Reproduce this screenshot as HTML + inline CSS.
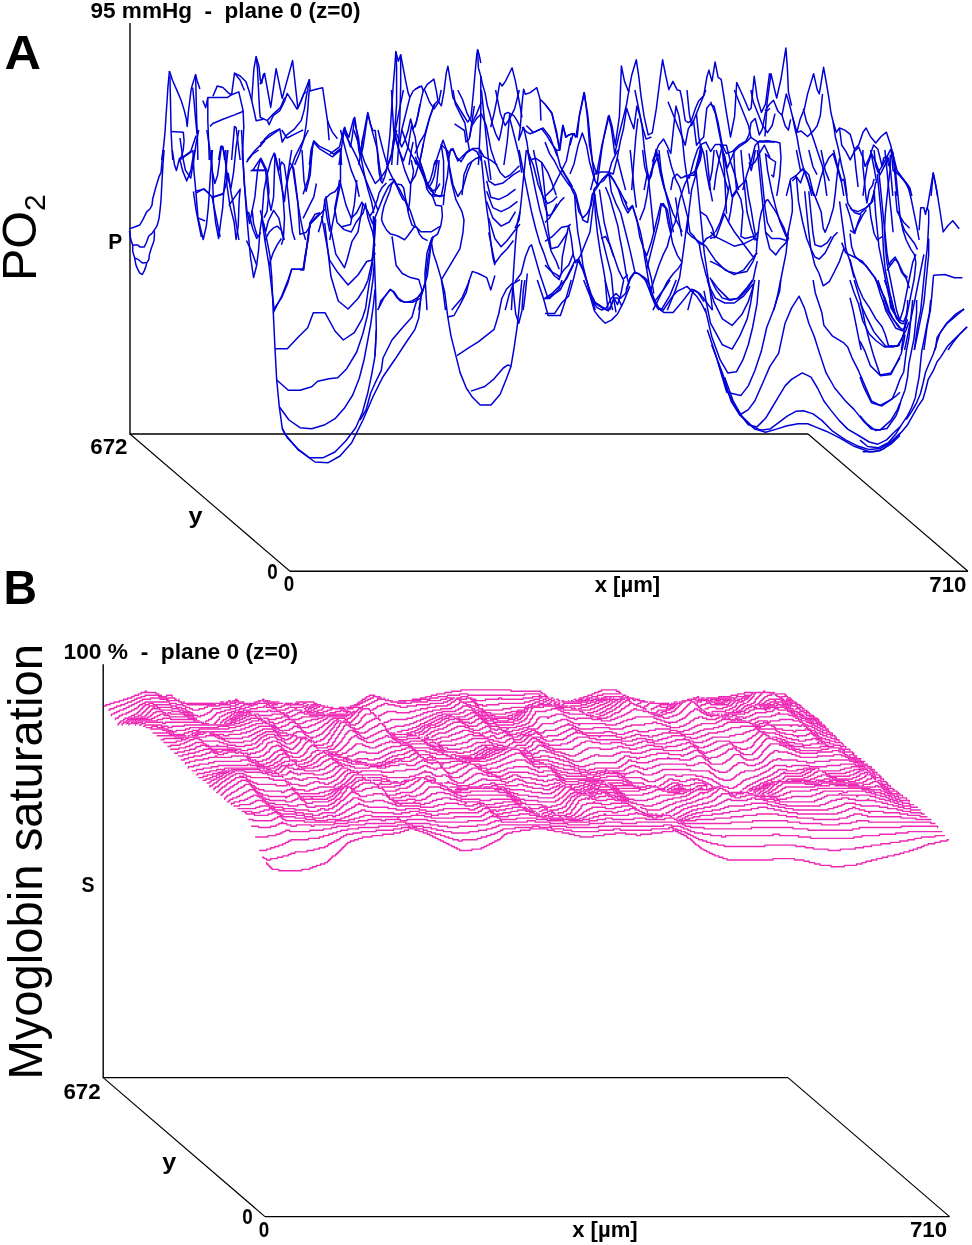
<!DOCTYPE html>
<html><head><meta charset="utf-8"><title>PO2 and myoglobin saturation</title>
<style>
html,body{margin:0;padding:0;background:#fff;}
svg{display:block;}
text{font-family:"Liberation Sans",Arial,sans-serif;fill:#000;white-space:pre;}
</style></head><body>
<svg width="972" height="1245" viewBox="0 0 972 1245">
<rect width="972" height="1245" fill="#fff"/>
<g stroke="#000" stroke-width="1.4" fill="none">
<polyline points="130,23 130,434 808,434"/>
<polyline points="290,571.3 968,571.3"/>
<polyline points="103.2,664.3 103.2,1077.6 788,1077.6"/>
<polyline points="265,1216.6 949.5,1216.6"/>
<g stroke-width="1.15"><polyline points="130,434 290,571.3"/><polyline points="808,434 968,571.3"/><polyline points="103.2,1077.6 265,1216.6"/><polyline points="788,1077.6 949.5,1216.6"/></g>
</g>
<g stroke="#0000d6" stroke-width="1.5" fill="none" stroke-linejoin="round">
<polyline points="129.2,228.9 134.6,227 139.8,225 143,219.3 146.8,211.6 150,209 152,205.1 152.6,200"/>
<polyline points="129.5,230.8 130.8,239.8 132.7,245 137.8,245 139.8,246.9 144.3,246.9 146.2,243 148.8,236 152,233.4 153.9,230.8 157.1,225.7 159,218.6 160.3,207.7 161,200"/>
<polyline points="132.7,245 132.7,251.4 134.6,257.8 138.5,259.7 142.3,262.9 146.8,262.6 148.8,259.7 149.4,254.6 151.3,248.2 153.9,241.1 154.5,234.7 154.2,230.8"/>
<polyline points="134.6,257.8 135.9,264.9 137.8,269.4 139.8,273.2 142.3,274.5 144.3,270.6 145.6,267.4 146.8,262.6"/>
<polyline points="275,348.7 287.3,348.7 298.3,337 307.7,327.7 313.3,312.7 325,312.7 335,331 343.3,340 354.3,332.7 362.3,318.7 365.7,307.7 367.3,296 369.3,282.7 371.7,269.3 373.3,256 374.3,242.7 375,232.7 375.7,219.3"/>
<polyline points="276.7,380 288.3,390.3 300,390.3 311.7,386.7 317.7,381.3 329,378.7 337.7,377.7 346.7,368.7 356.7,352 362.7,334.3 367.3,316 370.7,296 373,279.3 374.3,262.7"/>
<polyline points="279.3,406.7 289,420 300,427.7 311.7,428.7 325,424.7 335,418.7 344.3,408.3 352.7,395 359.3,378.3 364,360 367.3,342.7 370.7,324.3 373.3,306 375,289.3"/>
<polyline points="282.3,428.7 287.3,437.7 298.3,449.3 309.3,457.7 323.3,457.7 335,452 345.7,441 355.7,427.7 362.3,412.7 367.7,393.3 371.7,374.3 375,356 376.3,330"/>
<polyline points="285,434.3 298.3,450 315,462 328.3,462.7 340,456 351.7,442.7 363,420 373.3,396 383,376.7 395,359.3 405.7,343 415,329.3 418.7,318.3 421,297 427.3,275.7 431,245 433.3,236"/>
<polyline points="360,420 366,410 370.7,393 375.3,382.7 381.3,370.3 383,358 392,340 401.3,329 412,317 415,306 417.3,298.7 422.7,291"/>
<polyline points="379,307.7 380.7,301 385.3,295.7 390.3,289.3 392.7,291 396.7,297.3 400.3,301 405.7,302.3 412,301 418,297.3 422.7,291 425,282.7 426.7,269.3 428.3,256 431,245"/>
<polyline points="263.3,222.7 266.7,239.3 270,256 271.7,276 273.3,312.7 275,348.7 276.7,380 279.3,406.7 282.3,428.7 285,434.3"/>
<polyline points="373.3,216 374.3,256 375.7,296 376.3,330 375,356"/>
<polyline points="273.3,312.7 281.7,296 288.3,279.3 291.7,269.3 303.3,269.3 305,256 308.3,239.3 310,222.7 315,214.3 320,212.7"/>
<polyline points="711.6,280 718.1,288.6 728.9,299.4 737.5,298.4 746.2,288.6 752.6,280"/>
<polyline points="707.3,280 713.8,301.6 722.4,318.9 732.1,325.4 741.8,314.6 748.3,301.6 752.6,288.6 754.8,280"/>
<polyline points="704,290.8 710.5,323.2 722.4,344.8 732.1,349.1 739.7,336.2 747.2,318.9 750.5,303.8 753.7,284.3"/>
<polyline points="705.1,308.1 711.6,336.2 720.2,359.9 727.8,372.9 736.4,371.8 742.9,359.9 748.3,344.8 752.6,327.5 757,303.8 759.1,280"/>
<polyline points="707.3,329.7 715.9,355.6 726.7,392.3 740.8,395.6 748.3,385.9 754.8,370.7 761.3,351.3 766.7,327.5 774.3,308.1 779.7,290.8 780.7,280"/>
<polyline points="711.6,344.8 722.4,372.9 731,401 739.7,415 748.3,409.6 754.8,401 763.4,381.5 769.9,366.4 778.6,353.4 785.1,323.2 791.5,308.1 799.1,296.2 804.5,308.1 808.8,323.2 814.2,336.2 819.6,353.4 826.1,372.9 834.7,388 845.5,401 854.2,409.6 862.8,420.4 871.5,429.1 880.1,430.1 890.9,420.4 897.4,409.6 900,403.1"/>
<polyline points="718.1,362.1 727.8,392.3 739.7,413.9 748.3,424.7 757,426.9 765.6,418.3 772.1,407.5 778.6,396.7 785.1,385.9 791.5,379.4 802.3,372.9 811,377.2 817.5,388 823.9,401 830.4,409.6 839.1,420.4 847.7,429.1 858.5,435.5 869.3,442 877.9,444.2 886.6,439.9 895.2,431.2 900,426.9"/>
<polyline points="724.6,377.2 733.2,401 741.8,416.1 752.6,426.9 761.3,430.1 769.9,429.1 778.6,422.6 787.2,416.1 795.9,411.3 803.4,410.7 813.1,413.9 821.8,420.4 832.6,431.2 845.5,439.9 858.5,446.3 869.3,449.6 880.1,448.5 890.9,442 900,433.4"/>
<polyline points="739.7,415 754.8,429.1 765.6,432.3 776.4,429.1 787.2,425.8 798,423.7 807.7,423.7 815.3,426.9 826.1,431.2 839.1,437.7 854.2,446.3 869.3,451.7 880.1,450.7 890.9,444.2 900,435.5"/>
<polyline points="813.1,280 815.3,293 821.8,312.4 823.9,325.4 832.6,336.2 843.4,342.6 847.7,347 852,357.8 858.5,370.7 865,385.9 871.5,401 880.1,405.3 888.7,401 895.2,396.7 900,392.3"/>
<polyline points="849.9,280 854.2,293 858.5,303.8 862.8,321 869.3,334 875.8,340.5 884.4,347 893.1,347 900,344.8"/>
<polyline points="854.2,280 860.7,301.6 865,323.2 869.3,340.5 873.6,355.6 880.1,375.1 890.9,372.9 900,357.8"/>
<polyline points="877.9,280 882.3,293 886.6,305.9 893.1,318.9 900,327.5"/>
<polyline points="884.4,280 890.9,297.3 895.2,314.6 900,323.2"/>
<polyline points="161.7,160 163.6,146.6 165,132.2 166,116.3 167.1,100.5 167.9,87.5 169.4,71"/>
<polyline points="169.4,71 172.5,80.3 176.9,90.4 181.2,100.5 184.3,110.6 186.2,118.5 187.2,126.4 188.4,112 189.8,100.5 191,90.4 192,86.1 195.6,74.6 197,80.3 199.9,89"/>
<polyline points="169.9,76 170.5,101.9 171.1,132.2 172,149.5 172.8,160"/>
<polyline points="171.1,131.5 183.3,132.2 184.1,140.8 183.3,149.5 181.9,155.2 179.7,160"/>
<polyline points="195.6,74.6 196.2,100.5 196.7,120.7 197.3,133.6 197.9,160"/>
<polyline points="192.7,87.5 194.1,101.9 195.6,119.2 197,133.6"/>
<polyline points="202.8,100.5 205.7,107.7 207.8,97.6 227.3,97.6 231.6,94.7 238.8,91.9 243.1,110.6 243.8,126.4 243.1,140.8 242.4,160"/>
<polyline points="207.8,97.6 207.8,120.7 208.5,137.9 209.3,160"/>
<polyline points="210,126.4 212.9,123.5 222.9,119.2 234.5,114.9 241.7,112 243.1,110.6"/>
<polyline points="212.9,96.2 217.2,86.1 222.9,87.5 228.7,93.3 231.6,94.7"/>
<polyline points="231.6,94.7 234.5,73.1 240.2,76 246,81.8 248.9,90.4 251.7,100.5 254.6,113.5 256.1,120.7 263.3,119.2"/>
<polyline points="234.5,73.1 240.2,80.3 243.1,87.5 244.5,90.4"/>
<polyline points="251.7,100.5 253.9,68.8 256.1,56.6 258.9,65.9 260.4,80.3 261.8,83.2 263.3,74.6 265,73.1"/>
<polyline points="256.1,56.6 257.5,68.8 258.2,83.2 258.9,97.6 259.7,112 260.4,117.8"/>
<polyline points="218.6,160 220.8,146.6 222.9,146.6 224.7,160"/>
<polyline points="231.6,160 234.5,126.4 236.2,127.9 238.8,149.5 240.2,160"/>
<polyline points="247.4,160 254.6,150.9 265,140.8"/>
<polyline points="179.7,160 192.7,150.9"/>
<polyline points="260,84.4 264.6,73.7 270.7,107.4 276.1,68.7 282.2,98.4 292.6,60.5 297.9,108.3 303.6,94.3 309.4,79.4"/>
<polyline points="260,117.3 267.4,120.6 269.1,124.7 273.2,115.7 279.8,110.7 284.7,100.8 287.2,93.4 292.1,100.8 297,109.1 301.2,100.8 303.6,94.3 306.1,91.8"/>
<polyline points="267.4,120.6 273.2,114 280.6,107.4 284.7,97.6"/>
<polyline points="260,146.9 264.9,138.7 269.9,133.8 276.5,130.5 279.8,128.8 282.2,142 286.3,135.4 294.6,128.8 301.2,120.6 304.4,109.1 306.1,97.6 307.7,89.3 309.4,79.4"/>
<polyline points="309.4,79.4 310.2,91 316,89.3 322.6,87.7 325,104.1 327.5,120.6 330,127.2 332.4,132.1 337.4,138.7"/>
<polyline points="327.5,120.6 329.1,140.3"/>
<polyline points="294.6,165 299.5,153.5 303.6,140.3 306.1,125.5 307.7,110.7 308.6,97.6 309.4,89.3"/>
<polyline points="309.4,165 311,150.2 313.5,142 319.3,148.6 325.8,152.7 332.4,156.8 337.4,152.7 340.7,150.2 341.5,165"/>
<polyline points="339,165 342.3,142 344.8,127.2 347.2,137.1 350.5,146.9 352.2,137.1 354.7,117.3 357.1,133.8 358.8,150.2 360.4,156.8 362.1,142 363.7,133.8 365.3,125.5 367.8,112.4 370.3,123.9 372.8,130.5 375.2,130.5 376.9,146.9 378.5,165"/>
<polyline points="358.8,165 360.4,155.2 362.9,137.1"/>
<polyline points="386.7,165 390,133.8 391.7,107.4 393.3,84.4 395,64.6 395.8,51.5 398.3,61.3 400.7,54.8 403.2,67.9 405.7,81.1 408.1,92.6 409.8,97.6 413.1,91 420,86"/>
<polyline points="395.8,51.5 396.6,67.9 396.6,104.1 395,127.2 393.3,142 391.7,165"/>
<polyline points="400.7,54.8 400.7,84.4 399.9,117.3 399.1,133.8 398.3,150.2 397.4,165"/>
<polyline points="409.8,97.6 404.9,117.3 401.6,130.5 399.9,142"/>
<polyline points="396.6,133.8 401.6,146.9 404.9,140.3 408.1,130.5 410.6,119 413.1,128.8 416.4,122.2 420,104.1"/>
<polyline points="409,165 411.4,150.2 413.1,142"/>
<polyline points="415,89.3 421.6,86 423.2,91 427.3,84.4 433.9,79.1 436.1,89.3 438,100.8 441.3,105.8 443.8,92.6 446.3,72.9 447.9,66.3 450.4,81.1 452.9,97.6 457.8,105.8 462.7,114 467.7,122.2 471,117.3 473.4,92.6 475.1,72.9 476.7,54.8 477.6,49.8 479.2,54.8 480.8,63"/>
<polyline points="415,127.2 418.3,114 421.6,97.6 423.2,91"/>
<polyline points="415,153.5 419.9,142 424.9,133.8 429.8,117.3 434.8,104.1 438,100.8"/>
<polyline points="477.6,49.8 478.4,67.9 480.8,76.2 482.5,84.4 485,92.6 487.4,105.8 489.9,114 492.4,123.9 495.7,133.8 499,140.3 500.6,133.8 502.2,125.5 504.7,114 508,112.4 513.8,115.7 517.1,120.6 520.3,127.2 518.7,140.3 523.6,127.2 526.9,142 530.2,165"/>
<polyline points="480.8,76.2 480.8,100.8 480.8,117.3 480,133.8 479.2,150.2 478.4,165"/>
<polyline points="490.7,127.2 494,114 497.3,97.6 499.8,82.7 502.2,86 505.5,81.1 508.8,74.5 512.1,67.9 515.4,81.1 517.9,94.3 520.3,107.4 522,117.3"/>
<polyline points="520.3,127.2 522,104.1 523.6,89.3 525.3,94.3 530.2,92.6 536.8,87.7 540.1,99.2 545,104.1 551.6,112.4 554.9,127.2 558.2,142 559.9,150.2 563.1,125.5 565.6,137.1 568.1,135.4 571.4,133.8 575,133.8"/>
<polyline points="522,127.2 526.9,132.1 530.2,133.8 541.7,128.8 546.7,135.4 551.6,143.6 556.6,150.2 559.9,150.2"/>
<polyline points="540.1,99.2 540.9,120.6"/>
<polyline points="434.8,165 443,140.3 447.9,153.5 452.9,148.6 456.2,156.8 461.1,161.7 466,153.5 472.6,148.6 479.2,148.6 484.1,156.8 490.7,160.1 497.3,165"/>
<polyline points="454.5,123.9 459.4,127.2 464.4,130.5 466,142 469.3,138.7 472.6,117.3 474.3,105.8"/>
<polyline points="503.9,165 507.2,142 509.7,114"/>
<polyline points="570,145.2 573.1,133.9 577.2,137 579.3,116.4 584.4,92.8 587.5,118.5 589.5,145.2 592.6,161.7 596.7,174 601.9,145.2 605,132.9 609.1,115.4 612.2,126.7 615.3,145.2 619.4,116.4 621.4,66 624.5,81.4 628.6,91.7 631.7,75.3 636.3,59.8 638.9,77.3 641,95.8 644.1,116.4 648.2,134.9 652.3,132.9 656.4,108.2 660.5,75.3 662.6,59.8 665.7,75.3 668.8,89.7 672.9,81.4 677,89.7 680.1,90.7 682.1,100 685.2,120.5 688.3,122.6 691.4,120.5 695.5,108.2 698.6,101 703.7,95.8 706.8,77.3 708.9,70.1 712,81.4 715.1,61.9 718.1,77.3 721.2,79.4 726.4,112.3 730.5,137 734.6,116.4 736.7,82.5 742.8,95.8 749,110.2 751.1,108.2 754.2,76.3 757.2,97.9 761.4,112.3 765.5,104.1 769.6,73.2"/>
<polyline points="570,174 574.1,163.7 578.2,145.2 582.3,132.9 586.5,145.2 589.5,161.7 594.7,180.2"/>
<polyline points="617.3,157.6 620.4,141.1 623.5,128.8 626.6,108.2 630.7,120.5 633.8,128.8 636.9,106.1 640,116.4 643,128.8 646.1,139.1 651.3,137"/>
<polyline points="652.3,161.7 658.5,145.2 663.6,139.1 666.7,145.2 670.8,153.5 673.9,124.7 676,106.1 679.1,116.4 682.1,137 685.2,145.2 688.3,128.8 693.5,120.5 696.5,145.2 699.6,141.1 703.7,137 706.8,108.2 709.9,104.1 714,106.1 718.1,122.6 722.3,145.2 726.4,153.5 732.6,151.4 738.7,145.2 745.9,141.1 749,134.9 751.1,122.6 755.2,118.5 759.3,134.9 762.4,128.8 765.5,112.3 770,108.2"/>
<polyline points="590.6,190.1 594.7,174 600.9,172 608.1,172 613.2,174 617.3,157.6 621.4,174 625.6,190.1"/>
<polyline points="631.7,190.1 633.8,161.7 635.8,137 637.9,118.5"/>
<polyline points="644.1,190.1 647.2,174 650.2,178.1 654.4,157.6 656.4,153.5 660.5,174 664.7,190.1"/>
<polyline points="670.8,190.1 672.9,178.1 677,174 681.1,178.1 685.2,176.1 689.3,178.1 693.5,161.7 697.6,149.3 700.7,145.2 703.7,153.5 706.8,174 709.9,190.1"/>
<polyline points="714,190.1 716.1,174 722.3,145.2 726.4,145.2 730.5,161.7 734.6,174 738.7,190.1"/>
<polyline points="742.8,190.1 747,174 751.1,161.7 755.2,145.2 759.3,141.1 770,141.1"/>
<polyline points="749,153.5 751.1,165.8 755.2,161.7 759.3,153.5 764.4,145.2 770,157.6"/>
<polyline points="765,136.5 767.1,102.4 771,73.7 774.6,89.6 776.7,98.1 781,79 785.9,48.1 787.4,68.3 788.4,91.8 791.6,105.6"/>
<polyline points="765,110.9 769.3,104.5 773.5,100.3 777.8,110.9 782,115.2 786.3,93.9 789.5,104.5 792.7,117.3 796.9,132.2 800.1,119.4 804.4,108.8 807.6,93.9 813.6,73.7 817.2,89.6 819.3,93.9 823.6,67.3 826.8,85.4 828.9,98.1 831,113 833.1,121.6 836.3,132.2 839.5,128 844.9,130.1 850.2,134.3 854.4,149.3 858.7,145 863,132.2 866.1,128 870.4,136.5 875.7,142.9 881.1,136.5 886.4,132.2 890.6,145 892.8,153.5"/>
<polyline points="765,140.7 775.6,141.8 779.9,142.9 781,157.8 779.9,174.8 777.8,189.7 776.7,195.9"/>
<polyline points="765,153.5 769.3,157.8 775.6,162 773.5,176.9 771.4,174.8"/>
<polyline points="782,115.2 785.2,125.8 788.4,130.1 790.6,119.4"/>
<polyline points="792.7,117.3 794.8,128 796.9,136.5 799.1,149.3 802.3,164.2 805.5,174.8 809.7,185.5 814,195.9"/>
<polyline points="796.9,132.2 801.2,131.1 807.6,136.5 814,130.1 817.2,125.8 820.4,115.2 822.5,93.9"/>
<polyline points="803.3,108.8 806.5,121.6 809.7,128 814,140.7 818.2,153.5 822.5,166.3 824.6,179.1 826.8,195.9"/>
<polyline points="833.1,121.6 835.3,136.5 838.5,149.3 841.7,166.3 844.9,179.1 847,195.9"/>
<polyline points="839.5,128 841.7,145 845.9,151.4 850.2,159.9 854.4,151.4 858.7,147.1 863,157.8 865.1,166.3 869.3,157.8 873.6,145 877.9,149.3 882.1,166.3 886.4,157.8 890.6,149.3 892.8,153.5 897,170.5 903.4,179.1 909.8,187.6 911.9,195.9"/>
<polyline points="892.8,153.5 894.9,174.8 897,195.9"/>
<polyline points="931.1,195.9 933.2,172.7 935.4,183.3 937.5,195.9"/>
<polyline points="863,195.9 865.1,179.1 867.2,166.3 871.5,153.5 875.7,162 880,174.8 884.3,166.3 888.5,157.8 890.6,170.5 892.8,195.9"/>
<polyline points="786.3,195.9 790.6,179.1 796.9,174.8 803.3,168.4 807.6,179.1 811.8,195.9"/>
<polyline points="816.1,195.9 820.4,179.1 824.6,166.3 828.9,157.8 833.1,153.5 837.4,168.4 841.7,183.3 843.8,195.9"/>
<polyline points="152.4,200 155.9,187 159,176.7 161,172.6 162,162.3 163.1,150"/>
<polyline points="161,200 162,180.9 163.1,162.3 164.1,150"/>
<polyline points="172.3,150 174.4,164.4 176.4,170.6 179.5,158.2 182.6,170.6 186.7,180.9 190.8,170.6 192.9,158.2 195,150"/>
<polyline points="192.9,150 193.9,170.6 196,193.2 198,217.9 203.2,239.5 206.3,226.1 208.3,207.6 209.4,191.2 210.4,174.7 211.4,162.3 212.4,150"/>
<polyline points="196,193.2 203.2,189.1 209.4,193.2"/>
<polyline points="198,217.9 205.2,221"/>
<polyline points="211.4,150 212.4,174.7 213.5,203.5 215.5,222 218.6,238.5 220.7,222 222.7,207.6 223.8,191.2 225.8,170.6 227.9,150"/>
<polyline points="213.5,197.3 223.8,193.2"/>
<polyline points="225.8,150 226.9,185 229.9,205.6 234.1,222 236.1,239.5 238.2,226.1 239.2,199.4 240.2,189.1 228.9,205.6"/>
<polyline points="242.3,150 244.3,180.9 246.4,211.7 248.5,236.4 250.5,257 253.6,277.6 256.7,265.2 258.7,248.8 259.8,232.3 261.8,217.9 263.9,191.2 267,174.7 271.1,160.3 274.2,153.1 277.3,166.5 281.4,185 284.5,201.4 285.5,191.2 289.6,162.3 293.7,168.5 297.8,201.4 299.9,234.4 306.1,232.3 310.2,226.1"/>
<polyline points="248.5,211.7 252.6,228.2 256.7,238.5 260.8,232.3"/>
<polyline points="246.4,240.5 251.5,250.8 256.7,265.2"/>
<polyline points="261.8,217.9 264.9,240.5 269,265.2 271.1,283.7 274.2,310.1"/>
<polyline points="264.9,240.5 269,232.3 273.1,228.2 277.3,226.1 281.4,230.2 283.4,238.5 281.4,244.7"/>
<polyline points="269,265.2 273.1,252.9 277.3,244.7 281.4,238.5"/>
<polyline points="273.1,310.1 281.4,298.1 287.6,283.7 291.7,269.3 303,269.3 306.1,252.9 308.1,236.4 310.2,224.1 318.4,215.8 322.5,211.7 325,209.7"/>
<polyline points="289.6,162.3 291.7,150"/>
<polyline points="246.4,162.3 252.6,154.1 258.7,150"/>
<polyline points="252.6,170.6 260.8,158.2 267,170.6 269,191.2 267,211.7 263.9,217.9"/>
<polyline points="250.5,170.6 264.9,170.6"/>
<polyline points="302,150 304,180.9 306.1,191.2 310.2,174.7 312.2,150"/>
<polyline points="318.4,232.3 322.5,217.9 325,199.4"/>
<polyline points="279.3,158.2 281.4,180.9 283.4,201.4 284.5,217.9 283.4,238.5"/>
<polyline points="325.9,196 329.6,223.2 335.8,254.1 344.4,267.7 346.9,260.2 351.9,241.7 358,231.9 363,203.5"/>
<polyline points="321.6,215.8 329.6,260.2 337,271.4 348.1,284.9 358,275 366.7,261.5 371.6,260.2 375.3,252.8"/>
<polyline points="324.7,223.2 330.9,276.3 338.3,301 348.1,309 358,298.5 364.2,288.6 367.9,280.2 372,262 374,240 375,217"/>
<polyline points="300,270.1 303.7,270.1 307.4,241.7 309.9,223.2 316,217 319.8,213.3"/>
<polyline points="340.7,226.9 350.6,224.4 351.9,217 354.3,204.7 355.6,192.3 356.8,180"/>
<polyline points="392,236.4 396.1,265.2 402.3,273.5 410.5,277.6 418.8,279.6 421.9,289.9 420.8,298.1 418.8,310.1"/>
<polyline points="377.6,310.1 383.8,298.1 390,289.9 394.1,292 398.2,298.1 404.4,302.3 412.6,302.3 420.8,298.1"/>
<polyline points="431.1,240.5 433.2,252.9 437.3,265.2 441.4,279.6 443.5,294 445.5,310.1"/>
<polyline points="427,310.1 426,294 424.9,273.5 427,252.9 431.1,240.5"/>
<polyline points="441.4,279.6 447.6,269.3 453.7,259.1 459.9,248.8 463,232.3 464,220 462,211.7 455.8,199.4 451.7,182.9 449.6,170.6 447.6,150"/>
<polyline points="451.7,310.1 462,298.1 468.1,283.7 472.3,271.4 478.4,273.5 486.7,277.6 490.8,289.9 494.9,275.5"/>
<polyline points="462,195.3 464,174.7 468.1,164.4 476.4,158.2 482.6,156.2"/>
<polyline points="484.6,160.3 488.7,180.9 494.9,185 503.1,182.9 513.4,174.7 520,170.6"/>
<polyline points="486.7,180.9 490.8,197.3 499,199.4 507.2,195.3 515.5,189.1"/>
<polyline points="486.7,191.2 492.8,207.6 501.1,211.7 509.3,207.6 517.5,201.4"/>
<polyline points="486.7,201.4 492.8,217.9 501.1,226.1 509.3,222 515.5,211.7"/>
<polyline points="480.5,150 482.6,170.6 484.6,191.2 486.7,207.6 488.7,222 490.8,242.6 492.8,257 494.9,265.2"/>
<polyline points="488.7,217.9 494.9,238.5 501.1,246.7 507.2,240.5 513.4,232.3 520,224.1"/>
<polyline points="488.7,232.3 494.9,263.2 501.1,254.9 507.2,248.8 513.4,240.5"/>
<polyline points="505.2,310.1 509.3,294 513.4,283.7 520,279.6"/>
<polyline points="511.4,310.1 513.4,273.5 515.5,242.6 517.5,222 520,211.7"/>
<polyline points="519.1,150 523.2,170.6 527.3,191.2 531.5,211.7 535.6,228.2 539.7,242.6 543.8,252.9 547.9,265.2 554.1,275.5 559.2,279.6 561.3,273.5 562.3,257 566.4,236.4 568.5,226.1 570.6,224.1"/>
<polyline points="527.3,150 531.5,170.6 535.6,191.2 539.7,209.7 543.8,224.1 547.9,238.5 551,250.8 556.2,261.1 559.2,269.3"/>
<polyline points="533.5,150 537.6,170.6 541.7,191.2 544.8,205.6 547.9,215.8 552,213.8 556.2,207.6 560.3,201.4 564.4,197.3"/>
<polyline points="529.4,160.3 535.6,158.2 541.7,162.3 547.9,172.6 552,182.9 556.2,195.3"/>
<polyline points="541.7,162.3 543.8,182.9 545.9,203.5 547.9,228.2 551,248.8 558.2,246.7 562.3,240.5 567.5,232.3"/>
<polyline points="556.2,150 560.3,166.5 566.4,176.7 572.6,187"/>
<polyline points="515,228.2 519.1,220 521.2,201.4 523.2,180.9 525.3,160.3 526.3,150"/>
<polyline points="515,281.7 521.2,273.5 525.3,257 529.4,246.7 531.5,244.7 535.6,259.1 539.7,273.5 543.8,285.8 547.9,298.1 554.1,294 560.3,289.9 564.4,281.7 568.5,273.5 574.7,261.1 578.8,259.1 582.9,269.3 587,281.7 591.1,294 595.2,302.3 601.4,306.4 607.6,310.1"/>
<polyline points="523.2,310.1 525.3,294 527.3,273.5"/>
<polyline points="562.3,170.6 568.5,180.9 572.6,191.2 574.7,195.3 576.7,201.4 578.8,211.7 582.9,217.9 587,213.8 591.1,205.6 594.2,189.1 599.4,182.9 603.5,180.9 608.6,173.7 613.8,180.9 619.9,191.2 624.1,199.4 627.1,203.5"/>
<polyline points="574.7,195.3 575.7,211.7 577.8,232.3 580.8,248.8 582.9,265.2 586,277.6 589.1,289.9 593.2,302.3 595.2,310.1"/>
<polyline points="594.2,189.1 595.2,211.7 597.3,232.3 600.4,252.9 603.5,269.3 605.5,281.7 609.7,298.1 612.7,310.1"/>
<polyline points="605.5,187 609.7,197.3 613.8,211.7 617.9,226.1 619.9,238.5 622,248.8 624.1,261.1 626.1,273.5 628.2,281.7"/>
<polyline points="601.4,238.5 605.5,236.4 609.7,244.7 613.8,257"/>
<polyline points="608.6,173.7 611.7,162.3 615.8,154.1 617.9,150"/>
<polyline points="624.1,199.4 628.2,209.7 632.3,205.6 636.4,217.9 640.5,232.3 642.6,242.6 644.6,257 646.7,269.3 648.7,281.7 650.8,294 654.9,304.3 659,310.1"/>
<polyline points="630.2,150 632.3,170.6 634.3,191.2 636.4,207.6"/>
<polyline points="609.7,310.1 613.8,298.1 617.9,298.1 622,306.4"/>
<polyline points="626.1,289.9 630.2,277.6 634.3,272.4 638.5,273.5 644.6,277.6 648.7,281.7"/>
<polyline points="642.6,150 644.6,166.5 648.7,180.9 650.8,172.6 654.9,162.3 659,154.1"/>
<polyline points="648.7,180.9 650.8,201.4 652.9,222 653.9,232.3"/>
<polyline points="659,150 661.1,170.6 665.2,191.2 669.3,207.6 671.4,222 673.4,232.3"/>
<polyline points="646.7,269.3 650.8,252.9 654.9,236.4 659,220 661.1,205.6 663.1,203.5 667.3,209.7 671.4,232.3 669.3,238.5 667.3,246.7 663.1,254.9 659,265.2 654.9,277.6 650.8,289.9"/>
<polyline points="667.3,150 671.4,166.5 675.5,178.8 679.6,187 683.7,201.4 687.8,217.9 689.9,232.3"/>
<polyline points="675.5,197.3 677.6,211.7 679.6,224.1 681.7,236.4"/>
<polyline points="689.9,232.3 694,236.4 698.1,242.6 702.2,244.7 706.4,238.5 710.5,236.4 715,232.3"/>
<polyline points="683.7,176.7 689.9,174.7 696.1,170.6 700.2,160.3 702.2,150"/>
<polyline points="687.8,217.9 685.8,232.3 683.7,248.8 681.7,263.2 677.6,269.3 673.4,273.5 667.3,281.7 661.1,294 657,302.3 652.9,310.1"/>
<polyline points="681.7,263.2 679.6,277.6 675.5,289.9 671.4,300.2 667.3,310.1"/>
<polyline points="687.8,310.1 692,294 694,289.9 700.2,294 706.4,302.3 712.5,310.1"/>
<polyline points="696.1,170.6 698.1,191.2 700.2,211.7 702.2,232.3 704.3,252.9 707.4,273.5 710.5,294 712.5,310.1"/>
<polyline points="700.2,211.7 706.4,215.8 712.5,228.2 715,238.5"/>
<polyline points="706.4,150 708.4,170.6 710.5,191.2 712.5,201.4"/>
<polyline points="710,261.1 718.2,265.2 728.5,271.4 736.7,273.5 747,271.4 753.2,261.1 756.3,252.9 757.3,236.4"/>
<polyline points="710,238.5 716.2,236.4 724.4,213.8 728.5,222 734.7,232.3 740.9,240.5 747,248.8 753.2,257 757.3,252.9"/>
<polyline points="710,277.6 716.2,289.9 722.3,298.1 730.6,300.2 738.8,298.1 747,289.9 753.2,279.6 755.3,269.3 757.3,261.1"/>
<polyline points="728.5,222 730.6,211.7 732.6,197.3 736.7,191.2 740.9,199.4 742.9,211.7 740.9,236.4 745,238.5 753.2,236.4 757.3,240.5"/>
<polyline points="736.7,191.2 734.7,170.6 733.7,150"/>
<polyline points="722.3,150 724.4,170.6 725.4,191.2 726.5,213.8"/>
<polyline points="710,180.9 712.1,170.6 714.1,150"/>
<polyline points="716.2,150 722.3,170.6 728.5,191.2"/>
<polyline points="740.9,150 742.9,170.6 745,191.2 747,211.7 751.2,228.2 755.3,240.5"/>
<polyline points="749.1,162.3 751.2,170.6 753.2,162.3 755.3,150"/>
<polyline points="757.3,150 759.4,170.6 761.4,191.2 763.5,211.7 765.6,232.3 769.7,248.8 775.8,254.9 780,248.8 786.1,242.6 788.2,232.3"/>
<polyline points="765.6,154.1 767.6,170.6 771.7,191.2 775.8,207.6 780,222 786.1,236.4 789.2,238.5"/>
<polyline points="767.6,199.4 771.7,205.6 775.8,211.7 780,220 784.1,228.2 788.2,240.5"/>
<polyline points="765.6,232.3 771.7,238.5 780,238.5 786.1,240.5"/>
<polyline points="757.3,240.5 759.4,222 761.4,211.7 765.6,201.4 767.6,199.4"/>
<polyline points="790.2,180.9 792.3,201.4 792.3,211.7 788.2,232.3 786.1,252.9 782,273.5 777.9,294 773.8,310.1"/>
<polyline points="792.3,180.9 796.4,176.7 800.5,182.9 804.7,170.6 808.8,174.7 812.9,191.2 817,201.4 821.1,211.7 823.2,228.2 825.2,232.3 829.3,222 833.5,207.6 835.5,191.2 837.6,170.6 839.6,158.2"/>
<polyline points="796.4,176.7 798.5,201.4 802.6,222 806.7,238.5 810.8,248.8 814.9,257 819.1,259.1 825.2,252.9 829.3,244.7 833.5,236.4 837.6,232.3"/>
<polyline points="808.8,191.2 810.8,211.7 812.9,232.3 814.9,244.7 821.1,246.7 827.3,242.6 831.4,236.4"/>
<polyline points="804.7,191.2 806.7,211.7 808.8,232.3 810.8,248.8 814.9,265.2 819.1,273.5 823.2,285.8 829.3,281.7 833.5,273.5 839.6,261.1 843.7,248.8"/>
<polyline points="839.6,201.4 841.7,217.9 843.7,232.3 845.8,248.8 849.9,261.1 854,277.6"/>
<polyline points="843.7,178.8 845.8,191.2 847.9,203.5 852,209.7 858.1,211.7 866.4,207.6 872.6,201.4 874.6,191.2"/>
<polyline points="845.8,203.5 849.9,215.8 854,232.3 858.1,224.1 862.3,215.8 866.4,209.7"/>
<polyline points="841.7,242.6 845.8,252.9 854,257 862.3,261.1 868.4,269.3 874.6,277.6 880.8,289.9 884.9,298.1 889,310.1"/>
<polyline points="884.9,150 887,170.6 889,191.2 891.1,211.7 893.1,232.3"/>
<polyline points="891.1,150 893.1,170.6 899.3,174.7 905.5,182.9 910,191.2"/>
<polyline points="878.7,170.6 880.8,191.2 882.8,211.7 884.9,232.3 887,252.9 889,265.2 891.1,261.1 895.2,257 899.3,265.2 903.4,273.5 907.5,277.6"/>
<polyline points="895.2,191.2 897.2,211.7 903.4,222 909.6,228.2"/>
<polyline points="870.5,150 874.6,170.6 876.7,182.9"/>
<polyline points="833.5,150 837.6,166.5 841.7,180.9 843.7,178.8"/>
<polyline points="821.1,150 825.2,170.6 829.3,180.9"/>
<polyline points="808.8,150 812.9,166.5 817,174.7"/>
<polyline points="796.4,150 800.5,170.6 802.6,170.6"/>
<polyline points="854,150 856.1,170.6 858.1,187"/>
<polyline points="927.1,209.4 930.3,190.2 933.2,173.3 936.7,190.2 940,211 943.2,231.9 948,225.5 952.8,220.7 959.2,228.7"/>
<polyline points="919.1,230.3 920.7,207.8 923.9,207.8 925.5,214.3 927.1,207.8 928.7,211 928.7,222.3 927.9,238.4 927.1,249.6 925.5,262.4 923.9,278.5 922.3,294.6 920.7,310.6 917.5,326.7 914.3,350"/>
<polyline points="933.5,275.3 944.8,274.5 954.4,277.7 962.4,277.7"/>
<polyline points="933.5,275.3 931.9,294.6 930.3,310.6 927.1,326.7 923.9,350"/>
<polyline points="964.1,309 956,313.9 946.4,323.5 940,333.1 936.7,342.8 935.1,350"/>
<polyline points="967.3,326.7 959.2,334.7 952.8,342.8 948,350"/>
<polyline points="892.6,151.6 895,166.1 896.6,182.1 898.2,198.2 899.8,214.3 903,230.3 906.2,240 911,249.6 914.3,254.4 915.9,262.4"/>
<polyline points="895,170.9 903,178.9 907.8,185.3 911,198.2 914.3,214.3 917.5,230.3 919.1,240"/>
<polyline points="898.2,211 901.4,222.3 904.6,230.3 909.4,236.7 914.3,243.2 917.5,249.6"/>
<polyline points="890.2,154.8 890.2,169.3 888.6,182.1 886.9,198.2 885.3,214.3 884.5,230.3 885.3,246.4 886.9,262.4 890.2,278.5 893.4,294.6 896.6,310.6 899.8,320.3 903,310.6 906.2,294.6 909.4,278.5 912.7,262.4 915.9,254.4"/>
<polyline points="886.9,270.5 890.2,265.7 895,259.2 898.2,262.4 901.4,272.1 906.2,278.5 909.4,288.2"/>
<polyline points="877.3,174.1 878.9,190.2 880.5,206.2 882.1,222.3 882.9,238.4 883.7,254.4 885.3,270.5 888.6,286.5 891.8,302.6 896.6,318.7 901.4,323.5 906.2,323.5"/>
<polyline points="874.1,190.2 875.7,214.3 877.3,230.3 878.9,246.4 882.1,262.4 885.3,278.5 888.6,294.6 891.8,307.4 896.6,317.1"/>
<polyline points="869.3,203 870.9,217.5 874.1,233.5 877.3,240 882.1,236.7"/>
<polyline points="850,233.5 851.6,246.4 854.8,256 859.6,260.8 866.1,265.7 870.9,272.1 875.7,278.5 880.5,294.6 885.3,307.4 891.8,317.1 898.2,326.7 903,329.9 906.2,326.7"/>
<polyline points="850,259.2 853.2,272.1 858,286.5 862.9,297.8 869.3,307.4 875.7,318.7 882.1,326.7 885.3,334.7 888.6,346 898.2,346 901.4,339.6 904.6,331.5"/>
<polyline points="850,297.8 853.2,310.6 856.4,326.7 859.6,342.8 861.2,350"/>
<polyline points="850,207.8 854.8,212.7 859.6,214.3 862.9,211 870.9,203 874.1,191.8 875.7,182.1"/>
<polyline points="850,230.3 854.8,233.5 858,222.3 861.2,214.3"/>
<polyline points="862.9,150 862.9,166.1 864.5,182.1 866.1,198.2 866.9,203 869.3,190.2 872.5,185.3 874.1,178.9"/>
<polyline points="874.1,150 875.7,166.1 878.1,172.5 882.1,166.1 883.7,158 886.9,156.4 888.6,166.1"/>
<polyline points="914.3,350 917.5,334.7 920.7,318.7 923.9,302.6 925.5,286.5 927.1,270.5 928.7,254.4 928.7,238.4"/>
<polyline points="904.6,350 907.8,334.7 911,318.7 914.3,302.6 917.5,286.5 920.7,270.5 923.9,254.4"/>
<polyline points="915.9,262.4 914.3,278.5 911,294.6 907.8,310.6 904.6,326.7 901.4,350"/>
<polyline points="441.6,280 444.7,292.3 447.8,317 450.9,335.6 455.5,354.1 460.1,372.6 466.3,388 472.5,397.3 480.2,405 491,405 500.2,394.2 506.4,378.8 511,366.4 514.1,347.9 517.2,326.3 518.8,310.9 520.3,295.4 521.9,280"/>
<polyline points="447.8,317 454,315.5 460.1,304.7 466.3,292.3 469.4,280"/>
<polyline points="457,355.6 466.3,349.4 478.6,341.7 494.1,329.4 498.7,314 501.8,298.5 506.4,289.3 512.6,283.1"/>
<polyline points="470.9,391.1 484.8,386.5 494.1,378.8 503.3,368 508,364.9 511,366.4"/>
<polyline points="512.6,283.1 514.1,298.5 515.7,314 518.8,323.2 521.9,310.9 523.4,289.3 524.9,280"/>
<polyline points="537.3,280 543.5,298.5 548.1,315.5 560.4,315.5 565.1,301.6 571.2,280"/>
<polyline points="543.5,298.5 549.6,298.5 558.9,289.3 562,280"/>
<polyline points="583.6,280 589.8,295.4 594.4,310.9 599,317 605.2,323.2 611.4,320.1 617.5,314 623.7,301.6 629.9,286.2"/>
<polyline points="592.8,301.6 602.1,307.8 608.3,310.9 614.4,298.5 617.5,304.7 620.6,295.4 623.7,280"/>
<polyline points="605.2,280 606.7,298.5 608.3,310.9"/>
<polyline points="645.3,280 651.5,295.4 657.7,307.8 663.8,312.4 673.1,312.4 682.3,301.6 691.6,289.3 697.8,292.3 704,301.6"/>
<polyline points="654.6,301.6 663.8,289.3 670,280"/>
<polyline points="660.7,310.9 670,295.4 676.2,280"/>
<polyline points="860,302.6 866.4,316.7 874.1,332.1 885.7,346.3 897.3,346.3 902.4,337.3 906.3,329.6 908.8,321.9"/>
<polyline points="860,341.1 865.1,351.4 870.3,365.6 880.6,375.8 890.8,374.6 897.3,361.7 901.1,354 903.7,342.4 905,334.7"/>
<polyline points="860,377.1 863.9,387.4 871.6,402.8 881.9,406 892.1,399 896,390 899.8,379.7 903.7,372 905,361.7 906.3,351.4 908.8,338.6 910.1,325.7 911.4,312.9 912.7,300"/>
<polyline points="860,415.7 866.4,423.4 875.4,430.5 887,428.5 896,415.7 898.6,409.3 901.1,400.3 905,390 907.6,377.1 908.8,364.3 911.4,351.4 914,338.6 915.3,325.7 916.6,312.9 916.6,300"/>
<polyline points="860,440.1 867.7,446.5 878,447.8 888.3,442.7 896,433.7 902.4,423.4 907.6,415.7 911.4,408 915.3,397.7 916.6,390 919.1,377.1 920.4,364.3 921.7,351.4 924.3,338.6 926.8,325.7 929.4,312.9 930.7,300"/>
<polyline points="862.6,451.7 874.1,451.7 883.1,449.1 892.1,441.4 901.1,432.4 907.6,424.7 912.7,415.7 917.8,406.7 923,399 925.6,390 928.1,379.7 933.3,370.7 937.1,361.7 941,356.6 947.4,346.3 955.1,338.6 959,334.7 966.7,327"/>
<polyline points="906.3,419.5 911.4,411.8 916.6,402.8 920.4,393.8 923,383.5 925.6,372 929.4,363 933.3,354 935.8,346.3 937.1,337.3 942.3,329.6 947.4,323.1 955.1,316.7 964.1,309"/>
<polyline points="883.1,300 885.7,310.3 890.8,319.3 896,328.3 902.4,330.8 905,327 907.6,319.3"/>
<polyline points="889.6,300 890.8,307.7 894.7,314.1 898.6,319.3 903.7,321.9 906.3,315.4 907.6,306.4 907.6,300"/>
<polyline points="180,138 182.7,156.8 185.4,170.1 190.7,178.2 193.4,162.1 196.1,143.4 198.7,130"/>
<polyline points="180,159.4 190.7,151.4 196.1,135.4"/>
<polyline points="193.4,191.5 196.1,210.3 198.7,223.6 201.4,237"/>
<polyline points="194.7,191.5 204.1,188.9 209.4,194.2 212.1,196.9 222.8,194.2 225.5,186.2 228.2,172.8"/>
<polyline points="206.8,130 209.4,146.1 212.1,170.1 214.8,183.5 217.5,175.5 221.5,146.1 224.1,151.4 226.8,172.8 230.8,188.9 233.5,172.8 236.2,146.1 238.9,130"/>
<polyline points="212.1,196.9 214.8,210.3 217.5,223.6 220.1,237"/>
<polyline points="228.2,172.8 230.8,191.5 233.5,204.9 236.2,223.6 238.9,240"/>
<polyline points="241.5,130 242.9,156.8 244.2,183.5 246.9,210.3 249.6,223.6 252.2,210.3 254.9,196.9 257.6,170.1 260.3,159.4 265.6,170.1 268.3,196.9 271,210.3 273.6,196.9 275,154.1 279,170.1 281.7,162.1 284.3,164.8 287,183.5 289.7,170.1 292.4,164.8 295,156.8 297.7,151.4 303.1,140.7 308.4,130"/>
<polyline points="252.2,170.1 265.6,170.1"/>
<polyline points="252.2,210.3 253.6,223.6 257.6,237"/>
<polyline points="260.3,210.3 262.9,221 265.6,231.7 268.3,221 273.6,210.3 279,218.3 281.7,231.7 284.3,240"/>
<polyline points="287,183.5 289.7,210.3 292.4,231.7 295,240"/>
<polyline points="292.4,164.8 295,183.5 297.7,202.2 300.4,218.3 303.1,231.7 305.7,240"/>
<polyline points="303.1,218.3 308.4,207.6 313.8,196.9 316.4,183.5"/>
<polyline points="303.1,194.2 308.4,178.2 311.1,156.8 313.8,140.7 319.1,146.1 329.8,151.4 333.8,154.1 340.5,148.7 340.5,167.5 340.5,183.5 337.8,196.9 335.2,210.3 332.5,223.6 329.8,240"/>
<polyline points="281.7,130 287,138 297.7,132.7 303.1,130"/>
<polyline points="260.3,143.4 271,135.4 279,130"/>
<polyline points="324.5,199.6 327.1,196.9 329.8,194.2 335.2,191.5 340.5,183.5"/>
<polyline points="324.5,199.6 327.1,218.3 329.8,231.7"/>
<polyline points="340.5,183.5 345.9,204.9 351.2,218.3 356.6,212.9 361.9,202.2 367.3,210.3 372.6,223.6 378,210.3 383.3,196.9 388.7,186.2 394,180.8 399.4,188.9 404.7,199.6 410.1,210.3 415.4,226.3 420.8,231.7 431.5,231.7 440,226.3"/>
<polyline points="340.5,130 345.9,151.4 351.2,170.1 356.6,183.5 359.2,196.9"/>
<polyline points="343.2,130 351.2,146.1 356.6,156.8 361.9,170.1 367.3,183.5 372.6,196.9 378,210.3"/>
<polyline points="353.9,130 359.2,146.1 364.6,162.1 369.9,172.8 375.3,183.5 380.6,178.2 386,170.1 391.3,156.8 394,143.4 396.7,130"/>
<polyline points="378,130 383.3,151.4 388.7,170.1 394,180.8"/>
<polyline points="394,130 399.4,151.4 404.7,170.1 410.1,183.5 415.4,175.5 420.8,156.8 423.4,143.4"/>
<polyline points="402,130 407.4,146.1 412.7,156.8 418.1,164.8 423.4,175.5 428.8,186.2 434.1,194.2 440,196.9"/>
<polyline points="415.4,156.8 420.8,170.1 426.1,183.5 431.5,191.5 436.8,188.9 440,183.5"/>
<polyline points="330,153.9 339.5,146.8 344.2,127.9 348.9,137.3 353.7,118.4 358.4,137.3 360.8,156.3 363.1,146.8 367.9,113.7 372.6,132.6 377.3,149.2 379.7,168.1 382.1,179.9"/>
<polyline points="339.5,179.9 337.1,196.5 334.7,208.3 337.1,222.5 344.2,229.6 351.3,232 356,222.5 363.1,213 365.5,203.6 367.9,217.8 372.6,232 375,246.2"/>
<polyline points="360.8,156.3 363.1,168.1 365.5,179.9 367.9,189.4 371.4,201.2 373.8,213"/>
<polyline points="386.8,168.1 391.5,153.9 393.9,137.3 396.3,125.5 398.6,113.7 401,101.8 403.4,90"/>
<polyline points="391.5,90 392.7,113.7 393.9,132.6 398.6,149.2 403.4,161 408.1,146.8 411.6,125.5 415.2,137.3 417.6,156.3 419.9,161 424.7,175.2 427,184.7 431.8,189.4 434.1,194.1"/>
<polyline points="424.7,90 429.4,101.8 434.1,108.9 438.8,101.8 441.2,90"/>
<polyline points="419.9,161 424.7,137.3 429.4,118.4 434.1,104.2"/>
<polyline points="431.8,194.1 441.2,196.5 443.6,184.7 443.6,161 441.2,144.4 445.9,149.2 448.3,161 450.7,149.2 453,149.2 457.8,161 462.5,156.3 467.2,151.5 472,149.2 476.7,151.5 481.4,161"/>
<polyline points="448.3,161 450.7,172.8 453,184.7 457.8,196.5 462.5,189.4 467.2,172.8 472,161"/>
<polyline points="453,90 455.4,104.2 460.1,113.7 464.9,123.1 467.2,137.3 469.6,151.5"/>
<polyline points="457.8,90 462.5,99.5 467.2,113.7 472,123.1 476.7,113.7 481.4,101.8"/>
<polyline points="469.6,137.3 472,125.5 476.7,118.4 481.4,113.7 486.2,125.5 490.9,149.2 495.6,163.4 500.4,172.8 505.1,177.6 509.8,175.2 514.6,170.5 519.3,165.7"/>
<polyline points="481.4,90 483.8,113.7 486.2,137.3 488.5,161 490.9,179.9"/>
<polyline points="495.6,90 500.4,113.7 505.1,125.5 509.8,118.4 514.6,108.9 519.3,90"/>
<polyline points="509.8,118.4 514.6,137.3 519.3,156.3 521.7,172.8"/>
<polyline points="526.4,125.5 533.5,132.6 543,127.9 550.1,137.3 557.2,156.3"/>
<polyline points="528.8,153.9 533.5,165.7 538.2,184.7 543,196.5 547.7,203.6 552.4,201.2 557.2,196.5"/>
<polyline points="545,104.2 552.1,113.7 556.8,132.6 559.2,149.2 562.7,125.5 566.3,137.3 568.7,135 573.4,133.8 575.8,137.3 579.3,116 584,92.4 587.6,113.7 590,137.3 592.3,161 594.7,179.9 597.1,184.7 601.8,149.2 604.2,135 608.4,116 611.3,127.9 614.8,153.9 618.4,137.3 623.1,118.4 626.6,104.2 629,90"/>
<polyline points="545,142.1 549.7,153.9 554.5,161 559.2,170.5 563.9,177.6 568.7,184.7 573.4,189.4 575.8,194.1 579.3,208.3 582.9,220.1 587.6,222.5 592.3,194.1 595.9,189.4 601.8,179.9 608.9,172.8 613.6,179.9 618.4,189.4 623.1,203.6 627.8,213 632.6,205.9 637.3,222.5 639.7,236.7 644.4,250.9 646.8,255.6 651.5,241.4 656.2,222.5 660.9,203.6 665.7,208.3 668,222.5 670.4,232 675.1,222.5 679.9,198.8 684.6,184.7 689.3,175.2 694.1,175.2 698.8,156.3 701.2,144.4 705.9,142.1 710.6,151.5 715.4,144.4 720.1,144.4 724.8,156.3 727.2,168.1 734.3,151.5 739,146.8 746.1,142.1 750.9,137.3 758,142.1 775,142.1"/>
<polyline points="545,196.5 552.1,189.4 556.8,179.9 561.6,170.5 566.3,161 568.7,149.2 571,137.3"/>
<polyline points="545,222.5 549.7,217.8 554.5,208.3 556.8,203.6"/>
<polyline points="545,241.4 552.1,236.7 556.8,232 561.6,227.2 568.7,226.1 571,236.7 573.4,255.6 575.8,262.7 580.5,255.6 585.2,243.8 590,232 592.3,213 594.7,194.1"/>
<polyline points="545,265.1 552.1,272.2 556.8,274.6 559.2,276.9 563.9,269.8 568.7,265.1 573.4,253.3"/>
<polyline points="545,298.2 552.1,293.5 559.2,286.4 566.3,279.3 571,269.8 573.4,265.1"/>
<polyline points="545,313.6 554.5,313.6 561.6,303 568.7,295.9 573.4,279.3 578.1,260.4 582.9,269.8 587.6,284 592.3,300.6 597.1,307.7 601.8,310.1 606.5,307.7 611.3,298.2 616,293.5 620.7,298.2 625.5,293.5 630.2,279.3 634.9,272.2 639.7,274.6 644.4,279.3 649.1,284 653.8,298.2 658.6,307.7 663.3,310.1 668,303 672.8,295.9 677.5,291.1 682.2,288.8 687,286.4 691.7,291.1 696.4,295.9 701.2,303 705.9,312.4"/>
<polyline points="599.4,189.4 604.2,222.5 608.9,241.4 613.6,255.6 618.4,269.8 623.1,279.3 627.8,274.6"/>
<polyline points="608.9,172.8 611.3,191.8 616,203.6 620.7,213 625.5,232 630.2,250.9 634.9,272.2"/>
<polyline points="594.7,194.1 597.1,213 601.8,236.7 606.5,255.6 611.3,274.6 613.6,298.2 616,312.4"/>
<polyline points="644.4,250.9 649.1,269.8 651.5,279.3 653.8,293.5"/>
<polyline points="670.4,232 672.8,243.8 677.5,255.6 682.2,262.7"/>
<polyline points="687,232 691.7,236.7 698.8,241.4 705.9,246.2 710.6,253.3 715.4,260.4 724.8,269.8 734.3,274.6 743.8,269.8 750.9,260.4 755.6,255.6"/>
<polyline points="687,232 689.3,208.3 691.7,189.4 696.4,172.8"/>
<polyline points="698.8,241.4 701.2,255.6 705.9,274.6 710.6,288.8 715.4,298.2 724.8,303 734.3,303 743.8,295.9 753.2,284"/>
<polyline points="710.6,232 715.4,236.7 724.8,241.4 734.3,246.2 743.8,243.8 753.2,239.1 758,232"/>
<polyline points="634.9,90 639.7,113.7 642,125.5 644.4,149.2 646.8,168.1 649.1,179.9 651.5,175.2 653.8,161 656.2,149.2"/>
<polyline points="649.1,179.9 646.8,196.5 644.4,208.3 639.7,220.1"/>
<polyline points="668,101.8 672.8,113.7 677.5,125.5 682.2,137.3 684.6,161 687,177.6 689.3,194.1"/>
<polyline points="656.2,149.2 658.6,161 660.9,172.8 663.3,184.7 668,198.8 672.8,213 677.5,222.5 682.2,232"/>
<polyline points="687,90 689.3,113.7 691.7,125.5 696.4,113.7 701.2,101.8 705.9,90"/>
<polyline points="696.4,113.7 698.8,137.3 701.2,149.2 698.8,161 694.1,175.2"/>
<polyline points="710.6,101.8 715.4,113.7 720.1,137.3 724.8,161 729.6,184.7 731.9,196.5 736.7,189.4 741.4,184.7 746.1,179.9"/>
<polyline points="729.6,184.7 727.2,196.5 724.8,208.3 720.1,222.5 715.4,232"/>
<polyline points="746.1,179.9 748.5,196.5 750.9,208.3 753.2,222.5 755.6,236.7"/>
<polyline points="758,142.1 760.3,161 762.7,184.7 765.1,208.3 767.4,222.5 772.2,232"/>
<polyline points="750.9,90 753.2,101.8 758,113.7 762.7,125.5 767.4,132.6 772.2,125.5 775,113.7"/>
<polyline points="734.3,90 739,101.8 743.8,113.7 748.5,125.5 750.9,137.3"/>
<polyline points="388.9,179.8 393.9,179.3 396.3,183.9 401.3,184.7 403.7,188 405.4,197.9 407,204.4 407.9,211 409.5,217.6 412,225 414.4,226.7 416.9,227.5 419.4,234.1 422.7,238.2 427.6,240.7"/>
<polyline points="393.9,181.4 391.4,184.7 389.8,191.3 386.5,199.5 384,206.1 382.3,213.5 381.5,219.3 383.2,224.2 386.5,230 390.6,234.1 394.7,234.9 398.8,236.5 404.6,239.8 407.9,235.7 412,230 414.4,226.7"/>
<polyline points="394.7,182.2 397.2,187.2 399.6,192.9 402.9,199.5 405.4,201.2 407,206.1"/>
<polyline points="378.2,160 379.1,172.3 380.7,180.6 382.3,183 384.8,176.5 386.5,169.9 388.1,164.1 389.8,160"/>
<polyline points="386.5,183 382.3,187.2 379.1,192.9 377.4,199.5 374.9,206.1 373.3,211 370,216"/>
<polyline points="407.9,211 409.5,202.8 410.3,192.9 410.7,184.7 411.2,182.2 412.8,176.5 413.6,170.7 412,164.1 411.2,160"/>
<polyline points="414.4,160 416.1,164.1 419.4,164.9 421.9,172.3 424.3,176.5 426,184.7 426.8,188.8 429.3,192.9 432.6,196.2 435.8,205.3 441.6,206.1 442.4,216 440.8,225.8 437.5,234.1 431.7,238.2 429.3,246.4 428.4,250"/>
<polyline points="431.7,196.2 444.1,195.4 443.3,205.3"/>
<polyline points="419.4,160 421.9,168.2 426,180.6 427.6,184.7 430.1,180.6 432.6,172.3 434.2,164.1 435.8,160"/>
<polyline points="427.6,188.8 431.7,183 434.2,176.5 435.8,168.2 437.5,160"/>
<polyline points="435,192.9 436.7,184.7 437.5,176.5 438.3,168.2 439.1,160"/>
<polyline points="444.1,195.4 445.7,184.7 447.4,176.5 448.2,168.2 449,160"/>
</g>
<g stroke="#ee28b4" stroke-width="1.4" fill="none" stroke-linejoin="round">
<polyline points="265.95,862.65 266.62,862.65 266.62,864 267.98,864 267.98,865.35 269.33,865.35 269.33,866.7 270.68,866.7 270.68,868.05 272.03,868.05 272.03,869.4 278.78,869.4 278.78,870.75 301.73,870.75 301.73,869.4 309.83,869.4 309.83,868.05 312.53,868.05 312.53,866.7 316.58,866.7 316.58,865.35 320.62,865.35 320.62,864 324.68,864 324.68,862.65 327.38,862.65 327.38,861.3 328.72,861.3 328.72,859.95 330.08,859.95 330.08,858.6 331.42,858.6 331.42,857.25 332.78,857.25 332.78,855.9 335.48,855.9 335.48,854.55 336.83,854.55 336.83,853.2 338.18,853.2 338.18,851.85 339.52,851.85 339.52,850.5 340.88,850.5 340.88,849.15 342.22,849.15 342.22,847.8 343.58,847.8 343.58,846.45 344.92,846.45 344.92,845.1 346.28,845.1 346.28,843.75 347.62,843.75 347.62,842.4 350.33,842.4 350.33,841.05 354.38,841.05 354.38,839.7 358.42,839.7 358.42,838.35 362.48,838.35 362.48,837 371.92,837 371.92,835.65 382.72,835.65 382.72,834.3 393.52,834.3 393.52,832.95 400.28,832.95 400.28,831.6 404.33,831.6 404.33,830.25 408.38,830.25 408.38,828.9 415.12,828.9 415.12,830.25 419.18,830.25 419.18,831.6 423.22,831.6 423.22,832.95 427.28,832.95 427.28,834.3 429.98,834.3 429.98,835.65 432.68,835.65 432.68,837 435.38,837 435.38,838.35 438.08,838.35 438.08,839.7 440.78,839.7 440.78,841.05 443.48,841.05 443.48,842.4 446.18,842.4 446.18,843.75 448.88,843.75 448.88,845.1 451.58,845.1 451.58,846.45 454.28,846.45 454.28,847.8 456.98,847.8 456.98,849.15 459.68,849.15 459.68,850.5 471.83,850.5 471.83,849.15 481.28,849.15 481.28,847.8 483.98,847.8 483.98,846.45 486.68,846.45 486.68,845.1 489.38,845.1 489.38,843.75 492.08,843.75 492.08,842.4 494.78,842.4 494.78,841.05 497.48,841.05 497.48,839.7 500.18,839.7 500.18,838.35 501.52,838.35 501.52,837 502.88,837 502.88,835.65 504.22,835.65 504.22,834.3 506.92,834.3 506.92,832.95 512.33,832.95 512.33,831.6 520.43,831.6 520.43,830.25 529.88,830.25 529.88,828.9 547.43,828.9 547.43,830.25 554.18,830.25 554.18,831.6 562.28,831.6 562.28,832.95 569.03,832.95 569.03,834.3 574.43,834.3 574.43,835.65 579.83,835.65 579.83,837 593.33,837 593.33,835.65 604.12,835.65 604.12,834.3 614.93,834.3 614.93,832.95 625.72,832.95 625.72,834.3 636.53,834.3 636.53,835.65 640.58,835.65 640.58,834.3 651.38,834.3 651.38,832.95 662.18,832.95 662.18,831.6 672.98,831.6 672.98,830.25 675.68,830.25 675.68,831.6 678.38,831.6 678.38,832.95 681.08,832.95 681.08,834.3 683.78,834.3 683.78,835.65 686.48,835.65 686.48,837 687.82,837 687.82,838.35 690.53,838.35 690.53,839.7 691.88,839.7 691.88,841.05 693.22,841.05 693.22,842.4 694.58,842.4 694.58,843.75 695.92,843.75 695.92,845.1 698.62,845.1 698.62,846.45 699.98,846.45 699.98,847.8 701.32,847.8 701.32,849.15 704.03,849.15 704.03,850.5 706.72,850.5 706.72,851.85 709.42,851.85 709.42,853.2 712.12,853.2 712.12,854.55 714.82,854.55 714.82,855.9 718.88,855.9 718.88,857.25 722.92,857.25 722.92,858.6 726.98,858.6 726.98,859.95 772.88,859.95 772.88,858.6 794.48,858.6 794.48,859.95 803.92,859.95 803.92,861.3 809.32,861.3 809.32,862.65 814.72,862.65 814.72,864 820.12,864 820.12,865.35 830.92,865.35 830.92,866.7 844.42,866.7 844.42,865.35 856.58,865.35 856.58,864 861.98,864 861.98,862.65 866.03,862.65 866.03,861.3 871.42,861.3 871.42,859.95 876.82,859.95 876.82,858.6 882.22,858.6 882.22,857.25 887.63,857.25 887.63,855.9 894.38,855.9 894.38,854.55 899.78,854.55 899.78,853.2 903.82,853.2 903.82,851.85 909.22,851.85 909.22,850.5 913.28,850.5 913.28,849.15 917.32,849.15 917.32,847.8 921.38,847.8 921.38,846.45 924.08,846.45 924.08,845.1 928.13,845.1 928.13,843.75 934.88,843.75 934.88,842.4 940.28,842.4 940.28,841.05 947.03,841.05 947.03,839.7 949.05,839.7"/>
<polyline points="261.9,857.25 263.92,857.25 263.92,858.6 266.62,858.6 266.62,859.95 270.68,859.95 270.68,858.6 277.42,858.6 277.42,857.25 282.83,857.25 282.83,855.9 288.23,855.9 288.23,854.55 290.92,854.55 290.92,853.2 294.98,853.2 294.98,851.85 307.12,851.85 307.12,850.5 313.88,850.5 313.88,849.15 319.28,849.15 319.28,847.8 324.68,847.8 324.68,846.45 327.38,846.45 327.38,845.1 328.72,845.1 328.72,843.75 331.42,843.75 331.42,842.4 334.12,842.4 334.12,841.05 336.83,841.05 336.83,839.7 339.52,839.7 339.52,838.35 340.88,838.35 340.88,837 343.58,837 343.58,835.65 346.28,835.65 346.28,834.3 353.02,834.3 353.02,832.95 361.12,832.95 361.12,831.6 375.98,831.6 375.98,830.25 393.52,830.25 393.52,828.9 401.62,828.9 401.62,827.55 408.38,827.55 408.38,826.2 409.72,826.2 409.72,827.55 416.48,827.55 416.48,828.9 423.22,828.9 423.22,830.25 427.28,830.25 427.28,831.6 431.33,831.6 431.33,832.95 435.38,832.95 435.38,834.3 440.78,834.3 440.78,835.65 444.83,835.65 444.83,837 448.88,837 448.88,838.35 452.92,838.35 452.92,839.7 458.33,839.7 458.33,841.05 462.38,841.05 462.38,839.7 477.22,839.7 477.22,838.35 481.28,838.35 481.28,837 486.68,837 486.68,835.65 490.72,835.65 490.72,834.3 494.78,834.3 494.78,832.95 497.48,832.95 497.48,831.6 500.18,831.6 500.18,830.25 502.88,830.25 502.88,828.9 515.02,828.9 515.02,827.55 532.58,827.55 532.58,826.2 539.33,826.2 539.33,827.55 551.48,827.55 551.48,828.9 563.62,828.9 563.62,830.25 571.72,830.25 571.72,831.6 598.72,831.6 598.72,830.25 613.58,830.25 613.58,828.9 620.33,828.9 620.33,830.25 651.38,830.25 651.38,828.9 668.92,828.9 668.92,827.55 672.98,827.55 672.98,828.9 677.03,828.9 677.03,830.25 681.08,830.25 681.08,831.6 685.12,831.6 685.12,832.95 687.82,832.95 687.82,834.3 690.53,834.3 690.53,835.65 693.22,835.65 693.22,837 695.92,837 695.92,838.35 698.62,838.35 698.62,839.7 702.68,839.7 702.68,841.05 706.72,841.05 706.72,842.4 710.78,842.4 710.78,843.75 717.53,843.75 717.53,845.1 724.28,845.1 724.28,846.45 764.78,846.45 764.78,845.1 795.82,845.1 795.82,846.45 805.28,846.45 805.28,847.8 813.38,847.8 813.38,849.15 828.22,849.15 828.22,850.5 840.38,850.5 840.38,849.15 855.22,849.15 855.22,847.8 863.32,847.8 863.32,846.45 871.42,846.45 871.42,845.1 880.88,845.1 880.88,843.75 890.32,843.75 890.32,842.4 899.78,842.4 899.78,841.05 907.88,841.05 907.88,839.7 914.63,839.7 914.63,838.35 921.38,838.35 921.38,837 934.88,837 934.88,835.65 945,835.65"/>
<polyline points="259.2,850.5 266.62,850.5 266.62,849.15 270.68,849.15 270.68,847.8 274.73,847.8 274.73,846.45 278.78,846.45 278.78,845.1 282.83,845.1 282.83,843.75 285.53,843.75 285.53,842.4 288.23,842.4 288.23,841.05 290.92,841.05 290.92,839.7 308.48,839.7 308.48,838.35 319.28,838.35 319.28,837 323.33,837 323.33,835.65 328.72,835.65 328.72,834.3 332.78,834.3 332.78,832.95 336.83,832.95 336.83,831.6 340.88,831.6 340.88,830.25 347.62,830.25 347.62,828.9 358.42,828.9 358.42,827.55 378.68,827.55 378.68,826.2 397.58,826.2 397.58,824.85 412.42,824.85 412.42,826.2 423.22,826.2 423.22,827.55 431.33,827.55 431.33,828.9 436.72,828.9 436.72,830.25 443.48,830.25 443.48,831.6 451.58,831.6 451.58,832.95 469.13,832.95 469.13,831.6 478.58,831.6 478.58,830.25 486.68,830.25 486.68,828.9 492.08,828.9 492.08,827.55 496.13,827.55 496.13,826.2 498.83,826.2 498.83,824.85 550.12,824.85 550.12,826.2 566.33,826.2 566.33,827.55 598.72,827.55 598.72,826.2 663.53,826.2 663.53,824.85 671.62,824.85 671.62,826.2 681.08,826.2 681.08,827.55 683.78,827.55 683.78,828.9 687.82,828.9 687.82,830.25 690.53,830.25 690.53,831.6 694.58,831.6 694.58,832.95 702.68,832.95 702.68,834.3 710.78,834.3 710.78,835.65 721.58,835.65 721.58,837 725.62,837 725.62,835.65 772.88,835.65 772.88,834.3 779.62,834.3 779.62,835.65 798.53,835.65 798.53,837 810.68,837 810.68,838.35 853.88,838.35 853.88,837 861.98,837 861.98,835.65 879.53,835.65 879.53,834.3 895.72,834.3 895.72,832.95 907.88,832.95 907.88,831.6 942.3,831.6"/>
<polyline points="255.15,837 267.98,837 267.98,835.65 276.08,835.65 276.08,834.3 280.12,834.3 280.12,832.95 282.83,832.95 282.83,831.6 285.53,831.6 285.53,830.25 289.58,830.25 289.58,831.6 309.83,831.6 309.83,830.25 323.33,830.25 323.33,828.9 331.42,828.9 331.42,827.55 336.83,827.55 336.83,826.2 348.98,826.2 348.98,824.85 365.18,824.85 365.18,823.5 394.88,823.5 394.88,822.15 405.68,822.15 405.68,823.5 429.98,823.5 429.98,824.85 438.08,824.85 438.08,826.2 447.52,826.2 447.52,827.55 458.33,827.55 458.33,826.2 477.22,826.2 477.22,824.85 488.02,824.85 488.02,823.5 490.72,823.5 490.72,822.15 494.78,822.15 494.78,820.8 501.52,820.8 501.52,822.15 527.18,822.15 527.18,820.8 535.28,820.8 535.28,822.15 550.12,822.15 550.12,823.5 567.68,823.5 567.68,824.85 589.28,824.85 589.28,823.5 604.12,823.5 604.12,822.15 621.68,822.15 621.68,823.5 636.53,823.5 636.53,822.15 678.38,822.15 678.38,823.5 682.42,823.5 682.42,824.85 685.12,824.85 685.12,826.2 690.53,826.2 690.53,827.55 704.03,827.55 704.03,828.9 751.28,828.9 751.28,827.55 793.12,827.55 793.12,828.9 807.98,828.9 807.98,830.25 852.53,830.25 852.53,828.9 859.28,828.9 859.28,827.55 901.13,827.55 901.13,826.2 937.58,826.2 937.58,827.55 938.25,827.55"/>
<polyline points="251.1,826.2 258.53,826.2 258.53,827.55 270.68,827.55 270.68,826.2 276.08,826.2 276.08,824.85 278.78,824.85 278.78,823.5 281.48,823.5 281.48,822.15 282.83,822.15 282.83,823.5 286.88,823.5 286.88,824.85 290.92,824.85 290.92,826.2 296.33,826.2 296.33,824.85 311.18,824.85 311.18,826.2 313.88,826.2 313.88,824.85 334.12,824.85 334.12,823.5 347.62,823.5 347.62,822.15 358.42,822.15 358.42,820.8 367.88,820.8 367.88,819.45 381.38,819.45 381.38,820.8 385.42,820.8 385.42,819.45 400.28,819.45 400.28,820.8 407.02,820.8 407.02,819.45 427.28,819.45 427.28,820.8 435.38,820.8 435.38,822.15 467.78,822.15 467.78,820.8 483.98,820.8 483.98,819.45 486.68,819.45 486.68,818.1 489.38,818.1 489.38,816.75 492.08,816.75 492.08,815.4 493.42,815.4 493.42,816.75 497.48,816.75 497.48,818.1 500.18,818.1 500.18,819.45 516.38,819.45 516.38,818.1 536.62,818.1 536.62,819.45 547.43,819.45 547.43,820.8 563.62,820.8 563.62,822.15 589.28,822.15 589.28,820.8 597.38,820.8 597.38,819.45 605.48,819.45 605.48,818.1 612.22,818.1 612.22,819.45 633.83,819.45 633.83,818.1 645.98,818.1 645.98,819.45 664.88,819.45 664.88,818.1 674.32,818.1 674.32,819.45 677.03,819.45 677.03,820.8 681.08,820.8 681.08,822.15 683.78,822.15 683.78,823.5 731.03,823.5 731.03,822.15 752.62,822.15 752.62,820.8 787.72,820.8 787.72,822.15 799.88,822.15 799.88,823.5 821.48,823.5 821.48,824.85 839.03,824.85 839.03,823.5 851.18,823.5 851.18,822.15 856.58,822.15 856.58,820.8 868.72,820.8 868.72,822.15 930.82,822.15 930.82,823.5 935.55,823.5"/>
<polyline points="248.4,819.45 253.13,819.45 253.13,820.8 272.03,820.8 272.03,819.45 274.73,819.45 274.73,818.1 277.42,818.1 277.42,816.75 281.48,816.75 281.48,818.1 282.83,818.1 282.83,819.45 285.53,819.45 285.53,820.8 304.42,820.8 304.42,822.15 335.48,822.15 335.48,820.8 348.98,820.8 348.98,819.45 354.38,819.45 354.38,818.1 359.78,818.1 359.78,816.75 363.83,816.75 363.83,815.4 371.92,815.4 371.92,816.75 397.58,816.75 397.58,818.1 398.92,818.1 398.92,816.75 411.08,816.75 411.08,815.4 416.48,815.4 416.48,814.05 417.83,814.05 417.83,815.4 424.58,815.4 424.58,816.75 431.33,816.75 431.33,818.1 454.28,818.1 454.28,816.75 481.28,816.75 481.28,815.4 483.98,815.4 483.98,814.05 485.33,814.05 485.33,812.7 488.02,812.7 488.02,811.35 490.72,811.35 490.72,812.7 493.42,812.7 493.42,814.05 496.13,814.05 496.13,815.4 498.83,815.4 498.83,816.75 508.28,816.75 508.28,815.4 519.08,815.4 519.08,814.05 529.88,814.05 529.88,815.4 536.62,815.4 536.62,816.75 542.03,816.75 542.03,818.1 550.12,818.1 550.12,819.45 569.03,819.45 569.03,820.8 582.53,820.8 582.53,819.45 589.28,819.45 589.28,818.1 593.33,818.1 593.33,816.75 598.72,816.75 598.72,815.4 604.12,815.4 604.12,814.05 605.48,814.05 605.48,815.4 628.43,815.4 628.43,814.05 635.18,814.05 635.18,812.7 637.88,812.7 637.88,814.05 643.28,814.05 643.28,815.4 647.33,815.4 647.33,816.75 652.72,816.75 652.72,818.1 656.78,818.1 656.78,816.75 662.18,816.75 662.18,815.4 670.28,815.4 670.28,816.75 672.3,816.75"/>
<polyline points="681.75,820.8 695.92,820.8 695.92,819.45 714.82,819.45 714.82,818.1 731.03,818.1 731.03,816.75 743.18,816.75 743.18,815.4 756.68,815.4 756.68,814.05 778.28,814.05 778.28,815.4 786.38,815.4 786.38,816.75 797.18,816.75 797.18,818.1 813.38,818.1 813.38,819.45 839.03,819.45 839.03,818.1 847.12,818.1 847.12,816.75 849.82,816.75 849.82,815.4 853.88,815.4 853.88,814.05 861.98,814.05 861.98,815.4 867.38,815.4 867.38,816.75 901.13,816.75 901.13,818.1 915.98,818.1 915.98,819.45 931.5,819.45"/>
<polyline points="244.35,812.7 246.38,812.7 246.38,814.05 254.48,814.05 254.48,815.4 267.98,815.4 267.98,814.05 272.03,814.05 272.03,812.7 274.73,812.7 274.73,811.35 276.08,811.35 276.08,812.7 277.42,812.7 277.42,814.05 280.12,814.05 280.12,815.4 282.83,815.4 282.83,816.75 294.98,816.75 294.98,818.1 305.78,818.1 305.78,819.45 315.23,819.45 315.23,820.8 327.38,820.8 327.38,819.45 340.88,819.45 340.88,818.1 344.92,818.1 344.92,816.75 348.98,816.75 348.98,815.4 351.68,815.4 351.68,814.05 354.38,814.05 354.38,812.7 358.42,812.7 358.42,811.35 361.12,811.35 361.12,810 365.18,810 365.18,811.35 371.92,811.35 371.92,812.7 393.52,812.7 393.52,814.05 401.62,814.05 401.62,812.7 409.72,812.7 409.72,811.35 419.18,811.35 419.18,812.7 425.92,812.7 425.92,814.05 431.33,814.05 431.33,815.4 438.08,815.4 438.08,814.05 448.88,814.05 448.88,812.7 478.58,812.7 478.58,811.35 481.28,811.35 481.28,810 482.63,810 482.63,808.65 485.33,808.65 485.33,807.3 486.68,807.3 486.68,808.65 489.38,808.65 489.38,810 490.72,810 490.72,811.35 493.42,811.35 493.42,812.7 494.1,812.7"/>
<polyline points="496.8,814.05 502.88,814.05 502.88,812.7 510.98,812.7 510.98,811.35 517.72,811.35 517.72,810 525.83,810 525.83,811.35 529.88,811.35 529.88,812.7 533.93,812.7 533.93,814.05 537.98,814.05 537.98,815.4 540,815.4"/>
<polyline points="542.7,816.75 546.75,816.75"/>
<polyline points="550.8,818.1 564.3,818.1"/>
<polyline points="569.7,819.45 579.83,819.45 579.83,818.1 583.88,818.1 583.88,816.75 586.58,816.75 586.58,815.4 589.28,815.4 589.28,814.05 593.33,814.05 593.33,812.7 597.38,812.7 597.38,811.35 612.22,811.35 612.22,812.7 617.62,812.7 617.62,811.35 624.38,811.35 624.38,810 629.78,810 629.78,808.65 635.18,808.65 635.18,810 639.22,810 639.22,811.35 641.93,811.35 641.93,812.7 644.62,812.7 644.62,814.05 647.33,814.05 647.33,815.4 662.18,815.4 662.18,814.05 664.2,814.05"/>
<polyline points="684.45,819.45 689.18,819.45 689.18,818.1 693.22,818.1 693.22,816.75 699.98,816.75 699.98,815.4 712.12,815.4 712.12,814.05 722.92,814.05 722.92,812.7 729.68,812.7 729.68,811.35 739.12,811.35 739.12,810 751.28,810 751.28,808.65 758.03,808.65 758.03,807.3 767.48,807.3 767.48,808.65 774.22,808.65 774.22,810 780.98,810 780.98,811.35 787.72,811.35 787.72,812.7 797.18,812.7 797.18,814.05 837.68,814.05 837.68,812.7 841.72,812.7 841.72,811.35 845.78,811.35 845.78,810 848.48,810 848.48,808.65 852.53,808.65 852.53,807.3 855.22,807.3 855.22,808.65 859.28,808.65 859.28,810 864.68,810 864.68,811.35 868.72,811.35 868.72,812.7 870.08,812.7 870.08,811.35 883.58,811.35 883.58,812.7 899.78,812.7 899.78,814.05 907.88,814.05 907.88,815.4 920.03,815.4 920.03,816.75 927.45,816.75"/>
<polyline points="241.65,811.35 251.78,811.35 251.78,812.7 259.88,812.7 259.88,811.35 263.92,811.35 263.92,810 269.33,810 269.33,808.65 272.03,808.65 272.03,810 274.05,810"/>
<polyline points="276.75,811.35 277.42,811.35 277.42,812.7 280.12,812.7 280.12,814.05 296.33,814.05 296.33,815.4 304.42,815.4 304.42,816.75 312.53,816.75 312.53,818.1 323.33,818.1 323.33,816.75 327.38,816.75 327.38,815.4 332.78,815.4 332.78,816.75 335.48,816.75 335.48,815.4 339.52,815.4 339.52,814.05 342.22,814.05 342.22,812.7 344.92,812.7 344.92,811.35 346.28,811.35 346.28,810 348.98,810 348.98,808.65 351.68,808.65 351.68,807.3 354.38,807.3 354.38,805.95 355.72,805.95 355.72,804.6 358.42,804.6 358.42,803.25 359.78,803.25 359.78,804.6 363.83,804.6 363.83,805.95 367.88,805.95 367.88,807.3 388.12,807.3 388.12,808.65 396.22,808.65 396.22,810 405.68,810 405.68,808.65 419.18,808.65 419.18,810 425.92,810 425.92,811.35 438.08,811.35 438.08,810 443.48,810 443.48,808.65 469.13,808.65 469.13,810 474.52,810 474.52,808.65 477.22,808.65 477.22,807.3 479.92,807.3 479.92,805.95 484.65,805.95"/>
<polyline points="491.4,810 496.13,810 496.13,811.35 498.83,811.35 498.83,810 505.58,810 505.58,808.65 512.33,808.65 512.33,807.3 523.12,807.3 523.12,808.65 525.83,808.65 525.83,810 529.88,810 529.88,811.35 531.9,811.35"/>
<polyline points="541.35,815.4 542.7,815.4"/>
<polyline points="548.1,816.75 552.83,816.75 552.83,815.4 559.58,815.4 559.58,816.75 561.6,816.75"/>
<polyline points="565.65,818.1 575.78,818.1 575.78,816.75 578.48,816.75 578.48,815.4 581.18,815.4 581.18,814.05 582.53,814.05 582.53,812.7 583.88,812.7 583.88,811.35 586.58,811.35 586.58,810 589.28,810 589.28,808.65 591.98,808.65 591.98,807.3 605.48,807.3 605.48,808.65 614.93,808.65 614.93,807.3 621.68,807.3 621.68,805.95 632.48,805.95 632.48,807.3 635.18,807.3 635.18,808.65 637.2,808.65"/>
<polyline points="648,814.05 653.4,814.05"/>
<polyline points="679.05,819.45 682.42,819.45 682.42,818.1 685.12,818.1 685.12,816.75 687.82,816.75 687.82,815.4 691.88,815.4 691.88,814.05 695.92,814.05 695.92,812.7 702.68,812.7 702.68,811.35 712.12,811.35 712.12,810 720.22,810 720.22,808.65 724.28,808.65 724.28,807.3 728.32,807.3 728.32,805.95 744.53,805.95 744.53,804.6 751.28,804.6 751.28,803.25 767.48,803.25 767.48,804.6 771.53,804.6 771.53,805.95 778.28,805.95 778.28,807.3 785.03,807.3 785.03,808.65 793.12,808.65 793.12,810 828.22,810 828.22,808.65 833.62,808.65 833.62,807.3 837.68,807.3 837.68,805.95 841.72,805.95 841.72,804.6 844.42,804.6 844.42,803.25 855.22,803.25 855.22,804.6 860.62,804.6 860.62,805.95 879.53,805.95 879.53,807.3 887.63,807.3 887.63,808.65 897.08,808.65 897.08,810 902.48,810 902.48,811.35 910.58,811.35 910.58,812.7 921.38,812.7 921.38,814.05 924.75,814.05"/>
<polyline points="237.6,808.65 255.82,808.65 255.82,807.3 259.88,807.3 259.88,805.95 269.33,805.95 269.33,807.3 272.03,807.3 272.03,808.65 274.73,808.65 274.73,810 284.18,810 284.18,811.35 294.98,811.35 294.98,812.7 303.08,812.7 303.08,814.05 312.53,814.05 312.53,815.4 319.28,815.4 319.28,814.05 321.98,814.05 321.98,812.7 335.48,812.7 335.48,811.35 336.83,811.35 336.83,810 339.52,810 339.52,808.65 340.88,808.65 340.88,807.3 342.22,807.3 342.22,805.95 343.58,805.95 343.58,804.6 346.28,804.6 346.28,803.25 347.62,803.25 347.62,801.9 350.33,801.9 350.33,800.55 351.68,800.55 351.68,799.2 353.02,799.2 353.02,797.85 358.42,797.85 358.42,799.2 361.12,799.2 361.12,800.55 363.83,800.55 363.83,801.9 373.28,801.9 373.28,800.55 384.08,800.55 384.08,801.9 388.12,801.9 388.12,803.25 392.18,803.25 392.18,804.6 396.22,804.6 396.22,805.95 420.52,805.95 420.52,807.3 434.02,807.3 434.02,805.95 438.08,805.95 438.08,804.6 444.83,804.6 444.83,803.25 458.33,803.25 458.33,804.6 465.08,804.6 465.08,805.95 473.18,805.95 473.18,804.6 477.22,804.6 477.22,803.25 479.92,803.25 479.92,804.6 481.95,804.6"/>
<polyline points="486,805.95 486.68,805.95 486.68,807.3 500.18,807.3 500.18,805.95 508.28,805.95 508.28,804.6 519.08,804.6 519.08,805.95 521.1,805.95"/>
<polyline points="523.8,807.3 525.83,807.3 525.83,808.65 527.85,808.65"/>
<polyline points="538.65,814.05 540,814.05"/>
<polyline points="544.05,815.4 548.78,815.4 548.78,814.05 551.48,814.05 551.48,812.7 554.18,812.7 554.18,814.05 556.2,814.05"/>
<polyline points="564.3,816.75 571.72,816.75 571.72,815.4 574.43,815.4 574.43,814.05 575.78,814.05 575.78,812.7 577.12,812.7 577.12,811.35 578.48,811.35 578.48,810 579.83,810 579.83,808.65 581.18,808.65 581.18,805.95 582.53,805.95 582.53,804.6 586.58,804.6 586.58,803.25 593.33,803.25 593.33,801.9 594.68,801.9 594.68,803.25 601.43,803.25 601.43,804.6 610.88,804.6 610.88,803.25 628.43,803.25 628.43,804.6 630.45,804.6"/>
<polyline points="646.65,812.7 648,812.7"/>
<polyline points="676.35,818.1 678.38,818.1 678.38,816.75 681.08,816.75 681.08,815.4 683.78,815.4 683.78,814.05 686.48,814.05 686.48,812.7 689.18,812.7 689.18,811.35 691.88,811.35 691.88,810 697.28,810 697.28,808.65 704.03,808.65 704.03,807.3 710.78,807.3 710.78,805.95 716.18,805.95 716.18,804.6 718.88,804.6 718.88,803.25 721.58,803.25 721.58,801.9 724.28,801.9 724.28,800.55 726.98,800.55 726.98,799.2 731.03,799.2 731.03,800.55 747.22,800.55 747.22,799.2 751.28,799.2 751.28,797.85 755.32,797.85 755.32,799.2 763.42,799.2 763.42,800.55 767.48,800.55 767.48,801.9 775.58,801.9 775.58,803.25 779.62,803.25 779.62,804.6 786.38,804.6 786.38,805.95 820.12,805.95 820.12,804.6 825.53,804.6 825.53,803.25 828.22,803.25 828.22,801.9 830.92,801.9 830.92,800.55 836.32,800.55 836.32,799.2 841.72,799.2 841.72,797.85 848.48,797.85 848.48,799.2 855.22,799.2 855.22,800.55 867.38,800.55 867.38,799.2 868.72,799.2 868.72,800.55 875.48,800.55 875.48,801.9 882.22,801.9 882.22,803.25 887.63,803.25 887.63,804.6 893.03,804.6 893.03,805.95 898.42,805.95 898.42,807.3 903.82,807.3 903.82,808.65 910.58,808.65 910.58,810 920.7,810"/>
<polyline points="233.55,805.95 239.63,805.95 239.63,804.6 250.42,804.6 250.42,803.25 253.13,803.25 253.13,801.9 255.82,801.9 255.82,800.55 262.58,800.55 262.58,801.9 265.28,801.9 265.28,803.25 266.62,803.25 266.62,804.6 269.33,804.6 269.33,805.95 273.38,805.95 273.38,807.3 282.83,807.3 282.83,808.65 294.98,808.65 294.98,810 308.48,810 308.48,811.35 317.92,811.35 317.92,810 320.62,810 320.62,808.65 324.68,808.65 324.68,810 328.72,810 328.72,808.65 332.78,808.65 332.78,807.3 334.12,807.3 334.12,805.95 336.83,805.95 336.83,804.6 338.18,804.6 338.18,803.25 339.52,803.25 339.52,801.9 340.88,801.9 340.88,800.55 343.58,800.55 343.58,799.2 344.92,799.2 344.92,797.85 346.28,797.85 346.28,796.5 347.62,796.5 347.62,795.15 348.98,795.15 348.98,793.8 350.33,793.8 350.33,792.45 351.68,792.45 351.68,791.1 353.02,791.1 353.02,792.45 355.72,792.45 355.72,793.8 358.42,793.8 358.42,795.15 359.78,795.15 359.78,796.5 366.52,796.5 366.52,795.15 373.28,795.15 373.28,793.8 382.72,793.8 382.72,795.15 386.78,795.15 386.78,796.5 388.12,796.5 388.12,797.85 389.48,797.85 389.48,799.2 392.18,799.2 392.18,800.55 393.52,800.55 393.52,801.9 394.88,801.9 394.88,803.25 400.28,803.25 400.28,804.6 401.62,804.6 401.62,803.25 413.78,803.25 413.78,801.9 415.12,801.9 415.12,803.25 420.52,803.25 420.52,804.6 424.58,804.6 424.58,803.25 429.98,803.25 429.98,801.9 432.68,801.9 432.68,800.55 436.72,800.55 436.72,799.2 442.13,799.2 442.13,797.85 450.22,797.85 450.22,799.2 456.98,799.2 456.98,800.55 461.02,800.55 461.02,801.9 465.08,801.9 465.08,803.25 466.42,803.25 466.42,801.9 479.92,801.9 479.92,803.25 483.98,803.25 483.98,804.6 494.78,804.6 494.78,803.25 502.88,803.25 502.88,801.9 515.02,801.9 515.02,803.25 519.08,803.25 519.08,804.6 519.75,804.6"/>
<polyline points="535.95,812.7 537.3,812.7"/>
<polyline points="541.35,814.05 543.38,814.05 543.38,812.7 547.43,812.7 547.43,811.35 550.8,811.35"/>
<polyline points="560.25,815.4 566.33,815.4 566.33,814.05 570.38,814.05 570.38,812.7 571.72,812.7 571.72,810 573.08,810 573.08,808.65 574.43,808.65 574.43,807.3 575.78,807.3 575.78,804.6 577.12,804.6 577.12,803.25 578.48,803.25 578.48,800.55 581.18,800.55 581.18,799.2 585.22,799.2 585.22,797.85 587.93,797.85 587.93,799.2 589.28,799.2 589.28,797.85 591.98,797.85 591.98,799.2 596.03,799.2 596.03,800.55 606.83,800.55 606.83,799.2 614.93,799.2 614.93,800.55 621.68,800.55 621.68,801.9 625.05,801.9"/>
<polyline points="672.3,815.4 674.32,815.4 674.32,814.05 677.03,814.05 677.03,812.7 679.72,812.7 679.72,811.35 681.08,811.35 681.08,810 683.78,810 683.78,808.65 687.82,808.65 687.82,807.3 691.88,807.3 691.88,805.95 697.28,805.95 697.28,804.6 702.68,804.6 702.68,803.25 708.08,803.25 708.08,801.9 712.12,801.9 712.12,800.55 714.82,800.55 714.82,799.2 716.18,799.2 716.18,797.85 717.53,797.85 717.53,796.5 720.22,796.5 720.22,795.15 721.58,795.15 721.58,793.8 729.68,793.8 729.68,795.15 731.03,795.15 731.03,796.5 735.08,796.5 735.08,797.85 740.48,797.85 740.48,796.5 745.88,796.5 745.88,795.15 755.32,795.15 755.32,796.5 760.72,796.5 760.72,797.85 764.78,797.85 764.78,799.2 774.22,799.2 774.22,800.55 779.62,800.55 779.62,801.9 814.72,801.9 814.72,800.55 817.42,800.55 817.42,799.2 821.48,799.2 821.48,797.85 824.18,797.85 824.18,796.5 826.88,796.5 826.88,795.15 839.03,795.15 839.03,793.8 841.72,793.8 841.72,795.15 856.58,795.15 856.58,796.5 857.92,796.5 857.92,795.15 870.08,795.15 870.08,796.5 875.48,796.5 875.48,797.85 879.53,797.85 879.53,799.2 884.92,799.2 884.92,800.55 890.32,800.55 890.32,801.9 894.38,801.9 894.38,803.25 898.42,803.25 898.42,804.6 902.48,804.6 902.48,805.95 910.58,805.95 910.58,807.3 918,807.3"/>
<polyline points="230.85,804.6 231.52,804.6 231.52,803.25 234.23,803.25 234.23,801.9 239.63,801.9 239.63,800.55 245.02,800.55 245.02,799.2 247.73,799.2 247.73,797.85 250.42,797.85 250.42,796.5 253.13,796.5 253.13,795.15 257.18,795.15 257.18,796.5 259.88,796.5 259.88,797.85 262.58,797.85 262.58,799.2 263.92,799.2 263.92,800.55 265.28,800.55 265.28,801.9 267.98,801.9 267.98,803.25 274.73,803.25 274.73,804.6 288.23,804.6 288.23,805.95 297.68,805.95 297.68,804.6 305.78,804.6 305.78,805.95 307.12,805.95 307.12,807.3 315.23,807.3 315.23,805.95 328.72,805.95 328.72,804.6 331.42,804.6 331.42,803.25 334.12,803.25 334.12,801.9 335.48,801.9 335.48,800.55 336.83,800.55 336.83,799.2 339.52,799.2 339.52,797.85 340.88,797.85 340.88,796.5 342.22,796.5 342.22,793.8 343.58,793.8 343.58,792.45 344.92,792.45 344.92,791.1 346.28,791.1 346.28,788.4 347.62,788.4 347.62,787.05 350.33,787.05 350.33,788.4 351.68,788.4 351.68,789.75 354.38,789.75 354.38,791.1 362.48,791.1 362.48,789.75 365.18,789.75 365.18,788.4 371.92,788.4 371.92,787.05 378.68,787.05 378.68,788.4 382.72,788.4 382.72,789.75 384.08,789.75 384.08,791.1 385.42,791.1 385.42,793.8 386.78,793.8 386.78,795.15 388.12,795.15 388.12,796.5 389.48,796.5 389.48,797.85 390.15,797.85"/>
<polyline points="392.85,799.2 393.52,799.2 393.52,800.55 396.22,800.55 396.22,801.9 397.58,801.9 397.58,800.55 407.02,800.55 407.02,799.2 415.12,799.2 415.12,800.55 421.88,800.55 421.88,799.2 425.92,799.2 425.92,797.85 427.28,797.85 427.28,796.5 429.98,796.5 429.98,795.15 431.33,795.15 431.33,793.8 436.72,793.8 436.72,792.45 444.83,792.45 444.83,793.8 450.22,793.8 450.22,795.15 454.28,795.15 454.28,796.5 456.98,796.5 456.98,797.85 461.02,797.85 461.02,799.2 479.92,799.2 479.92,800.55 490.72,800.55 490.72,799.2 512.33,799.2 512.33,800.55 515.02,800.55 515.02,801.9 517.05,801.9"/>
<polyline points="519.75,803.25 520.43,803.25 520.43,804.6 521.1,804.6"/>
<polyline points="530.55,810 532.58,810 532.58,811.35 535.95,811.35"/>
<polyline points="538.65,811.35 542.03,811.35 542.03,810 546.08,810 546.08,808.65 547.43,808.65 547.43,810 548.1,810"/>
<polyline points="557.55,814.05 558.22,814.05 558.22,812.7 563.62,812.7 563.62,811.35 566.33,811.35 566.33,810 567.68,810 567.68,808.65 569.03,808.65 569.03,807.3 570.38,807.3 570.38,804.6 571.72,804.6 571.72,803.25 573.08,803.25 573.08,800.55 574.43,800.55 574.43,799.2 575.78,799.2 575.78,797.85 577.12,797.85 577.12,796.5 579.83,796.5 579.83,795.15 589.28,795.15 589.28,796.5 594.68,796.5 594.68,797.85 598.72,797.85 598.72,796.5 605.48,796.5 605.48,795.15 608.18,795.15 608.18,796.5 612.22,796.5 612.22,797.85 617.62,797.85 617.62,799.2 621.68,799.2 621.68,800.55 625.72,800.55 625.72,801.9 627.75,801.9"/>
<polyline points="646.65,811.35 648,811.35"/>
<polyline points="654.75,814.05 657.45,814.05"/>
<polyline points="665.55,814.05 666.22,814.05 666.22,812.7 668.92,812.7 668.92,811.35 671.62,811.35 671.62,810 674.32,810 674.32,808.65 675.68,808.65 675.68,807.3 679.72,807.3 679.72,805.95 682.42,805.95 682.42,804.6 686.48,804.6 686.48,803.25 691.88,803.25 691.88,801.9 695.92,801.9 695.92,800.55 698.62,800.55 698.62,799.2 702.68,799.2 702.68,797.85 708.08,797.85 708.08,796.5 710.78,796.5 710.78,795.15 712.12,795.15 712.12,793.8 713.48,793.8 713.48,792.45 716.18,792.45 716.18,791.1 717.53,791.1 717.53,789.75 718.88,789.75 718.88,788.4 722.92,788.4 722.92,789.75 725.62,789.75 725.62,791.1 728.32,791.1 728.32,792.45 729.68,792.45 729.68,793.8 732.38,793.8 732.38,795.15 736.42,795.15 736.42,793.8 743.18,793.8 743.18,792.45 748.58,792.45 748.58,793.8 753.3,793.8"/>
<polyline points="756,795.15 758.7,795.15"/>
<polyline points="761.4,796.5 770.18,796.5 770.18,797.85 776.92,797.85 776.92,799.2 786.38,799.2 786.38,797.85 791.78,797.85 791.78,796.5 812.03,796.5 812.03,795.15 816.08,795.15 816.08,793.8 820.12,793.8 820.12,792.45 822.82,792.45 822.82,791.1 843.08,791.1 843.08,792.45 847.12,792.45 847.12,791.1 866.03,791.1 866.03,792.45 871.42,792.45 871.42,793.8 875.48,793.8 875.48,795.15 880.88,795.15 880.88,796.5 886.28,796.5 886.28,797.85 888.98,797.85 888.98,799.2 893.03,799.2 893.03,800.55 897.08,800.55 897.08,801.9 902.48,801.9 902.48,803.25 909.22,803.25 909.22,804.6 913.95,804.6"/>
<polyline points="226.8,801.9 228.82,801.9 228.82,800.55 230.18,800.55 230.18,799.2 232.88,799.2 232.88,797.85 236.92,797.85 236.92,796.5 239.63,796.5 239.63,795.15 242.32,795.15 242.32,793.8 243.68,793.8 243.68,792.45 246.38,792.45 246.38,791.1 249.08,791.1 249.08,789.75 254.48,789.75 254.48,791.1 255.82,791.1 255.82,792.45 257.18,792.45 257.18,793.8 258.53,793.8 258.53,795.15 261.23,795.15 261.23,796.5 262.58,796.5 262.58,797.85 265.28,797.85 265.28,799.2 269.33,799.2 269.33,800.55 285.53,800.55 285.53,801.9 292.28,801.9 292.28,800.55 294.98,800.55 294.98,799.2 297.68,799.2 297.68,797.85 300.38,797.85 300.38,799.2 301.73,799.2 301.73,800.55 304.42,800.55 304.42,801.9 305.78,801.9 305.78,803.25 312.53,803.25 312.53,801.9 328.72,801.9 328.72,800.55 331.42,800.55 331.42,799.2 334.12,799.2 334.12,797.85 335.48,797.85 335.48,796.5 336.83,796.5 336.83,795.15 338.18,795.15 338.18,793.8 339.52,793.8 339.52,792.45 340.88,792.45 340.88,789.75 342.22,789.75 342.22,788.4 343.58,788.4 343.58,787.05 344.92,787.05 344.92,785.7 346.28,785.7 346.28,787.05 346.95,787.05"/>
<polyline points="352.35,788.4 355.72,788.4 355.72,787.05 358.42,787.05 358.42,785.7 359.78,785.7 359.78,784.35 362.48,784.35 362.48,783 374.62,783 374.62,784.35 377.33,784.35 377.33,785.7 378.68,785.7 378.68,787.05 379.35,787.05"/>
<polyline points="391.5,797.85 401.62,797.85 401.62,796.5 405.68,796.5 405.68,795.15 409.72,795.15 409.72,796.5 416.48,796.5 416.48,795.15 420.52,795.15 420.52,793.8 423.22,793.8 423.22,792.45 424.58,792.45 424.58,791.1 425.92,791.1 425.92,789.75 427.28,789.75 427.28,788.4 428.62,788.4 428.62,787.05 440.78,787.05 440.78,788.4 443.48,788.4 443.48,789.75 448.88,789.75 448.88,791.1 451.58,791.1 451.58,792.45 454.28,792.45 454.28,793.8 456.98,793.8 456.98,795.15 461.02,795.15 461.02,796.5 466.42,796.5 466.42,795.15 506.92,795.15 506.92,796.5 510.98,796.5 510.98,797.85 512.33,797.85 512.33,799.2 515.02,799.2 515.02,800.55 517.72,800.55 517.72,801.9 518.4,801.9"/>
<polyline points="521.1,803.25 521.78,803.25 521.78,804.6 522.45,804.6"/>
<polyline points="527.85,807.3 529.88,807.3 529.88,808.65 539.33,808.65 539.33,807.3 544.72,807.3 544.72,808.65 545.4,808.65"/>
<polyline points="549.45,810 551.48,810 551.48,811.35 552.83,811.35 552.83,810 558.22,810 558.22,808.65 562.28,808.65 562.28,807.3 564.98,807.3 564.98,805.95 566.33,805.95 566.33,803.25 567.68,803.25 567.68,801.9 569.03,801.9 569.03,800.55 570.38,800.55 570.38,797.85 571.72,797.85 571.72,796.5 574.43,796.5 574.43,795.15 577.12,795.15 577.12,793.8 587.25,793.8"/>
<polyline points="589.95,795.15 596.03,795.15 596.03,793.8 601.43,793.8 601.43,792.45 605.48,792.45 605.48,793.8 609.53,793.8 609.53,795.15 614.93,795.15 614.93,796.5 620.33,796.5 620.33,797.85 623.03,797.85 623.03,799.2 625.72,799.2 625.72,800.55 628.43,800.55 628.43,801.9 631.12,801.9 631.12,803.25 631.8,803.25"/>
<polyline points="639.9,807.3 641.93,807.3 641.93,808.65 645.98,808.65 645.98,810 660.82,810 660.82,808.65 663.53,808.65 663.53,807.3 666.22,807.3 666.22,805.95 668.92,805.95 668.92,804.6 672.98,804.6 672.98,803.25 675.68,803.25 675.68,801.9 681.08,801.9 681.08,800.55 686.48,800.55 686.48,799.2 690.53,799.2 690.53,797.85 693.22,797.85 693.22,796.5 695.92,796.5 695.92,795.15 698.62,795.15 698.62,793.8 699.98,793.8 699.98,792.45 702.68,792.45 702.68,793.8 704.03,793.8 704.03,792.45 708.08,792.45 708.08,791.1 710.78,791.1 710.78,789.75 713.48,789.75 713.48,788.4 716.18,788.4 716.18,787.05 720.9,787.05"/>
<polyline points="730.35,792.45 740.48,792.45 740.48,791.1 741.82,791.1 741.82,792.45 742.5,792.45"/>
<polyline points="760.05,795.15 765.45,795.15"/>
<polyline points="770.85,796.5 779.62,796.5 779.62,795.15 783.68,795.15 783.68,793.8 786.38,793.8 786.38,792.45 790.42,792.45 790.42,791.1 810.68,791.1 810.68,789.75 817.42,789.75 817.42,788.4 861.98,788.4 861.98,789.75 868.72,789.75 868.72,791.1 874.13,791.1 874.13,792.45 880.88,792.45 880.88,793.8 884.92,793.8 884.92,795.15 888.98,795.15 888.98,796.5 891.68,796.5 891.68,797.85 895.72,797.85 895.72,799.2 899.78,799.2 899.78,800.55 909.22,800.55 909.22,801.9 909.9,801.9"/>
<polyline points="224.1,799.2 224.78,799.2 224.78,797.85 226.13,797.85 226.13,796.5 227.48,796.5 227.48,795.15 230.18,795.15 230.18,793.8 231.52,793.8 231.52,792.45 234.23,792.45 234.23,791.1 236.92,791.1 236.92,789.75 238.28,789.75 238.28,788.4 240.98,788.4 240.98,787.05 243.68,787.05 243.68,785.7 245.02,785.7 245.02,784.35 250.42,784.35 250.42,785.7 251.78,785.7 251.78,787.05 253.13,787.05 253.13,788.4 254.48,788.4 254.48,789.75 255.82,789.75 255.82,791.1 257.18,791.1 257.18,792.45 259.88,792.45 259.88,793.8 262.58,793.8 262.58,795.15 267.98,795.15 267.98,796.5 285.53,796.5 285.53,797.85 286.88,797.85 286.88,796.5 289.58,796.5 289.58,795.15 292.28,795.15 292.28,793.8 294.98,793.8 294.98,792.45 296.33,792.45 296.33,793.8 297.68,793.8 297.68,795.15 299.03,795.15 299.03,796.5 301.73,796.5 301.73,797.85 303.08,797.85 303.08,799.2 311.18,799.2 311.18,797.85 312.53,797.85 312.53,799.2 327.38,799.2 327.38,797.85 330.08,797.85 330.08,796.5 332.78,796.5 332.78,795.15 334.12,795.15 334.12,793.8 335.48,793.8 335.48,792.45 336.83,792.45 336.83,791.1 338.18,791.1 338.18,789.75 339.52,789.75 339.52,788.4 340.88,788.4 340.88,787.05 342.9,787.05"/>
<polyline points="351,787.05 351.68,787.05 351.68,785.7 353.02,785.7 353.02,784.35 354.38,784.35 354.38,783 355.72,783 355.72,781.65 358.42,781.65 358.42,780.3 362.48,780.3 362.48,778.95 365.18,778.95 365.18,780.3 370.58,780.3 370.58,781.65 371.25,781.65"/>
<polyline points="388.8,795.15 396.22,795.15 396.22,793.8 400.28,793.8 400.28,792.45 412.42,792.45 412.42,791.1 415.12,791.1 415.12,789.75 416.48,789.75 416.48,788.4 419.18,788.4 419.18,787.05 420.52,787.05 420.52,785.7 421.88,785.7 421.88,784.35 423.22,784.35 423.22,783 424.58,783 424.58,781.65 431.33,781.65 431.33,783 438.08,783 438.08,784.35 440.78,784.35 440.78,785.7 444.83,785.7 444.83,787.05 447.52,787.05 447.52,788.4 448.88,788.4 448.88,789.75 451.58,789.75 451.58,791.1 454.28,791.1 454.28,792.45 470.48,792.45 470.48,791.1 498.83,791.1 498.83,792.45 506.92,792.45 506.92,793.8 508.28,793.8 508.28,795.15 510.98,795.15 510.98,796.5 513.68,796.5 513.68,797.85 515.02,797.85 515.02,799.2 517.72,799.2 517.72,800.55 520.43,800.55 520.43,801.9 521.78,801.9 521.78,803.25 525.83,803.25 525.83,804.6 542.03,804.6 542.03,805.95 546.08,805.95 546.08,807.3 551.48,807.3 551.48,805.95 556.88,805.95 556.88,804.6 560.93,804.6 560.93,803.25 562.28,803.25 562.28,801.9 563.62,801.9 563.62,800.55 564.98,800.55 564.98,799.2 566.33,799.2 566.33,797.85 567.68,797.85 567.68,796.5 569.03,796.5 569.03,795.15 570.38,795.15 570.38,793.8 573.08,793.8 573.08,792.45 581.85,792.45"/>
<polyline points="588.6,793.8 593.33,793.8 593.33,792.45 597.38,792.45 597.38,791.1 606.83,791.1 606.83,792.45 614.93,792.45 614.93,793.8 617.62,793.8 617.62,795.15 620.33,795.15 620.33,796.5 623.03,796.5 623.03,797.85 625.72,797.85 625.72,799.2 628.43,799.2 628.43,800.55 629.1,800.55"/>
<polyline points="631.8,801.9 632.48,801.9 632.48,803.25 636.53,803.25 636.53,804.6 643.28,804.6 643.28,805.95 652.72,805.95 652.72,804.6 656.78,804.6 656.78,803.25 660.82,803.25 660.82,801.9 663.53,801.9 663.53,800.55 667.58,800.55 667.58,799.2 672.98,799.2 672.98,797.85 681.08,797.85 681.08,796.5 686.48,796.5 686.48,795.15 689.18,795.15 689.18,793.8 690.53,793.8 690.53,792.45 693.22,792.45 693.22,791.1 695.92,791.1 695.92,789.75 709.42,789.75 709.42,788.4 712.12,788.4 712.12,787.05 715.5,787.05"/>
<polyline points="757.35,793.8 760.05,793.8"/>
<polyline points="768.15,795.15 772.88,795.15 772.88,793.8 775.58,793.8 775.58,792.45 778.28,792.45 778.28,791.1 780.98,791.1 780.98,789.75 782.32,789.75 782.32,788.4 785.03,788.4 785.03,787.05 814.72,787.05 814.72,785.7 829.58,785.7 829.58,784.35 834.98,784.35 834.98,785.7 848.48,785.7 848.48,787.05 861.98,787.05 861.98,788.4 870.08,788.4 870.08,789.75 880.88,789.75 880.88,791.1 884.92,791.1 884.92,792.45 887.63,792.45 887.63,793.8 890.32,793.8 890.32,795.15 894.38,795.15 894.38,796.5 898.42,796.5 898.42,797.85 906.53,797.85 906.53,799.2 907.2,799.2"/>
<polyline points="220.05,795.15 222.08,795.15 222.08,793.8 223.42,793.8 223.42,792.45 224.78,792.45 224.78,791.1 226.13,791.1 226.13,789.75 228.82,789.75 228.82,788.4 230.18,788.4 230.18,787.05 232.88,787.05 232.88,785.7 234.23,785.7 234.23,784.35 236.92,784.35 236.92,783 238.28,783 238.28,781.65 240.98,781.65 240.98,780.3 246.38,780.3 246.38,781.65 249.08,781.65 249.08,783 250.42,783 250.42,784.35 251.78,784.35 251.78,785.7 254.48,785.7 254.48,787.05 255.82,787.05 255.82,788.4 258.53,788.4 258.53,789.75 263.92,789.75 263.92,791.1 281.48,791.1 281.48,792.45 284.18,792.45 284.18,791.1 286.88,791.1 286.88,789.75 290.92,789.75 290.92,788.4 292.28,788.4 292.28,789.75 293.62,789.75 293.62,791.1 294.3,791.1"/>
<polyline points="297,792.45 297.68,792.45 297.68,793.8 299.03,793.8 299.03,795.15 299.7,795.15"/>
<polyline points="302.4,796.5 324.68,796.5 324.68,795.15 328.72,795.15 328.72,793.8 331.42,793.8 331.42,792.45 332.78,792.45 332.78,791.1 335.48,791.1 335.48,789.75 338.18,789.75 338.18,788.4 338.85,788.4"/>
<polyline points="346.95,785.7 347.62,785.7 347.62,784.35 348.98,784.35 348.98,783 351.68,783 351.68,781.65 353.02,781.65 353.02,780.3 354.38,780.3 354.38,778.95 355.72,778.95 355.72,777.6 365.85,777.6"/>
<polyline points="386.1,791.1 396.22,791.1 396.22,789.75 398.92,789.75 398.92,788.4 407.02,788.4 407.02,787.05 409.72,787.05 409.72,785.7 411.08,785.7 411.08,784.35 413.78,784.35 413.78,783 415.12,783 415.12,781.65 417.83,781.65 417.83,780.3 419.18,780.3 419.18,778.95 420.52,778.95 420.52,777.6 424.58,777.6 424.58,778.95 427.28,778.95 427.28,780.3 434.02,780.3 434.02,781.65 436.05,781.65"/>
<polyline points="438.75,783 442.13,783 442.13,784.35 442.8,784.35"/>
<polyline points="454.95,791.1 461.02,791.1 461.02,789.75 467.78,789.75 467.78,788.4 494.78,788.4 494.78,789.75 504.22,789.75 504.22,791.1 506.92,791.1 506.92,792.45 508.28,792.45 508.28,793.8 510.98,793.8 510.98,795.15 513.68,795.15 513.68,796.5 516.38,796.5 516.38,797.85 519.08,797.85 519.08,799.2 524.48,799.2 524.48,800.55 537.98,800.55 537.98,801.9 555.53,801.9 555.53,800.55 558.22,800.55 558.22,799.2 559.58,799.2 559.58,797.85 562.28,797.85 562.28,796.5 563.62,796.5 563.62,795.15 564.98,795.15 564.98,793.8 566.33,793.8 566.33,792.45 567.68,792.45 567.68,791.1 569.03,791.1 569.03,789.75 574.43,789.75 574.43,791.1 577.8,791.1"/>
<polyline points="587.25,792.45 591.98,792.45 591.98,791.1 594.68,791.1 594.68,789.75 613.58,789.75 613.58,791.1 616.28,791.1 616.28,792.45 618.98,792.45 618.98,793.8 621.68,793.8 621.68,795.15 623.03,795.15 623.03,796.5 625.72,796.5 625.72,797.85 628.43,797.85 628.43,799.2 633.83,799.2 633.83,800.55 647.33,800.55 647.33,799.2 652.72,799.2 652.72,797.85 655.42,797.85 655.42,796.5 659.48,796.5 659.48,795.15 674.32,795.15 674.32,793.8 683.78,793.8 683.78,792.45 686.48,792.45 686.48,791.1 690.53,791.1 690.53,789.75 693.22,789.75 693.22,788.4 695.25,788.4"/>
<polyline points="754.65,792.45 755.32,792.45 755.32,793.8 756,793.8"/>
<polyline points="766.8,793.8 768.82,793.8 768.82,792.45 771.53,792.45 771.53,791.1 772.88,791.1 772.88,789.75 775.58,789.75 775.58,788.4 776.92,788.4 776.92,787.05 778.28,787.05 778.28,785.7 780.98,785.7 780.98,784.35 782.32,784.35 782.32,783 805.28,783 805.28,784.35 821.48,784.35 821.48,783 836.32,783 836.32,784.35 846.45,784.35"/>
<polyline points="849.15,785.7 859.95,785.7"/>
<polyline points="862.65,787.05 875.48,787.05 875.48,785.7 878.18,785.7 878.18,787.05 882.22,787.05 882.22,788.4 883.58,788.4 883.58,789.75 886.28,789.75 886.28,791.1 888.98,791.1 888.98,792.45 891.68,792.45 891.68,793.8 897.08,793.8 897.08,795.15 902.48,795.15 902.48,796.5 903.15,796.5"/>
<polyline points="216,792.45 218.02,792.45 218.02,791.1 219.38,791.1 219.38,789.75 220.73,789.75 220.73,788.4 222.08,788.4 222.08,787.05 224.78,787.05 224.78,785.7 226.13,785.7 226.13,784.35 227.48,784.35 227.48,783 230.18,783 230.18,781.65 231.52,781.65 231.52,780.3 234.23,780.3 234.23,778.95 235.58,778.95 235.58,777.6 239.63,777.6 239.63,776.25 240.98,776.25 240.98,777.6 242.32,777.6 242.32,776.25 243.68,776.25 243.68,777.6 246.38,777.6 246.38,778.95 247.73,778.95 247.73,780.3 250.42,780.3 250.42,781.65 253.13,781.65 253.13,783 257.18,783 257.18,784.35 276.08,784.35 276.08,785.7 286.88,785.7 286.88,784.35 289.58,784.35 289.58,785.7 290.25,785.7"/>
<polyline points="294.3,789.75 294.98,789.75 294.98,791.1 295.65,791.1"/>
<polyline points="299.7,793.8 319.28,793.8 319.28,792.45 324.68,792.45 324.68,791.1 330.08,791.1 330.08,789.75 334.12,789.75 334.12,788.4 338.18,788.4 338.18,787.05 340.88,787.05 340.88,785.7 342.22,785.7 342.22,784.35 344.92,784.35 344.92,783 346.28,783 346.28,781.65 347.62,781.65 347.62,780.3 348.98,780.3 348.98,778.95 350.33,778.95 350.33,777.6 351.68,777.6 351.68,776.25 353.02,776.25 353.02,774.9 362.48,774.9 362.48,776.25 363.15,776.25"/>
<polyline points="380.7,787.05 394.88,787.05 394.88,785.7 400.28,785.7 400.28,784.35 404.33,784.35 404.33,783 405.68,783 405.68,781.65 408.38,781.65 408.38,780.3 412.42,780.3 412.42,778.95 415.12,778.95 415.12,777.6 419.85,777.6"/>
<polyline points="454.95,789.75 461.02,789.75 461.02,788.4 467.78,788.4 467.78,787.05 481.95,787.05"/>
<polyline points="495.45,788.4 502.2,788.4"/>
<polyline points="504.9,789.75 506.92,789.75 506.92,791.1 509.63,791.1 509.63,792.45 513.68,792.45 513.68,793.8 517.72,793.8 517.72,795.15 528.53,795.15 528.53,796.5 537.98,796.5 537.98,797.85 554.18,797.85 554.18,796.5 555.53,796.5 555.53,795.15 558.22,795.15 558.22,793.8 559.58,793.8 559.58,792.45 560.93,792.45 560.93,791.1 562.28,791.1 562.28,789.75 563.62,789.75 563.62,788.4 564.98,788.4 564.98,787.05 570.38,787.05 570.38,788.4 571.05,788.4"/>
<polyline points="583.2,792.45 585.22,792.45 585.22,791.1 589.28,791.1 589.28,789.75 591.98,789.75 591.98,788.4 598.72,788.4 598.72,787.05 610.88,787.05 610.88,788.4 613.58,788.4 613.58,789.75 616.28,789.75 616.28,791.1 618.98,791.1 618.98,792.45 621.68,792.45 621.68,793.8 624.38,793.8 624.38,795.15 643.28,795.15 643.28,793.8 648.68,793.8 648.68,792.45 652.72,792.45 652.72,791.1 655.42,791.1 655.42,789.75 662.18,789.75 662.18,791.1 667.58,791.1 667.58,792.45 679.72,792.45 679.72,791.1 685.12,791.1 685.12,789.75 690.53,789.75 690.53,788.4 691.2,788.4"/>
<polyline points="706.05,788.4 707.4,788.4"/>
<polyline points="761.4,793.8 763.42,793.8 763.42,792.45 766.12,792.45 766.12,791.1 768.82,791.1 768.82,789.75 770.18,789.75 770.18,788.4 771.53,788.4 771.53,787.05 772.88,787.05 772.88,785.7 774.22,785.7 774.22,784.35 776.92,784.35 776.92,783 778.28,783 778.28,781.65 801.9,781.65"/>
<polyline points="805.95,783 818.78,783 818.78,781.65 832.95,781.65"/>
<polyline points="837,783 843.75,783"/>
<polyline points="847.8,784.35 858.6,784.35"/>
<polyline points="861.3,785.7 863.32,785.7 863.32,784.35 870.08,784.35 870.08,783 872.78,783 872.78,781.65 878.18,781.65 878.18,783 879.53,783 879.53,784.35 880.88,784.35 880.88,785.7 882.22,785.7 882.22,787.05 884.92,787.05 884.92,788.4 886.28,788.4 886.28,789.75 888.98,789.75 888.98,791.1 897.08,791.1 897.08,792.45 898.42,792.45 898.42,793.8 900.45,793.8"/>
<polyline points="213.3,789.75 213.98,789.75 213.98,788.4 215.32,788.4 215.32,787.05 218.02,787.05 218.02,785.7 219.38,785.7 219.38,784.35 220.73,784.35 220.73,783 222.08,783 222.08,781.65 224.78,781.65 224.78,780.3 226.13,780.3 226.13,778.95 228.82,778.95 228.82,777.6 230.18,777.6 230.18,776.25 232.88,776.25 232.88,774.9 235.58,774.9 235.58,773.55 243.68,773.55 243.68,774.9 246.38,774.9 246.38,776.25 250.42,776.25 250.42,777.6 269.33,777.6 269.33,778.95 273.38,778.95 273.38,780.3 285.53,780.3 285.53,781.65 286.88,781.65 286.88,783 287.55,783"/>
<polyline points="291.6,787.05 292.28,787.05 292.28,788.4 294.98,788.4 294.98,789.75 304.42,789.75 304.42,791.1 309.83,791.1 309.83,789.75 313.88,789.75 313.88,788.4 317.92,788.4 317.92,787.05 334.12,787.05 334.12,785.7 335.48,785.7 335.48,784.35 338.18,784.35 338.18,783 340.88,783 340.88,781.65 342.22,781.65 342.22,780.3 343.58,780.3 343.58,778.95 344.92,778.95 344.92,776.25 346.28,776.25 346.28,774.9 347.62,774.9 347.62,773.55 350.33,773.55 350.33,772.2 357.08,772.2 357.08,773.55 359.1,773.55"/>
<polyline points="378,784.35 380.02,784.35 380.02,783 381.38,783 381.38,784.35 390.83,784.35 390.83,783 401.62,783 401.62,781.65 404.33,781.65 404.33,780.3 407.7,780.3"/>
<polyline points="456.3,788.4 460.35,788.4"/>
<polyline points="483.3,787.05 492.08,787.05 492.08,785.7 497.48,785.7 497.48,787.05 504.22,787.05 504.22,788.4 509.63,788.4 509.63,789.75 524.48,789.75 524.48,791.1 531.22,791.1 531.22,792.45 542.03,792.45 542.03,793.8 551.48,793.8 551.48,792.45 554.18,792.45 554.18,791.1 555.53,791.1 555.53,789.75 558.22,789.75 558.22,788.4 559.58,788.4 559.58,787.05 562.28,787.05 562.28,785.7 565.65,785.7"/>
<polyline points="579.15,791.1 583.88,791.1 583.88,789.75 587.93,789.75 587.93,788.4 590.62,788.4 590.62,787.05 594.68,787.05 594.68,785.7 600.08,785.7 600.08,784.35 605.48,784.35 605.48,785.7 608.85,785.7"/>
<polyline points="611.55,787.05 613.58,787.05 613.58,788.4 616.28,788.4 616.28,789.75 618.98,789.75 618.98,791.1 639.22,791.1 639.22,789.75 645.98,789.75 645.98,788.4 650.03,788.4 650.03,787.05 654.08,787.05 654.08,785.7 655.42,785.7 655.42,787.05 658.12,787.05 658.12,788.4 662.18,788.4 662.18,789.75 665.55,789.75"/>
<polyline points="668.25,791.1 679.72,791.1 679.72,789.75 684.45,789.75"/>
<polyline points="758.7,792.45 760.72,792.45 760.72,791.1 763.42,791.1 763.42,789.75 764.78,789.75 764.78,788.4 767.48,788.4 767.48,787.05 768.82,787.05 768.82,785.7 770.18,785.7 770.18,784.35 772.88,784.35 772.88,783 774.22,783 774.22,781.65 778.28,781.65 778.28,780.3 781.65,780.3"/>
<polyline points="803.25,781.65 816.08,781.65 816.08,780.3 824.18,780.3 824.18,778.95 829.58,778.95 829.58,780.3 836.32,780.3 836.32,781.65 844.42,781.65 844.42,783 863.32,783 863.32,781.65 866.03,781.65 866.03,780.3 867.38,780.3 867.38,778.95 871.42,778.95 871.42,777.6 874.13,777.6 874.13,778.95 875.48,778.95 875.48,780.3 876.15,780.3"/>
<polyline points="880.2,783 880.88,783 880.88,784.35 882.22,784.35 882.22,785.7 884.92,785.7 884.92,787.05 887.63,787.05 887.63,788.4 893.03,788.4 893.03,789.75 895.05,789.75"/>
<polyline points="209.25,787.05 209.92,787.05 209.92,785.7 212.62,785.7 212.62,784.35 213.98,784.35 213.98,783 216.68,783 216.68,781.65 218.02,781.65 218.02,780.3 219.38,780.3 219.38,778.95 222.08,778.95 222.08,777.6 224.78,777.6 224.78,776.25 226.13,776.25 226.13,774.9 228.82,774.9 228.82,773.55 231.52,773.55 231.52,772.2 234.23,772.2 234.23,770.85 245.02,770.85 245.02,772.2 262.58,772.2 262.58,773.55 267.98,773.55 267.98,774.9 272.03,774.9 272.03,776.25 282.83,776.25 282.83,777.6 283.5,777.6"/>
<polyline points="287.55,781.65 288.23,781.65 288.23,783 290.92,783 290.92,784.35 299.03,784.35 299.03,785.7 307.12,785.7 307.12,784.35 309.83,784.35 309.83,783 313.88,783 313.88,781.65 319.28,781.65 319.28,783 324.68,783 324.68,784.35 328.72,784.35 328.72,783 331.42,783 331.42,781.65 334.12,781.65 334.12,780.3 336.83,780.3 336.83,778.95 338.18,778.95 338.18,777.6 339.52,777.6 339.52,776.25 340.88,776.25 340.88,774.9 342.22,774.9 342.22,773.55 343.58,773.55 343.58,772.2 344.92,772.2 344.92,770.85 347.62,770.85 347.62,769.5 350.33,769.5 350.33,770.85 355.05,770.85"/>
<polyline points="372.6,780.3 381.38,780.3 381.38,781.65 391.5,781.65"/>
<polyline points="449.55,787.05 461.7,787.05"/>
<polyline points="479.25,785.7 482.63,785.7 482.63,784.35 490.72,784.35 490.72,783 494.78,783 494.78,784.35 505.58,784.35 505.58,785.7 517.72,785.7 517.72,784.35 523.12,784.35 523.12,785.7 527.18,785.7 527.18,787.05 532.58,787.05 532.58,788.4 543.38,788.4 543.38,789.75 550.12,789.75 550.12,788.4 552.83,788.4 552.83,787.05 556.88,787.05 556.88,785.7 559.58,785.7 559.58,784.35 561.6,784.35"/>
<polyline points="575.1,789.75 581.18,789.75 581.18,788.4 583.88,788.4 583.88,787.05 587.93,787.05 587.93,785.7 591.98,785.7 591.98,784.35 596.03,784.35 596.03,783 603.45,783"/>
<polyline points="606.15,784.35 607.5,784.35"/>
<polyline points="610.2,785.7 611.55,785.7"/>
<polyline points="614.25,787.05 616.28,787.05 616.28,788.4 637.88,788.4 637.88,787.05 639.22,787.05 639.22,788.4 640.58,788.4 640.58,787.05 645.98,787.05 645.98,785.7 652.05,785.7"/>
<polyline points="675,789.75 679.72,789.75 679.72,788.4 685.8,788.4"/>
<polyline points="702,788.4 703.35,788.4"/>
<polyline points="753.3,792.45 753.98,792.45 753.98,791.1 758.03,791.1 758.03,789.75 760.72,789.75 760.72,788.4 763.42,788.4 763.42,787.05 766.12,787.05 766.12,785.7 767.48,785.7 767.48,784.35 770.18,784.35 770.18,783 771.53,783 771.53,781.65 773.55,781.65"/>
<polyline points="791.1,780.3 810.68,780.3 810.68,778.95 814.72,778.95 814.72,777.6 817.42,777.6 817.42,776.25 821.48,776.25 821.48,774.9 826.88,774.9 826.88,776.25 829.58,776.25 829.58,777.6 832.28,777.6 832.28,778.95 836.32,778.95 836.32,780.3 848.48,780.3 848.48,781.65 855.22,781.65 855.22,780.3 859.28,780.3 859.28,778.95 861.98,778.95 861.98,777.6 864.68,777.6 864.68,776.25 866.03,776.25 866.03,774.9 871.42,774.9 871.42,776.25 872.1,776.25"/>
<polyline points="877.5,780.3 878.18,780.3 878.18,781.65 878.85,781.65"/>
<polyline points="881.55,783 882.22,783 882.22,784.35 887.63,784.35 887.63,785.7 890.32,785.7 890.32,787.05 891,787.05"/>
<polyline points="206.55,783 209.92,783 209.92,781.65 211.28,781.65 211.28,780.3 213.98,780.3 213.98,778.95 216.68,778.95 216.68,777.6 219.38,777.6 219.38,776.25 222.08,776.25 222.08,774.9 223.42,774.9 223.42,773.55 226.13,773.55 226.13,772.2 228.82,772.2 228.82,770.85 232.88,770.85 232.88,769.5 259.88,769.5 259.88,770.85 265.28,770.85 265.28,772.2 272.03,772.2 272.03,773.55 278.78,773.55 278.78,774.9 279.45,774.9"/>
<polyline points="284.85,778.95 292.28,778.95 292.28,777.6 294.98,777.6 294.98,778.95 299.03,778.95 299.03,780.3 303.08,780.3 303.08,778.95 307.12,778.95 307.12,777.6 317.92,777.6 317.92,778.95 327.38,778.95 327.38,777.6 331.42,777.6 331.42,776.25 334.12,776.25 334.12,774.9 335.48,774.9 335.48,773.55 336.83,773.55 336.83,772.2 338.18,772.2 338.18,770.85 339.52,770.85 339.52,769.5 340.88,769.5 340.88,768.15 348.3,768.15"/>
<polyline points="367.2,777.6 381.38,777.6 381.38,778.95 386.78,778.95 386.78,780.3 390.15,780.3"/>
<polyline points="392.85,781.65 398.25,781.65"/>
<polyline points="425.25,777.6 425.92,777.6 425.92,776.25 429.98,776.25 429.98,777.6 434.02,777.6 434.02,778.95 435.38,778.95 435.38,780.3 436.05,780.3"/>
<polyline points="444.15,783 447.52,783 447.52,781.65 448.88,781.65 448.88,783 452.92,783 452.92,784.35 456.98,784.35 456.98,785.7 469.13,785.7 469.13,784.35 473.18,784.35 473.18,783 475.88,783 475.88,781.65 478.58,781.65 478.58,780.3 481.28,780.3 481.28,778.95 486.68,778.95 486.68,780.3 501.52,780.3 501.52,781.65 505.58,781.65 505.58,783 508.28,783 508.28,781.65 512.33,781.65 512.33,780.3 515.02,780.3 515.02,778.95 519.08,778.95 519.08,780.3 523.12,780.3 523.12,781.65 525.83,781.65 525.83,783 535.28,783 535.28,784.35 542.03,784.35 542.03,785.7 548.78,785.7 548.78,784.35 554.18,784.35 554.18,783 560.25,783"/>
<polyline points="571.05,787.05 571.72,787.05 571.72,788.4 574.43,788.4 574.43,787.05 579.83,787.05 579.83,785.7 583.88,785.7 583.88,784.35 589.28,784.35 589.28,783 594.68,783 594.68,781.65 599.4,781.65"/>
<polyline points="604.8,783 606.15,783"/>
<polyline points="608.85,784.35 612.22,784.35 612.22,785.7 633.83,785.7 633.83,787.05 637.2,787.05"/>
<polyline points="670.95,789.75 674.32,789.75 674.32,788.4 678.38,788.4 678.38,787.05 683.1,787.05"/>
<polyline points="697.95,788.4 701.32,788.4 701.32,787.05 702,787.05"/>
<polyline points="749.25,791.1 751.28,791.1 751.28,789.75 756.68,789.75 756.68,788.4 759.38,788.4 759.38,787.05 763.42,787.05 763.42,785.7 766.12,785.7 766.12,784.35 767.48,784.35 767.48,783 769.5,783"/>
<polyline points="785.7,780.3 787.72,780.3 787.72,778.95 803.92,778.95 803.92,777.6 807.98,777.6 807.98,776.25 810.68,776.25 810.68,774.9 813.38,774.9 813.38,773.55 814.72,773.55 814.72,772.2 817.42,772.2 817.42,770.85 822.82,770.85 822.82,772.2 825.53,772.2 825.53,773.55 826.88,773.55 826.88,774.9 829.58,774.9 829.58,776.25 832.28,776.25 832.28,777.6 836.32,777.6 836.32,778.95 852.53,778.95 852.53,777.6 856.58,777.6 856.58,776.25 859.28,776.25 859.28,774.9 860.62,774.9 860.62,773.55 864.68,773.55 864.68,772.2 867.38,772.2 867.38,773.55 868.05,773.55"/>
<polyline points="874.8,777.6 875.48,777.6 875.48,778.95 876.15,778.95"/>
<polyline points="878.85,780.3 880.88,780.3 880.88,781.65 886.28,781.65 886.28,783 887.63,783 887.63,784.35 888.3,784.35"/>
<polyline points="202.5,780.3 205.88,780.3 205.88,778.95 209.92,778.95 209.92,777.6 212.62,777.6 212.62,776.25 216.68,776.25 216.68,774.9 219.38,774.9 219.38,773.55 223.42,773.55 223.42,772.2 226.13,772.2 226.13,770.85 228.15,770.85"/>
<polyline points="230.85,769.5 232.2,769.5"/>
<polyline points="265.95,770.85 274.73,770.85 274.73,772.2 276.75,772.2"/>
<polyline points="280.8,774.9 286.88,774.9 286.88,773.55 288.23,773.55 288.23,772.2 289.58,772.2 289.58,770.85 290.92,770.85 290.92,772.2 293.62,772.2 293.62,773.55 297.68,773.55 297.68,774.9 300.38,774.9 300.38,773.55 313.88,773.55 313.88,774.9 323.33,774.9 323.33,773.55 327.38,773.55 327.38,772.2 330.08,772.2 330.08,770.85 332.78,770.85 332.78,769.5 334.12,769.5 334.12,768.15 335.48,768.15 335.48,766.8 338.18,766.8 338.18,765.45 342.22,765.45 342.22,766.8 344.25,766.8"/>
<polyline points="363.15,774.9 382.72,774.9 382.72,776.25 386.78,776.25 386.78,777.6 409.72,777.6 409.72,776.25 415.12,776.25 415.12,774.9 419.18,774.9 419.18,773.55 421.88,773.55 421.88,772.2 424.58,772.2 424.58,770.85 425.92,770.85 425.92,772.2 431.33,772.2 431.33,773.55 432.68,773.55 432.68,774.9 435.38,774.9 435.38,776.25 442.13,776.25 442.13,774.9 446.18,774.9 446.18,776.25 448.88,776.25 448.88,777.6 450.22,777.6 450.22,778.95 451.58,778.95 451.58,780.3 454.28,780.3 454.28,781.65 456.98,781.65 456.98,783 463.72,783 463.72,781.65 465.08,781.65 465.08,780.3 467.78,780.3 467.78,778.95 469.13,778.95 469.13,777.6 471.83,777.6 471.83,776.25 473.18,776.25 473.18,774.9 475.88,774.9 475.88,773.55 482.63,773.55 482.63,774.9 488.02,774.9 488.02,776.25 496.13,776.25 496.13,777.6 500.18,777.6 500.18,778.95 506.92,778.95 506.92,777.6 509.63,777.6 509.63,776.25 512.33,776.25 512.33,774.9 517.72,774.9 517.72,776.25 520.43,776.25 520.43,777.6 531.22,777.6 531.22,778.95 536.62,778.95 536.62,780.3 543.38,780.3 543.38,781.65 547.43,781.65 547.43,780.3 552.83,780.3 552.83,778.95 556.88,778.95 556.88,780.3 560.93,780.3 560.93,781.65 562.28,781.65 562.28,783 564.98,783 564.98,784.35 570.38,784.35 570.38,785.7 571.72,785.7 571.72,784.35 578.48,784.35 578.48,783 585.22,783 585.22,781.65 591.98,781.65 591.98,780.3 593.33,780.3 593.33,781.65 594,781.65"/>
<polyline points="600.75,781.65 604.8,781.65"/>
<polyline points="607.5,783 623.03,783 623.03,784.35 630.45,784.35"/>
<polyline points="634.5,785.7 635.85,785.7"/>
<polyline points="666.9,789.75 668.92,789.75 668.92,788.4 671.62,788.4 671.62,787.05 674.32,787.05 674.32,785.7 677.03,785.7 677.03,784.35 678.38,784.35 678.38,785.7 680.4,785.7"/>
<polyline points="695.25,787.05 697.28,787.05 697.28,785.7 706.72,785.7 706.72,787.05 707.4,787.05"/>
<polyline points="746.55,791.1 747.9,791.1"/>
<polyline points="754.65,788.4 756,788.4"/>
<polyline points="761.4,785.7 763.42,785.7 763.42,784.35 766.12,784.35 766.12,783 766.8,783"/>
<polyline points="781.65,778.95 783.68,778.95 783.68,777.6 785.03,777.6 785.03,776.25 802.58,776.25 802.58,774.9 805.28,774.9 805.28,773.55 807.98,773.55 807.98,772.2 810.68,772.2 810.68,770.85 812.03,770.85 812.03,769.5 814.72,769.5 814.72,768.15 818.78,768.15 818.78,769.5 819.45,769.5"/>
<polyline points="832.95,776.25 849.82,776.25 849.82,774.9 853.88,774.9 853.88,773.55 856.58,773.55 856.58,772.2 859.28,772.2 859.28,770.85 864,770.85"/>
<polyline points="872.1,774.9 872.78,774.9 872.78,776.25 875.48,776.25 875.48,777.6 880.88,777.6 880.88,778.95 883.58,778.95 883.58,780.3 884.25,780.3"/>
<polyline points="198.45,777.6 203.18,777.6 203.18,776.25 207.23,776.25 207.23,774.9 212.62,774.9 212.62,773.55 218.02,773.55 218.02,772.2 222.08,772.2 222.08,770.85 225.45,770.85"/>
<polyline points="228.15,769.5 229.5,769.5"/>
<polyline points="265.95,769.5 271.35,769.5"/>
<polyline points="279.45,772.2 281.48,772.2 281.48,770.85 282.83,770.85 282.83,769.5 284.18,769.5 284.18,768.15 285.53,768.15 285.53,766.8 288.23,766.8 288.23,768.15 293.62,768.15 293.62,769.5 297.68,769.5 297.68,768.15 299.03,768.15 299.03,769.5 304.42,769.5 304.42,770.85 319.28,770.85 319.28,769.5 324.68,769.5 324.68,768.15 326.03,768.15 326.03,766.8 328.72,766.8 328.72,765.45 330.08,765.45 330.08,764.1 332.78,764.1 332.78,762.75 338.18,762.75 338.18,764.1 340.2,764.1"/>
<polyline points="356.4,770.85 357.08,770.85 357.08,772.2 361.12,772.2 361.12,770.85 381.38,770.85 381.38,772.2 393.52,772.2 393.52,770.85 405.68,770.85 405.68,769.5 417.83,769.5 417.83,768.15 420.52,768.15 420.52,766.8 423.22,766.8 423.22,765.45 427.28,765.45 427.28,766.8 429.98,766.8 429.98,768.15 434.02,768.15 434.02,769.5 436.72,769.5 436.72,768.15 440.78,768.15 440.78,766.8 442.13,766.8 442.13,768.15 443.48,768.15 443.48,769.5 444.83,769.5 444.83,770.85 446.18,770.85 446.18,772.2 447.52,772.2 447.52,773.55 448.88,773.55 448.88,776.25 451.58,776.25 451.58,777.6 459.68,777.6 459.68,776.25 462.38,776.25 462.38,774.9 463.72,774.9 463.72,773.55 466.42,773.55 466.42,772.2 467.78,772.2 467.78,770.85 469.13,770.85 469.13,769.5 471.83,769.5 471.83,768.15 478.58,768.15 478.58,769.5 481.28,769.5 481.28,770.85 483.98,770.85 483.98,772.2 486.68,772.2 486.68,773.55 492.08,773.55 492.08,774.9 496.13,774.9 496.13,776.25 502.88,776.25 502.88,774.9 505.58,774.9 505.58,773.55 508.28,773.55 508.28,772.2 528.53,772.2 528.53,773.55 533.93,773.55 533.93,774.9 537.98,774.9 537.98,776.25 547.43,776.25 547.43,774.9 555.53,774.9 555.53,776.25 558.22,776.25 558.22,777.6 559.58,777.6 559.58,778.95 562.28,778.95 562.28,780.3 564.98,780.3 564.98,781.65 578.48,781.65 578.48,780.3 591.3,780.3"/>
<polyline points="594,780.3 623.03,780.3 623.03,781.65 627.08,781.65 627.08,783 631.12,783 631.12,784.35 633.15,784.35"/>
<polyline points="637.2,785.7 638.55,785.7"/>
<polyline points="662.85,788.4 664.88,788.4 664.88,787.05 667.58,787.05 667.58,785.7 668.92,785.7 668.92,784.35 671.62,784.35 671.62,783 678.38,783 678.38,784.35 682.42,784.35 682.42,785.7 690.53,785.7 690.53,784.35 694.58,784.35 694.58,783 704.03,783 704.03,784.35 706.72,784.35 706.72,785.7 707.4,785.7"/>
<polyline points="747.9,789.75 749.92,789.75 749.92,788.4 752.62,788.4 752.62,787.05 756.68,787.05 756.68,785.7 759.38,785.7 759.38,784.35 760.72,784.35 760.72,783 764.78,783 764.78,781.65 767.48,781.65 767.48,780.3 771.53,780.3 771.53,778.95 774.22,778.95 774.22,777.6 776.92,777.6 776.92,776.25 779.62,776.25 779.62,774.9 780.98,774.9 780.98,773.55 783.68,773.55 783.68,772.2 785.03,772.2 785.03,773.55 801.22,773.55 801.22,772.2 803.92,772.2 803.92,770.85 806.62,770.85 806.62,769.5 810.68,769.5 810.68,768.15 814.05,768.15"/>
<polyline points="827.55,773.55 845.78,773.55 845.78,772.2 849.82,772.2 849.82,770.85 853.88,770.85 853.88,769.5 862.65,769.5"/>
<polyline points="868.05,772.2 870.08,772.2 870.08,773.55 874.13,773.55 874.13,774.9 879.53,774.9 879.53,776.25 880.88,776.25 880.88,777.6 881.55,777.6"/>
<polyline points="195.75,774.9 197.78,774.9 197.78,773.55 204.52,773.55 204.52,772.2 209.92,772.2 209.92,770.85 216.68,770.85 216.68,769.5 224.78,769.5 224.78,768.15 263.92,768.15 263.92,769.5 264.6,769.5"/>
<polyline points="275.4,770.85 276.08,770.85 276.08,769.5 278.78,769.5 278.78,768.15 280.12,768.15 280.12,766.8 281.48,766.8 281.48,765.45 288.23,765.45 288.23,764.1 289.58,764.1 289.58,765.45 292.28,765.45 292.28,764.1 296.33,764.1 296.33,765.45 299.03,765.45 299.03,766.8 301.73,766.8 301.73,768.15 313.88,768.15 313.88,766.8 317.92,766.8 317.92,765.45 320.62,765.45 320.62,764.1 321.98,764.1 321.98,762.75 323.33,762.75 323.33,761.4 326.03,761.4 326.03,760.05 328.72,760.05 328.72,758.7 332.78,758.7 332.78,760.05 335.48,760.05 335.48,761.4 338.18,761.4 338.18,762.75 340.88,762.75 340.88,764.1 344.92,764.1 344.92,765.45 350.33,765.45 350.33,766.8 354.38,766.8 354.38,768.15 369.22,768.15 369.22,766.8 377.33,766.8 377.33,768.15 385.42,768.15 385.42,766.8 389.48,766.8 389.48,765.45 398.92,765.45 398.92,764.1 407.02,764.1 407.02,765.45 415.12,765.45 415.12,764.1 416.48,764.1 416.48,762.75 419.18,762.75 419.18,761.4 421.88,761.4 421.88,760.05 424.58,760.05 424.58,761.4 427.28,761.4 427.28,762.75 431.33,762.75 431.33,764.1 432.68,764.1 432.68,762.75 436.72,762.75 436.72,761.4 438.08,761.4 438.08,762.75 439.42,762.75 439.42,764.1 440.78,764.1 440.78,765.45 442.13,765.45 442.13,766.8 442.8,766.8"/>
<polyline points="448.2,772.2 448.88,772.2 448.88,773.55 452.92,773.55 452.92,772.2 456.98,772.2 456.98,770.85 458.33,770.85 458.33,769.5 461.02,769.5 461.02,768.15 463.72,768.15 463.72,766.8 466.42,766.8 466.42,765.45 467.78,765.45 467.78,764.1 474.52,764.1 474.52,765.45 475.88,765.45 475.88,766.8 478.58,766.8 478.58,768.15 481.28,768.15 481.28,769.5 481.95,769.5"/>
<polyline points="484.65,770.85 488.02,770.85 488.02,772.2 500.18,772.2 500.18,770.85 504.22,770.85 504.22,769.5 506.92,769.5 506.92,768.15 513.68,768.15 513.68,766.8 528.53,766.8 528.53,768.15 531.22,768.15 531.22,769.5 535.28,769.5 535.28,770.85 537.98,770.85 537.98,772.2 543.38,772.2 543.38,770.85 552.83,770.85 552.83,772.2 555.53,772.2 555.53,773.55 556.88,773.55 556.88,774.9 558.22,774.9 558.22,776.25 560.93,776.25 560.93,777.6 563.62,777.6 563.62,778.95 600.08,778.95 600.08,777.6 606.83,777.6 606.83,776.25 618.98,776.25 618.98,777.6 623.03,777.6 623.03,778.95 625.72,778.95 625.72,780.3 628.43,780.3 628.43,781.65 631.12,781.65 631.12,783 643.28,783 643.28,784.35 645.3,784.35"/>
<polyline points="658.8,785.7 660.82,785.7 660.82,784.35 663.53,784.35 663.53,783 664.88,783 664.88,781.65 667.58,781.65 667.58,780.3 668.92,780.3 668.92,778.95 672.98,778.95 672.98,780.3 679.72,780.3 679.72,781.65 686.48,781.65 686.48,780.3 690.53,780.3 690.53,778.95 693.22,778.95 693.22,780.3 694.58,780.3 694.58,778.95 698.62,778.95 698.62,780.3 702.68,780.3 702.68,781.65 705.38,781.65 705.38,783 708.08,783 708.08,784.35 710.78,784.35 710.78,785.7 712.8,785.7"/>
<polyline points="742.5,789.75 743.18,789.75 743.18,788.4 745.88,788.4 745.88,787.05 747.22,787.05 747.22,785.7 749.92,785.7 749.92,784.35 752.62,784.35 752.62,783 755.32,783 755.32,781.65 758.03,781.65 758.03,780.3 760.72,780.3 760.72,778.95 763.42,778.95 763.42,777.6 767.48,777.6 767.48,776.25 770.18,776.25 770.18,774.9 772.88,774.9 772.88,773.55 774.22,773.55 774.22,772.2 776.92,772.2 776.92,770.85 778.28,770.85 778.28,769.5 786.38,769.5 786.38,770.85 797.18,770.85 797.18,769.5 803.92,769.5 803.92,768.15 810,768.15"/>
<polyline points="823.5,770.85 840.38,770.85 840.38,769.5 844.42,769.5 844.42,768.15 851.18,768.15 851.18,766.8 859.28,766.8 859.28,768.15 863.32,768.15 863.32,769.5 867.38,769.5 867.38,770.85 872.78,770.85 872.78,772.2 876.82,772.2 876.82,773.55 877.5,773.55"/>
<polyline points="191.7,770.85 196.42,770.85 196.42,769.5 203.18,769.5 203.18,768.15 211.28,768.15 211.28,766.8 218.02,766.8 218.02,765.45 247.73,765.45 247.73,764.1 250.42,764.1 250.42,765.45 257.18,765.45 257.18,766.8 263.92,766.8 263.92,768.15 274.73,768.15 274.73,766.8 277.42,766.8 277.42,765.45 278.78,765.45 278.78,764.1 281.48,764.1 281.48,762.75 284.18,762.75 284.18,761.4 289.58,761.4 289.58,760.05 292.28,760.05 292.28,761.4 294.98,761.4 294.98,762.75 296.33,762.75 296.33,764.1 297,764.1"/>
<polyline points="302.4,766.8 307.12,766.8 307.12,765.45 311.18,765.45 311.18,764.1 313.88,764.1 313.88,762.75 316.58,762.75 316.58,761.4 317.92,761.4 317.92,760.05 319.28,760.05 319.28,758.7 320.62,758.7 320.62,757.35 323.33,757.35 323.33,756 326.03,756 326.03,754.65 328.72,754.65 328.72,756 331.42,756 331.42,757.35 332.78,757.35 332.78,758.7 336.83,758.7 336.83,760.05 343.58,760.05 343.58,761.4 347.62,761.4 347.62,762.75 351.68,762.75 351.68,764.1 365.18,764.1 365.18,765.45 367.88,765.45 367.88,764.1 370.58,764.1 370.58,765.45 377.33,765.45 377.33,766.8 381.38,766.8 381.38,765.45 385.42,765.45 385.42,764.1 389.48,764.1 389.48,762.75 394.88,762.75 394.88,761.4 398.92,761.4 398.92,760.05 401.62,760.05 401.62,761.4 411.08,761.4 411.08,760.05 413.78,760.05 413.78,758.7 416.48,758.7 416.48,757.35 417.83,757.35 417.83,756 420.52,756 420.52,757.35 423.22,757.35 423.22,758.7 425.92,758.7 425.92,760.05 436.05,760.05"/>
<polyline points="444.15,768.15 450.22,768.15 450.22,766.8 454.28,766.8 454.28,765.45 456.98,765.45 456.98,764.1 462.38,764.1 462.38,762.75 471.15,762.75"/>
<polyline points="479.25,766.8 481.28,766.8 481.28,768.15 486.68,768.15 486.68,769.5 490.72,769.5 490.72,768.15 497.48,768.15 497.48,766.8 500.18,766.8 500.18,765.45 502.88,765.45 502.88,764.1 506.92,764.1 506.92,762.75 510.98,762.75 510.98,761.4 515.02,761.4 515.02,760.05 525.83,760.05 525.83,761.4 527.18,761.4 527.18,762.75 529.88,762.75 529.88,764.1 532.58,764.1 532.58,765.45 533.93,765.45 533.93,766.8 537.98,766.8 537.98,768.15 539.33,768.15 539.33,766.8 548.78,766.8 548.78,768.15 551.48,768.15 551.48,769.5 552.83,769.5 552.83,770.85 555.53,770.85 555.53,772.2 556.88,772.2 556.88,773.55 559.58,773.55 559.58,774.9 566.33,774.9 566.33,776.25 586.58,776.25 586.58,777.6 593.33,777.6 593.33,776.25 600.08,776.25 600.08,774.9 604.12,774.9 604.12,773.55 608.18,773.55 608.18,772.2 609.53,772.2 609.53,773.55 617.62,773.55 617.62,774.9 621.68,774.9 621.68,776.25 624.38,776.25 624.38,777.6 641.93,777.6 641.93,778.95 644.62,778.95 644.62,780.3 647.33,780.3 647.33,781.65 655.42,781.65 655.42,780.3 658.12,780.3 658.12,778.95 660.82,778.95 660.82,777.6 663.53,777.6 663.53,776.25 664.88,776.25 664.88,774.9 675.68,774.9 675.68,776.25 682.42,776.25 682.42,774.9 695.92,774.9 695.92,776.25 702.68,776.25 702.68,777.6 708.08,777.6 708.08,778.95 712.12,778.95 712.12,780.3 713.48,780.3 713.48,781.65 716.18,781.65 716.18,783 718.88,783 718.88,784.35 720.22,784.35 720.22,785.7 722.92,785.7 722.92,787.05 728.32,787.05 728.32,788.4 733.72,788.4 733.72,787.05 736.42,787.05 736.42,785.7 737.78,785.7 737.78,784.35 740.48,784.35 740.48,783 741.82,783 741.82,781.65 743.18,781.65 743.18,780.3 745.88,780.3 745.88,778.95 749.92,778.95 749.92,777.6 753.98,777.6 753.98,776.25 758.03,776.25 758.03,774.9 760.72,774.9 760.72,773.55 763.42,773.55 763.42,772.2 766.12,772.2 766.12,770.85 768.82,770.85 768.82,769.5 770.18,769.5 770.18,768.15 772.88,768.15 772.88,766.8 774.22,766.8 774.22,765.45 786.38,765.45 786.38,766.8 791.78,766.8 791.78,765.45 809.32,765.45 809.32,766.8 826.88,766.8 826.88,765.45 840.38,765.45 840.38,764.1 855.22,764.1 855.22,765.45 860.62,765.45 860.62,766.8 864.68,766.8 864.68,768.15 870.08,768.15 870.08,769.5 874.13,769.5 874.13,770.85 874.8,770.85"/>
<polyline points="187.65,768.15 188.32,768.15 188.32,766.8 193.73,766.8 193.73,765.45 199.12,765.45 199.12,764.1 208.58,764.1 208.58,762.75 213.98,762.75 213.98,761.4 240.98,761.4 240.98,760.05 249.08,760.05 249.08,761.4 251.78,761.4 251.78,762.75 255.82,762.75 255.82,764.1 258.53,764.1 258.53,765.45 263.92,765.45 263.92,766.8 269.33,766.8 269.33,765.45 273.38,765.45 273.38,764.1 274.73,764.1 274.73,762.75 277.42,762.75 277.42,761.4 280.12,761.4 280.12,760.05 281.48,760.05 281.48,758.7 282.83,758.7 282.83,757.35 286.88,757.35 286.88,756 288.23,756 288.23,757.35 289.58,757.35 289.58,758.7 290.25,758.7"/>
<polyline points="298.35,764.1 304.42,764.1 304.42,762.75 308.48,762.75 308.48,761.4 311.18,761.4 311.18,760.05 312.53,760.05 312.53,758.7 313.88,758.7 313.88,757.35 315.23,757.35 315.23,756 316.58,756 316.58,754.65 319.28,754.65 319.28,753.3 321.98,753.3 321.98,751.95 324.68,751.95 324.68,753.3 326.7,753.3"/>
<polyline points="332.1,756 338.18,756 338.18,757.35 343.58,757.35 343.58,758.7 346.28,758.7 346.28,760.05 351.68,760.05 351.68,761.4 355.72,761.4 355.72,762.75 366.52,762.75 366.52,764.1 367.2,764.1"/>
<polyline points="378,765.45 381.38,765.45 381.38,764.1 385.42,764.1 385.42,762.75 388.12,762.75 388.12,761.4 392.18,761.4 392.18,760.05 394.88,760.05 394.88,758.7 404.33,758.7 404.33,757.35 409.72,757.35 409.72,756 411.08,756 411.08,754.65 413.78,754.65 413.78,753.3 417.83,753.3 417.83,754.65 420.52,754.65 420.52,756 421.2,756"/>
<polyline points="426.6,758.7 427.28,758.7 427.28,757.35 432.68,757.35 432.68,758.7 433.35,758.7"/>
<polyline points="440.1,762.75 442.13,762.75 442.13,764.1 443.48,764.1 443.48,762.75 450.22,762.75 450.22,761.4 467.1,761.4"/>
<polyline points="475.2,764.1 479.92,764.1 479.92,765.45 486.68,765.45 486.68,764.1 492.08,764.1 492.08,762.75 496.13,762.75 496.13,761.4 500.18,761.4 500.18,760.05 502.88,760.05 502.88,758.7 505.58,758.7 505.58,757.35 508.28,757.35 508.28,756 510.98,756 510.98,754.65 515.02,754.65 515.02,753.3 521.78,753.3 521.78,754.65 523.12,754.65 523.12,756 524.48,756 524.48,757.35 527.18,757.35 527.18,758.7 528.53,758.7 528.53,760.05 529.88,760.05 529.88,761.4 531.22,761.4 531.22,762.75 533.93,762.75 533.93,764.1 546.08,764.1 546.08,765.45 546.75,765.45"/>
<polyline points="549.45,766.8 551.48,766.8 551.48,768.15 554.18,768.15 554.18,769.5 556.88,769.5 556.88,770.85 560.93,770.85 560.93,772.2 567.68,772.2 567.68,773.55 581.18,773.55 581.18,774.9 596.03,774.9 596.03,773.55 600.08,773.55 600.08,772.2 605.48,772.2 605.48,770.85 612.22,770.85 612.22,772.2 618.98,772.2 618.98,773.55 624.38,773.55 624.38,774.9 625.72,774.9 625.72,773.55 629.78,773.55 629.78,772.2 633.83,772.2 633.83,770.85 637.88,770.85 637.88,772.2 640.58,772.2 640.58,773.55 643.28,773.55 643.28,774.9 652.72,774.9 652.72,773.55 656.78,773.55 656.78,772.2 659.48,772.2 659.48,770.85 662.18,770.85 662.18,769.5 690.53,769.5 690.53,770.85 709.42,770.85 709.42,772.2 710.78,772.2 710.78,773.55 713.48,773.55 713.48,774.9 714.82,774.9 714.82,776.25 716.18,776.25 716.18,777.6 718.88,777.6 718.88,778.95 722.92,778.95 722.92,780.3 731.03,780.3 731.03,778.95 733.72,778.95 733.72,777.6 735.08,777.6 735.08,776.25 736.42,776.25 736.42,774.9 739.12,774.9 739.12,773.55 740.48,773.55 740.48,772.2 744.53,772.2 744.53,770.85 755.32,770.85 755.32,769.5 759.38,769.5 759.38,768.15 762.08,768.15 762.08,766.8 764.78,766.8 764.78,765.45 767.48,765.45 767.48,764.1 768.82,764.1 768.82,762.75 770.18,762.75 770.18,761.4 772.88,761.4 772.88,760.05 776.92,760.05 776.92,758.7 780.98,758.7 780.98,760.05 797.18,760.05 797.18,761.4 806.62,761.4 806.62,762.75 814.72,762.75 814.72,761.4 829.58,761.4 829.58,760.05 849.82,760.05 849.82,761.4 853.88,761.4 853.88,762.75 857.92,762.75 857.92,764.1 861.98,764.1 861.98,765.45 867.38,765.45 867.38,766.8 871.42,766.8 871.42,768.15 872.1,768.15"/>
<polyline points="184.95,764.1 185.62,764.1 185.62,762.75 189.68,762.75 189.68,761.4 195.08,761.4 195.08,760.05 203.18,760.05 203.18,758.7 208.58,758.7 208.58,757.35 215.32,757.35 215.32,756 216.68,756 216.68,757.35 231.52,757.35 231.52,756 246.38,756 246.38,757.35 247.73,757.35 247.73,758.7 250.42,758.7 250.42,760.05 253.13,760.05 253.13,761.4 253.8,761.4"/>
<polyline points="256.5,762.75 258.53,762.75 258.53,764.1 266.62,764.1 266.62,762.75 270.68,762.75 270.68,761.4 272.03,761.4 272.03,760.05 274.73,760.05 274.73,758.7 276.08,758.7 276.08,757.35 277.42,757.35 277.42,756 278.78,756 278.78,754.65 282.83,754.65 282.83,753.3 285.53,753.3 285.53,754.65 286.2,754.65"/>
<polyline points="292.95,760.05 296.33,760.05 296.33,761.4 301.73,761.4 301.73,760.05 305.78,760.05 305.78,758.7 307.12,758.7 307.12,757.35 309.83,757.35 309.83,756 311.18,756 311.18,753.3 312.53,753.3 312.53,751.95 315.23,751.95 315.23,750.6 321.3,750.6"/>
<polyline points="328.05,753.3 330.08,753.3 330.08,754.65 339.52,754.65 339.52,756 341.55,756"/>
<polyline points="344.25,757.35 346.28,757.35 346.28,758.7 349.65,758.7"/>
<polyline points="356.4,761.4 361.8,761.4"/>
<polyline points="371.25,764.1 377.33,764.1 377.33,762.75 382.72,762.75 382.72,761.4 385.42,761.4 385.42,760.05 386.78,760.05 386.78,758.7 389.48,758.7 389.48,757.35 392.18,757.35 392.18,756 397.58,756 397.58,754.65 404.33,754.65 404.33,753.3 407.02,753.3 407.02,751.95 409.72,751.95 409.72,750.6 415.12,750.6 415.12,751.95 417.83,751.95 417.83,753.3 418.5,753.3"/>
<polyline points="421.2,754.65 429.98,754.65 429.98,756 432.68,756 432.68,757.35 435.38,757.35 435.38,758.7 456.98,758.7 456.98,760.05 463.05,760.05"/>
<polyline points="468.45,761.4 486.68,761.4 486.68,760.05 490.72,760.05 490.72,758.7 494.78,758.7 494.78,757.35 497.48,757.35 497.48,756 500.18,756 500.18,754.65 504.22,754.65 504.22,753.3 505.58,753.3 505.58,751.95 508.28,751.95 508.28,750.6 510.98,750.6 510.98,749.25 519.08,749.25 519.08,750.6 520.43,750.6 520.43,751.95 521.78,751.95 521.78,753.3 523.12,753.3 523.12,754.65 524.48,754.65 524.48,756 525.15,756"/>
<polyline points="530.55,760.05 531.22,760.05 531.22,761.4 539.33,761.4 539.33,762.75 544.05,762.75"/>
<polyline points="546.75,764.1 551.48,764.1 551.48,765.45 554.18,765.45 554.18,766.8 558.22,766.8 558.22,768.15 563.62,768.15 563.62,769.5 574.43,769.5 574.43,770.85 579.83,770.85 579.83,772.2 587.93,772.2 587.93,773.55 590.62,773.55 590.62,772.2 597.38,772.2 597.38,770.85 605.48,770.85 605.48,769.5 607.5,769.5"/>
<polyline points="612.9,770.85 624.38,770.85 624.38,769.5 625.72,769.5 625.72,768.15 628.43,768.15 628.43,766.8 631.12,766.8 631.12,765.45 635.18,765.45 635.18,766.8 639.22,766.8 639.22,768.15 643.28,768.15 643.28,769.5 647.33,769.5 647.33,768.15 652.72,768.15 652.72,766.8 655.42,766.8 655.42,765.45 659.48,765.45 659.48,764.1 686.48,764.1 686.48,765.45 694.58,765.45 694.58,764.1 698.62,764.1 698.62,762.75 705.38,762.75 705.38,764.1 708.08,764.1 708.08,765.45 709.42,765.45 709.42,766.8 710.78,766.8 710.78,768.15 712.12,768.15 712.12,769.5 714.82,769.5 714.82,770.85 718.88,770.85 718.88,772.2 726.98,772.2 726.98,770.85 729.68,770.85 729.68,769.5 731.03,769.5 731.03,768.15 732.38,768.15 732.38,766.8 733.72,766.8 733.72,765.45 736.42,765.45 736.42,764.1 737.78,764.1 737.78,762.75 744.53,762.75 744.53,764.1 747.22,764.1 747.22,765.45 755.32,765.45 755.32,764.1 759.38,764.1 759.38,762.75 762.08,762.75 762.08,761.4 763.42,761.4 763.42,760.05 764.78,760.05 764.78,758.7 766.12,758.7 766.12,757.35 767.48,757.35 767.48,756 768.82,756 768.82,754.65 770.18,754.65 770.18,753.3 772.88,753.3 772.88,751.95 774.22,751.95 774.22,750.6 778.28,750.6 778.28,751.95 787.72,751.95 787.72,753.3 791.78,753.3 791.78,754.65 795.82,754.65 795.82,756 799.88,756 799.88,757.35 817.42,757.35 817.42,756 833.62,756 833.62,754.65 841.72,754.65 841.72,756 845.78,756 845.78,757.35 848.48,757.35 848.48,758.7 851.18,758.7 851.18,760.05 855.22,760.05 855.22,761.4 859.28,761.4 859.28,762.75 863.32,762.75 863.32,764.1 868.05,764.1"/>
<polyline points="180.9,760.05 184.28,760.05 184.28,758.7 188.32,758.7 188.32,757.35 193.73,757.35 193.73,756 201.82,756 201.82,754.65 205.88,754.65 205.88,753.3 209.92,753.3 209.92,751.95 213.98,751.95 213.98,753.3 218.02,753.3 218.02,754.65 223.42,754.65 223.42,753.3 227.48,753.3 227.48,751.95 235.58,751.95 235.58,753.3 238.28,753.3 238.28,751.95 240.98,751.95 240.98,753.3 243.68,753.3 243.68,754.65 244.35,754.65"/>
<polyline points="247.05,756 247.73,756 247.73,757.35 248.4,757.35"/>
<polyline points="253.8,760.05 255.82,760.05 255.82,761.4 262.58,761.4 262.58,760.05 266.62,760.05 266.62,758.7 269.33,758.7 269.33,757.35 270.68,757.35 270.68,756 272.03,756 272.03,754.65 273.38,754.65 273.38,753.3 274.73,753.3 274.73,751.95 277.42,751.95 277.42,750.6 280.12,750.6 280.12,749.25 281.48,749.25 281.48,750.6 284.18,750.6 284.18,751.95 285.53,751.95 285.53,753.3 286.88,753.3 286.88,754.65 288.23,754.65 288.23,756 292.28,756 292.28,757.35 300.38,757.35 300.38,756 303.08,756 303.08,754.65 304.42,754.65 304.42,753.3 305.78,753.3 305.78,751.95 307.12,751.95 307.12,749.25 308.48,749.25 308.48,747.9 309.83,747.9 309.83,746.55 311.18,746.55 311.18,745.2 313.88,745.2 313.88,746.55 316.58,746.55 316.58,747.9 317.92,747.9 317.92,749.25 318.6,749.25"/>
<polyline points="330.75,753.3 333.45,753.3"/>
<polyline points="353.7,760.05 357.08,760.05 357.08,758.7 367.88,758.7 367.88,760.05 374.62,760.05 374.62,758.7 380.02,758.7 380.02,757.35 382.72,757.35 382.72,756 385.42,756 385.42,754.65 388.12,754.65 388.12,753.3 390.83,753.3 390.83,751.95 394.88,751.95 394.88,750.6 401.62,750.6 401.62,749.25 405.68,749.25 405.68,747.9 412.42,747.9 412.42,749.25 415.12,749.25 415.12,750.6 425.92,750.6 425.92,751.95 429.98,751.95 429.98,753.3 436.72,753.3 436.72,754.65 446.18,754.65 446.18,756 450.22,756 450.22,757.35 453.6,757.35"/>
<polyline points="457.65,758.7 460.35,758.7"/>
<polyline points="464.4,760.05 479.92,760.05 479.92,758.7 485.33,758.7 485.33,757.35 489.38,757.35 489.38,756 492.08,756 492.08,754.65 494.78,754.65 494.78,753.3 498.83,753.3 498.83,751.95 501.52,751.95 501.52,750.6 504.22,750.6 504.22,749.25 506.92,749.25 506.92,747.9 515.7,747.9"/>
<polyline points="529.2,758.7 533.93,758.7 533.93,760.05 548.78,760.05 548.78,761.4 552.83,761.4 552.83,762.75 558.22,762.75 558.22,764.1 563.62,764.1 563.62,765.45 570.38,765.45 570.38,766.8 574.43,766.8 574.43,768.15 578.48,768.15 578.48,769.5 585.22,769.5 585.22,770.85 589.28,770.85 589.28,769.5 594.68,769.5 594.68,768.15 618.98,768.15 618.98,766.8 621.68,766.8 621.68,765.45 623.03,765.45 623.03,764.1 625.72,764.1 625.72,762.75 627.08,762.75 627.08,761.4 628.43,761.4 628.43,760.05 631.12,760.05 631.12,761.4 636.53,761.4 636.53,762.75 648.68,762.75 648.68,761.4 652.72,761.4 652.72,760.05 656.78,760.05 656.78,758.7 667.58,758.7 667.58,757.35 668.92,757.35 668.92,758.7 679.72,758.7 679.72,760.05 690.53,760.05 690.53,758.7 693.22,758.7 693.22,757.35 695.92,757.35 695.92,756 702.68,756 702.68,757.35 704.03,757.35 704.03,758.7 705.38,758.7 705.38,760.05 708.08,760.05 708.08,761.4 709.42,761.4 709.42,762.75 710.78,762.75 710.78,764.1 722.92,764.1 722.92,762.75 725.62,762.75 725.62,761.4 726.98,761.4 726.98,760.05 729.68,760.05 729.68,758.7 731.03,758.7 731.03,757.35 732.38,757.35 732.38,756 733.72,756 733.72,754.65 740.48,754.65 740.48,756 741.82,756 741.82,757.35 743.18,757.35 743.18,758.7 745.88,758.7 745.88,760.05 753.98,760.05 753.98,758.7 758.03,758.7 758.03,757.35 759.38,757.35 759.38,756 760.72,756 760.72,754.65 762.08,754.65 762.08,751.95 763.42,751.95 763.42,750.6 764.78,750.6 764.78,749.25 766.12,749.25 766.12,747.9 767.48,747.9 767.48,746.55 768.82,746.55 768.82,745.2 770.18,745.2 770.18,743.85 779.62,743.85 779.62,745.2 783.68,745.2 783.68,746.55 786.38,746.55 786.38,747.9 789.08,747.9 789.08,749.25 793.12,749.25 793.12,750.6 795.82,750.6 795.82,751.95 799.88,751.95 799.88,753.3 817.42,753.3 817.42,751.95 832.28,751.95 832.28,750.6 839.03,750.6 839.03,751.95 843.08,751.95 843.08,753.3 844.42,753.3 844.42,754.65 847.12,754.65 847.12,756 849.82,756 849.82,757.35 852.53,757.35 852.53,758.7 855.22,758.7 855.22,760.05 860.62,760.05 860.62,761.4 865.35,761.4"/>
<polyline points="178.2,756 182.92,756 182.92,754.65 188.32,754.65 188.32,753.3 195.08,753.3 195.08,751.95 199.12,751.95 199.12,750.6 203.18,750.6 203.18,749.25 208.58,749.25 208.58,747.9 209.92,747.9 209.92,749.25 211.28,749.25 211.28,750.6 213.98,750.6 213.98,751.95 222.08,751.95 222.08,750.6 237.6,750.6"/>
<polyline points="248.4,756 249.08,756 249.08,757.35 259.88,757.35 259.88,756 263.92,756 263.92,754.65 265.28,754.65 265.28,753.3 266.62,753.3 266.62,751.95 269.33,751.95 269.33,749.25 270.68,749.25 270.68,747.9 272.03,747.9 272.03,746.55 276.08,746.55 276.08,745.2 278.78,745.2 278.78,746.55 281.48,746.55 281.48,747.9 282.83,747.9 282.83,749.25 284.18,749.25 284.18,750.6 286.88,750.6 286.88,751.95 290.92,751.95 290.92,753.3 297.68,753.3 297.68,751.95 299.03,751.95 299.03,750.6 300.38,750.6 300.38,749.25 301.73,749.25 301.73,747.9 303.08,747.9 303.08,745.2 304.42,745.2 304.42,743.85 305.78,743.85 305.78,742.5 307.12,742.5 307.12,741.15 308.48,741.15 308.48,739.8 309.83,739.8 309.83,741.15 311.18,741.15 311.18,742.5 311.85,742.5"/>
<polyline points="346.95,757.35 347.62,757.35 347.62,756 353.02,756 353.02,754.65 355.72,754.65 355.72,753.3 358.42,753.3 358.42,751.95 366.52,751.95 366.52,753.3 378.68,753.3 378.68,751.95 381.38,751.95 381.38,750.6 384.08,750.6 384.08,749.25 386.78,749.25 386.78,747.9 390.83,747.9 390.83,746.55 400.28,746.55 400.28,745.2 408.38,745.2 408.38,746.55 412.42,746.55 412.42,747.9 429.98,747.9 429.98,749.25 434.02,749.25 434.02,750.6 438.08,750.6 438.08,751.95 442.13,751.95 442.13,753.3 444.15,753.3"/>
<polyline points="446.85,754.65 448.2,754.65"/>
<polyline points="450.9,756 452.25,756"/>
<polyline points="454.95,757.35 456.3,757.35"/>
<polyline points="461.7,758.7 478.58,758.7 478.58,757.35 483.98,757.35 483.98,756 486.68,756 486.68,754.65 489.38,754.65 489.38,753.3 492.08,753.3 492.08,751.95 494.78,751.95 494.78,750.6 498.83,750.6 498.83,749.25 504.22,749.25 504.22,747.9 506.25,747.9"/>
<polyline points="525.15,754.65 525.83,754.65 525.83,756 532.58,756 532.58,757.35 540.68,757.35 540.68,756 548.78,756 548.78,757.35 555.53,757.35 555.53,758.7 559.58,758.7 559.58,760.05 563.62,760.05 563.62,761.4 569.03,761.4 569.03,762.75 571.72,762.75 571.72,764.1 574.43,764.1 574.43,765.45 578.48,765.45 578.48,766.8 585.22,766.8 585.22,765.45 589.28,765.45 589.28,764.1 594.68,764.1 594.68,762.75 616.28,762.75 616.28,761.4 618.98,761.4 618.98,760.05 620.33,760.05 620.33,758.7 623.03,758.7 623.03,757.35 624.38,757.35 624.38,756 629.78,756 629.78,757.35 636.53,757.35 636.53,758.7 639.22,758.7 639.22,757.35 645.98,757.35 645.98,756 650.03,756 650.03,754.65 656.78,754.65 656.78,753.3 668.92,753.3 668.92,754.65 681.08,754.65 681.08,756 683.78,756 683.78,754.65 687.82,754.65 687.82,753.3 690.53,753.3 690.53,751.95 693.22,751.95 693.22,750.6 698.62,750.6 698.62,751.95 699.98,751.95 699.98,753.3 702.68,753.3 702.68,754.65 704.03,754.65 704.03,756 705.38,756 705.38,757.35 708.08,757.35 708.08,758.7 710.78,758.7 710.78,757.35 717.53,757.35 717.53,756 720.22,756 720.22,754.65 722.92,754.65 722.92,753.3 725.62,753.3 725.62,751.95 726.98,751.95 726.98,750.6 728.32,750.6 728.32,749.25 732.38,749.25 732.38,747.9 735.08,747.9 735.08,749.25 736.42,749.25 736.42,750.6 739.12,750.6 739.12,751.95 740.48,751.95 740.48,753.3 743.18,753.3 743.18,754.65 752.62,754.65 752.62,753.3 753.98,753.3 753.98,751.95 755.32,751.95 755.32,750.6 756.68,750.6 756.68,749.25 758.03,749.25 758.03,747.9 759.38,747.9 759.38,746.55 760.72,746.55 760.72,745.2 762.08,745.2 762.08,742.5 763.42,742.5 763.42,741.15 764.78,741.15 764.78,739.8 766.12,739.8 766.12,738.45 772.88,738.45 772.88,739.8 776.92,739.8 776.92,741.15 779.62,741.15 779.62,742.5 780.98,742.5 780.98,743.85 785.03,743.85 785.03,745.2 789.08,745.2 789.08,746.55 791.78,746.55 791.78,747.9 794.48,747.9 794.48,749.25 799.88,749.25 799.88,750.6 821.48,750.6 821.48,749.25 828.22,749.25 828.22,747.9 839.03,747.9 839.03,749.25 840.38,749.25 840.38,750.6 841.05,750.6"/>
<polyline points="843.75,751.95 844.42,751.95 844.42,753.3 845.1,753.3"/>
<polyline points="853.2,757.35 856.58,757.35 856.58,758.7 861.3,758.7"/>
<polyline points="174.15,753.3 177.52,753.3 177.52,751.95 184.28,751.95 184.28,750.6 189.68,750.6 189.68,749.25 195.08,749.25 195.08,747.9 196.42,747.9 196.42,746.55 200.48,746.55 200.48,745.2 205.88,745.2 205.88,746.55 207.9,746.55"/>
<polyline points="210.6,747.9 211.28,747.9 211.28,749.25 215.32,749.25 215.32,750.6 216.68,750.6 216.68,749.25 233.55,749.25"/>
<polyline points="244.35,753.3 247.73,753.3 247.73,754.65 250.42,754.65 250.42,753.3 255.82,753.3 255.82,751.95 259.88,751.95 259.88,750.6 262.58,750.6 262.58,749.25 263.92,749.25 263.92,747.9 265.28,747.9 265.28,746.55 266.62,746.55 266.62,743.85 267.98,743.85 267.98,742.5 272.03,742.5 272.03,741.15 277.42,741.15 277.42,742.5 280.12,742.5 280.12,743.85 281.48,743.85 281.48,745.2 284.18,745.2 284.18,746.55 286.88,746.55 286.88,747.9 289.58,747.9 289.58,749.25 293.62,749.25 293.62,747.9 294.98,747.9 294.98,746.55 296.33,746.55 296.33,745.2 297.68,745.2 297.68,743.85 299.03,743.85 299.03,742.5 300.38,742.5 300.38,739.8 301.73,739.8 301.73,738.45 305.78,738.45 305.78,739.8 306.45,739.8"/>
<polyline points="334.8,753.3 337.5,753.3"/>
<polyline points="340.2,754.65 342.22,754.65 342.22,753.3 346.28,753.3 346.28,751.95 347.62,751.95 347.62,750.6 348.98,750.6 348.98,749.25 351.68,749.25 351.68,747.9 353.02,747.9 353.02,746.55 354.38,746.55 354.38,745.2 355.72,745.2 355.72,743.85 362.48,743.85 362.48,745.2 365.18,745.2 365.18,746.55 369.22,746.55 369.22,747.9 375.98,747.9 375.98,746.55 378.68,746.55 378.68,745.2 381.38,745.2 381.38,743.85 385.42,743.85 385.42,742.5 389.48,742.5 389.48,741.15 392.18,741.15 392.18,742.5 400.28,742.5 400.28,743.85 408.38,743.85 408.38,745.2 411.08,745.2 411.08,743.85 427.28,743.85 427.28,745.2 429.98,745.2 429.98,746.55 432.68,746.55 432.68,747.9 435.38,747.9 435.38,749.25 438.08,749.25 438.08,750.6 440.1,750.6"/>
<polyline points="473.85,757.35 477.9,757.35"/>
<polyline points="480.6,756 482.63,756 482.63,754.65 485.33,754.65 485.33,753.3 486.68,753.3 486.68,751.95 489.38,751.95 489.38,750.6 492.08,750.6 492.08,749.25 498.15,749.25"/>
<polyline points="522.45,751.95 524.48,751.95 524.48,753.3 531.22,753.3 531.22,754.65 533.93,754.65 533.93,753.3 537.98,753.3 537.98,751.95 539.33,751.95 539.33,750.6 546.08,750.6 546.08,751.95 551.48,751.95 551.48,753.3 554.18,753.3 554.18,754.65 558.22,754.65 558.22,756 563.62,756 563.62,757.35 566.33,757.35 566.33,758.7 569.03,758.7 569.03,760.05 573.08,760.05 573.08,761.4 581.18,761.4 581.18,760.05 583.88,760.05 583.88,758.7 587.93,758.7 587.93,757.35 590.62,757.35 590.62,756 594.68,756 594.68,754.65 598.72,754.65 598.72,756 613.58,756 613.58,754.65 616.28,754.65 616.28,753.3 620.33,753.3 620.33,751.95 631.12,751.95 631.12,753.3 641.93,753.3 641.93,751.95 645.98,751.95 645.98,750.6 650.03,750.6 650.03,749.25 663.53,749.25 663.53,750.6 682.42,750.6 682.42,749.25 686.48,749.25 686.48,747.9 689.18,747.9 689.18,746.55 694.58,746.55 694.58,747.9 697.28,747.9 697.28,749.25 698.62,749.25 698.62,750.6 701.32,750.6 701.32,751.95 704.03,751.95 704.03,753.3 706.72,753.3 706.72,751.95 710.78,751.95 710.78,750.6 714.82,750.6 714.82,749.25 717.53,749.25 717.53,747.9 720.22,747.9 720.22,746.55 722.92,746.55 722.92,745.2 726.98,745.2 726.98,743.85 732.38,743.85 732.38,745.2 733.72,745.2 733.72,746.55 736.42,746.55 736.42,747.9 740.48,747.9 740.48,749.25 747.22,749.25 747.22,747.9 751.28,747.9 751.28,746.55 752.62,746.55 752.62,745.2 753.98,745.2 753.98,742.5 755.32,742.5 755.32,741.15 756.68,741.15 756.68,739.8 758.03,739.8 758.03,738.45 759.38,738.45 759.38,737.1 760.72,737.1 760.72,735.75 762.08,735.75 762.08,734.4 766.12,734.4 766.12,735.75 768.82,735.75 768.82,737.1 770.85,737.1"/>
<polyline points="780.3,741.15 782.32,741.15 782.32,742.5 786.38,742.5 786.38,743.85 789.08,743.85 789.08,745.2 793.12,745.2 793.12,746.55 803.92,746.55 803.92,747.9 820.12,747.9 820.12,746.55 834.3,746.55"/>
<polyline points="849.15,754.65 853.88,754.65 853.88,756 857.25,756"/>
<polyline points="170.1,749.25 178.88,749.25 178.88,747.9 185.62,747.9 185.62,746.55 189.68,746.55 189.68,745.2 192.38,745.2 192.38,743.85 195.08,743.85 195.08,742.5 203.18,742.5 203.18,743.85 205.88,743.85 205.88,745.2 208.58,745.2 208.58,746.55 216.68,746.55 216.68,745.2 218.02,745.2 218.02,746.55 227.48,746.55 227.48,747.9 234.23,747.9 234.23,749.25 240.98,749.25 240.98,750.6 247.73,750.6 247.73,749.25 253.13,749.25 253.13,747.9 257.18,747.9 257.18,746.55 258.53,746.55 258.53,745.2 259.88,745.2 259.88,743.85 262.58,743.85 262.58,741.15 263.92,741.15 263.92,739.8 266.62,739.8 266.62,738.45 269.33,738.45 269.33,737.1 276.08,737.1 276.08,738.45 277.42,738.45 277.42,739.8 281.48,739.8 281.48,741.15 284.18,741.15 284.18,742.5 285.53,742.5 285.53,743.85 290.92,743.85 290.92,742.5 293.62,742.5 293.62,741.15 294.98,741.15 294.98,739.8 296.33,739.8 296.33,738.45 297.68,738.45 297.68,737.1 300.38,737.1 300.38,738.45 301.05,738.45"/>
<polyline points="326.7,751.95 338.18,751.95 338.18,750.6 340.88,750.6 340.88,749.25 342.22,749.25 342.22,747.9 343.58,747.9 343.58,746.55 344.92,746.55 344.92,745.2 346.28,745.2 346.28,743.85 347.62,743.85 347.62,742.5 348.98,742.5 348.98,739.8 350.33,739.8 350.33,738.45 351.68,738.45 351.68,737.1 354.38,737.1 354.38,735.75 357.08,735.75 357.08,737.1 358.42,737.1 358.42,738.45 361.12,738.45 361.12,739.8 363.83,739.8 363.83,741.15 366.52,741.15 366.52,742.5 373.28,742.5 373.28,741.15 375.98,741.15 375.98,739.8 378.68,739.8 378.68,738.45 382.72,738.45 382.72,737.1 385.42,737.1 385.42,735.75 388.12,735.75 388.12,737.1 392.18,737.1 392.18,738.45 393.52,738.45 393.52,739.8 396.22,739.8 396.22,741.15 402.98,741.15 402.98,742.5 409.72,742.5 409.72,741.15 421.88,741.15 421.88,739.8 423.22,739.8 423.22,741.15 424.58,741.15 424.58,742.5 427.28,742.5 427.28,743.85 429.98,743.85 429.98,745.2 432.68,745.2 432.68,746.55 433.35,746.55"/>
<polyline points="459,757.35 472.5,757.35"/>
<polyline points="475.2,756 477.22,756 477.22,754.65 479.92,754.65 479.92,753.3 482.63,753.3 482.63,751.95 483.98,751.95 483.98,750.6 486.68,750.6 486.68,749.25 489.38,749.25 489.38,747.9 490.72,747.9 490.72,749.25 491.4,749.25"/>
<polyline points="521.1,750.6 527.18,750.6 527.18,751.95 529.88,751.95 529.88,750.6 532.58,750.6 532.58,749.25 535.28,749.25 535.28,747.9 536.62,747.9 536.62,746.55 537.98,746.55 537.98,745.2 542.03,745.2 542.03,746.55 544.72,746.55 544.72,747.9 547.43,747.9 547.43,749.25 550.12,749.25 550.12,750.6 554.18,750.6 554.18,751.95 560.93,751.95 560.93,753.3 564.98,753.3 564.98,754.65 569.03,754.65 569.03,756 575.78,756 575.78,754.65 578.48,754.65 578.48,753.3 581.18,753.3 581.18,751.95 582.53,751.95 582.53,750.6 585.22,750.6 585.22,749.25 587.93,749.25 587.93,747.9 600.08,747.9 600.08,749.25 612.22,749.25 612.22,747.9 617.62,747.9 617.62,746.55 623.03,746.55 623.03,747.9 629.78,747.9 629.78,749.25 636.53,749.25 636.53,747.9 641.93,747.9 641.93,746.55 645.98,746.55 645.98,745.2 654.08,745.2 654.08,746.55 662.18,746.55 662.18,747.9 666.22,747.9 666.22,746.55 677.03,746.55 677.03,745.2 681.08,745.2 681.08,743.85 686.48,743.85 686.48,742.5 690.53,742.5 690.53,743.85 693.22,743.85 693.22,745.2 695.92,745.2 695.92,746.55 698.62,746.55 698.62,747.9 704.03,747.9 704.03,746.55 708.08,746.55 708.08,745.2 710.78,745.2 710.78,743.85 713.48,743.85 713.48,742.5 716.18,742.5 716.18,741.15 729.68,741.15 729.68,742.5 743.18,742.5 743.18,741.15 747.22,741.15 747.22,739.8 748.58,739.8 748.58,738.45 751.28,738.45 751.28,737.1 752.62,737.1 752.62,735.75 755.32,735.75 755.32,734.4 756.68,734.4 756.68,733.05 758.03,733.05 758.03,731.7 762.08,731.7 762.08,733.05 764.1,733.05"/>
<polyline points="772.2,737.1 776.92,737.1 776.92,738.45 780.98,738.45 780.98,739.8 785.03,739.8 785.03,741.15 787.72,741.15 787.72,742.5 794.48,742.5 794.48,743.85 802.58,743.85 802.58,745.2 810.68,745.2 810.68,743.85 817.42,743.85 817.42,742.5 818.78,742.5 818.78,743.85 825.53,743.85 825.53,745.2 828.9,745.2"/>
<polyline points="842.4,750.6 844.42,750.6 844.42,751.95 852.53,751.95 852.53,753.3 854.55,753.3"/>
<polyline points="167.4,746.55 170.78,746.55 170.78,745.2 180.23,745.2 180.23,743.85 184.28,743.85 184.28,742.5 186.98,742.5 186.98,741.15 189.68,741.15 189.68,739.8 193.73,739.8 193.73,738.45 199.12,738.45 199.12,739.8 201.82,739.8 201.82,741.15 219.38,741.15 219.38,742.5 223.42,742.5 223.42,743.85 227.48,743.85 227.48,745.2 235.58,745.2 235.58,746.55 245.02,746.55 245.02,745.2 251.78,745.2 251.78,743.85 255.82,743.85 255.82,742.5 257.18,742.5 257.18,741.15 258.53,741.15 258.53,739.8 259.88,739.8 259.88,738.45 261.23,738.45 261.23,737.1 263.92,737.1 263.92,735.75 266.62,735.75 266.62,734.4 274.73,734.4 274.73,735.75 278.78,735.75 278.78,737.1 281.48,737.1 281.48,738.45 284.18,738.45 284.18,739.8 288.23,739.8 288.23,738.45 290.92,738.45 290.92,737.1 292.28,737.1 292.28,735.75 296.33,735.75 296.33,737.1 297,737.1"/>
<polyline points="322.65,750.6 328.72,750.6 328.72,749.25 334.12,749.25 334.12,747.9 335.48,747.9 335.48,746.55 336.83,746.55 336.83,745.2 338.18,745.2 338.18,743.85 339.52,743.85 339.52,742.5 340.88,742.5 340.88,741.15 342.22,741.15 342.22,738.45 343.58,738.45 343.58,737.1 344.92,737.1 344.92,734.4 346.28,734.4 346.28,733.05 347.62,733.05 347.62,731.7 348.98,731.7 348.98,730.35 353.02,730.35 353.02,731.7 355.72,731.7 355.72,733.05 357.08,733.05 357.08,734.4 359.78,734.4 359.78,735.75 361.12,735.75 361.12,737.1 363.83,737.1 363.83,738.45 367.88,738.45 367.88,737.1 370.58,737.1 370.58,735.75 373.28,735.75 373.28,734.4 375.98,734.4 375.98,733.05 378.68,733.05 378.68,731.7 381.38,731.7 381.38,730.35 386.78,730.35 386.78,731.7 388.12,731.7 388.12,733.05 389.48,733.05 389.48,734.4 390.83,734.4 390.83,735.75 392.18,735.75 392.18,737.1 393.52,737.1 393.52,738.45 397.58,738.45 397.58,739.8 407.02,739.8 407.02,738.45 417.83,738.45 417.83,737.1 419.18,737.1 419.18,738.45 421.2,738.45"/>
<polyline points="423.9,739.8 424.58,739.8 424.58,741.15 425.25,741.15"/>
<polyline points="438.75,749.25 440.78,749.25 440.78,750.6 443.48,750.6 443.48,751.95 445.5,751.95"/>
<polyline points="450.9,754.65 455.63,754.65 455.63,756 470.48,756 470.48,754.65 474.52,754.65 474.52,753.3 477.22,753.3 477.22,751.95 478.58,751.95 478.58,750.6 481.28,750.6 481.28,749.25 483.98,749.25 483.98,747.9 485.33,747.9 485.33,746.55 486.68,746.55 486.68,747.9 488.7,747.9"/>
<polyline points="491.4,747.9 496.8,747.9"/>
<polyline points="519.75,747.9 524.48,747.9 524.48,749.25 525.83,749.25 525.83,747.9 528.53,747.9 528.53,746.55 531.22,746.55 531.22,745.2 532.58,745.2 532.58,742.5 533.93,742.5 533.93,741.15 539.33,741.15 539.33,742.5 542.03,742.5 542.03,743.85 543.38,743.85 543.38,745.2 546.08,745.2 546.08,746.55 548.78,746.55 548.78,747.9 552.83,747.9 552.83,749.25 573.08,749.25 573.08,747.9 574.43,747.9 574.43,746.55 577.12,746.55 577.12,745.2 579.83,745.2 579.83,743.85 581.18,743.85 581.18,742.5 585.22,742.5 585.22,741.15 591.98,741.15 591.98,742.5 600.08,742.5 600.08,743.85 610.88,743.85 610.88,742.5 621.68,742.5 621.68,743.85 625.72,743.85 625.72,745.2 633.83,745.2 633.83,743.85 637.88,743.85 637.88,742.5 641.93,742.5 641.93,741.15 647.33,741.15 647.33,742.5 654.08,742.5 654.08,743.85 666.22,743.85 666.22,742.5 671.62,742.5 671.62,741.15 675.68,741.15 675.68,739.8 683.78,739.8 683.78,738.45 685.12,738.45 685.12,739.8 689.18,739.8 689.18,741.15 693.22,741.15 693.22,742.5 702.68,742.5 702.68,741.15 706.72,741.15 706.72,739.8 709.42,739.8 709.42,738.45 712.12,738.45 712.12,737.1 729.68,737.1 729.68,735.75 735.08,735.75 735.08,734.4 743.18,734.4 743.18,733.05 745.88,733.05 745.88,731.7 749.92,731.7 749.92,730.35 753.98,730.35 753.98,729 758.03,729 758.03,730.35 760.05,730.35"/>
<polyline points="762.75,731.7 764.78,731.7 764.78,733.05 775.58,733.05 775.58,734.4 779.62,734.4 779.62,735.75 782.32,735.75 782.32,737.1 786.38,737.1 786.38,738.45 791.78,738.45 791.78,739.8 798.53,739.8 798.53,741.15 805.28,741.15 805.28,739.8 812.03,739.8 812.03,738.45 816.08,738.45 816.08,739.8 818.78,739.8 818.78,741.15 821.48,741.15 821.48,742.5 823.5,742.5"/>
<polyline points="839.7,747.9 841.72,747.9 841.72,749.25 849.82,749.25 849.82,750.6 850.5,750.6"/>
<polyline points="163.35,742.5 176.18,742.5 176.18,741.15 181.58,741.15 181.58,739.8 185.62,739.8 185.62,738.45 188.32,738.45 188.32,737.1 205.88,737.1 205.88,735.75 209.92,735.75 209.92,734.4 211.28,734.4 211.28,735.75 215.32,735.75 215.32,737.1 218.02,737.1 218.02,738.45 222.08,738.45 222.08,739.8 224.78,739.8 224.78,741.15 228.82,741.15 228.82,742.5 243.68,742.5 243.68,741.15 251.78,741.15 251.78,739.8 253.13,739.8 253.13,738.45 255.82,738.45 255.82,737.1 257.18,737.1 257.18,735.75 259.88,735.75 259.88,734.4 262.58,734.4 262.58,733.05 265.28,733.05 265.28,731.7 276.08,731.7 276.08,733.05 277.42,733.05 277.42,734.4 280.12,734.4 280.12,735.75 288.23,735.75 288.23,734.4 290.92,734.4 290.92,735.75 291.6,735.75"/>
<polyline points="318.6,747.9 327.38,747.9 327.38,746.55 331.42,746.55 331.42,745.2 332.78,745.2 332.78,742.5 334.12,742.5 334.12,741.15 335.48,741.15 335.48,738.45 336.83,738.45 336.83,737.1 338.18,737.1 338.18,734.4 339.52,734.4 339.52,733.05 340.88,733.05 340.88,730.35 342.22,730.35 342.22,729 343.58,729 343.58,726.3 344.92,726.3 344.92,724.95 348.98,724.95 348.98,726.3 350.33,726.3 350.33,727.65 353.02,727.65 353.02,729 354.38,729 354.38,730.35 355.72,730.35 355.72,731.7 358.42,731.7 358.42,733.05 365.18,733.05 365.18,731.7 367.88,731.7 367.88,730.35 369.22,730.35 369.22,729 371.92,729 371.92,727.65 374.62,727.65 374.62,726.3 377.33,726.3 377.33,724.95 378.68,724.95 378.68,723.6 382.72,723.6 382.72,724.95 384.08,724.95 384.08,726.3 385.42,726.3 385.42,729 386.78,729 386.78,730.35 388.12,730.35 388.12,731.7 388.8,731.7"/>
<polyline points="392.85,735.75 394.88,735.75 394.88,737.1 407.02,737.1 407.02,735.75 417.15,735.75"/>
<polyline points="425.25,739.8 425.92,739.8 425.92,741.15 426.6,741.15"/>
<polyline points="433.35,745.2 434.02,745.2 434.02,746.55 439.42,746.55 439.42,747.9 440.78,747.9 440.78,749.25 443.48,749.25 443.48,750.6 446.18,750.6 446.18,751.95 456.98,751.95 456.98,753.3 463.72,753.3 463.72,751.95 470.48,751.95 470.48,750.6 474.52,750.6 474.52,749.25 475.88,749.25 475.88,747.9 478.58,747.9 478.58,746.55 481.28,746.55 481.28,745.2 493.42,745.2 493.42,746.55 497.48,746.55 497.48,747.9 503.55,747.9"/>
<polyline points="514.35,746.55 516.38,746.55 516.38,745.2 525.83,745.2 525.83,743.85 527.18,743.85 527.18,742.5 528.53,742.5 528.53,741.15 529.88,741.15 529.88,739.8 531.22,739.8 531.22,738.45 532.58,738.45 532.58,737.1 533.93,737.1 533.93,738.45 536.62,738.45 536.62,739.8 539.33,739.8 539.33,741.15 542.03,741.15 542.03,742.5 544.72,742.5 544.72,743.85 548.78,743.85 548.78,745.2 560.93,745.2 560.93,743.85 567.68,743.85 567.68,742.5 570.38,742.5 570.38,741.15 573.08,741.15 573.08,739.8 574.43,739.8 574.43,738.45 577.12,738.45 577.12,737.1 589.28,737.1 589.28,738.45 596.03,738.45 596.03,739.8 621.68,739.8 621.68,741.15 632.48,741.15 632.48,739.8 636.53,739.8 636.53,738.45 645.98,738.45 645.98,739.8 652.72,739.8 652.72,741.15 658.12,741.15 658.12,739.8 662.18,739.8 662.18,738.45 667.58,738.45 667.58,737.1 671.62,737.1 671.62,735.75 685.12,735.75 685.12,737.1 690.53,737.1 690.53,738.45 697.28,738.45 697.28,737.1 701.32,737.1 701.32,735.75 705.38,735.75 705.38,734.4 708.08,734.4 708.08,733.05 717.53,733.05 717.53,731.7 724.28,731.7 724.28,730.35 728.32,730.35 728.32,729 731.03,729 731.03,727.65 740.48,727.65 740.48,726.3 755.32,726.3 755.32,727.65 758.03,727.65 758.03,729 775.58,729 775.58,730.35 776.92,730.35 776.92,731.7 779.62,731.7 779.62,733.05 785.03,733.05 785.03,734.4 793.12,734.4 793.12,735.75 797.18,735.75 797.18,737.1 798.53,737.1 798.53,735.75 806.62,735.75 806.62,734.4 809.32,734.4 809.32,733.05 812.03,733.05 812.03,734.4 813.38,734.4 813.38,735.75 816.08,735.75 816.08,737.1 817.42,737.1 817.42,738.45 820.12,738.45 820.12,739.8 821.48,739.8 821.48,741.15 824.18,741.15 824.18,742.5 829.58,742.5 829.58,743.85 833.62,743.85 833.62,745.2 840.38,745.2 840.38,746.55 845.78,746.55 845.78,747.9 846.45,747.9"/>
<polyline points="160.65,739.8 164.02,739.8 164.02,738.45 182.92,738.45 182.92,737.1 187.65,737.1"/>
<polyline points="191.7,735.75 197.78,735.75 197.78,734.4 203.18,734.4 203.18,733.05 205.88,733.05 205.88,731.7 209.92,731.7 209.92,733.05 212.62,733.05 212.62,734.4 216.68,734.4 216.68,735.75 219.38,735.75 219.38,737.1 222.08,737.1 222.08,738.45 242.32,738.45 242.32,737.1 249.08,737.1 249.08,735.75 251.78,735.75 251.78,734.4 254.48,734.4 254.48,733.05 257.18,733.05 257.18,731.7 259.88,731.7 259.88,730.35 262.58,730.35 262.58,729 273.38,729 273.38,730.35 276.08,730.35 276.08,731.7 278.78,731.7 278.78,733.05 286.88,733.05 286.88,734.4 287.55,734.4"/>
<polyline points="313.2,743.85 313.88,743.85 313.88,745.2 323.33,745.2 323.33,743.85 327.38,743.85 327.38,742.5 328.72,742.5 328.72,739.8 330.08,739.8 330.08,738.45 331.42,738.45 331.42,735.75 332.78,735.75 332.78,734.4 334.12,734.4 334.12,731.7 335.48,731.7 335.48,730.35 336.83,730.35 336.83,727.65 338.18,727.65 338.18,726.3 339.52,726.3 339.52,723.6 340.88,723.6 340.88,722.25 346.28,722.25 346.28,723.6 346.95,723.6"/>
<polyline points="349.65,724.95 350.33,724.95 350.33,726.3 351,726.3"/>
<polyline points="353.7,727.65 354.38,727.65 354.38,729 359.78,729 359.78,727.65 362.48,727.65 362.48,726.3 363.83,726.3 363.83,724.95 365.18,724.95 365.18,723.6 366.52,723.6 366.52,722.25 369.22,722.25 369.22,720.9 371.92,720.9 371.92,719.55 374.62,719.55 374.62,718.2 378.68,718.2 378.68,719.55 380.02,719.55 380.02,720.9 380.7,720.9"/>
<polyline points="390.15,733.05 392.18,733.05 392.18,734.4 413.1,734.4"/>
<polyline points="429.3,742.5 435.38,742.5 435.38,743.85 438.08,743.85 438.08,745.2 439.42,745.2 439.42,746.55 442.13,746.55 442.13,747.9 447.52,747.9 447.52,749.25 461.02,749.25 461.02,747.9 467.78,747.9 467.78,746.55 471.83,746.55 471.83,745.2 473.18,745.2 473.18,743.85 475.88,743.85 475.88,742.5 485.33,742.5 485.33,741.15 489.38,741.15 489.38,742.5 492.08,742.5 492.08,743.85 497.48,743.85 497.48,745.2 502.88,745.2 502.88,746.55 508.28,746.55 508.28,745.2 509.63,745.2 509.63,743.85 512.33,743.85 512.33,742.5 513.68,742.5 513.68,741.15 515.02,741.15 515.02,742.5 521.78,742.5 521.78,741.15 524.48,741.15 524.48,739.8 525.83,739.8 525.83,738.45 527.18,738.45 527.18,737.1 528.53,737.1 528.53,735.75 531.9,735.75"/>
<polyline points="534.6,737.1 540.68,737.1 540.68,738.45 543.38,738.45 543.38,739.8 546.08,739.8 546.08,741.15 552.83,741.15 552.83,739.8 563.62,739.8 563.62,738.45 566.33,738.45 566.33,737.1 567.68,737.1 567.68,735.75 570.38,735.75 570.38,734.4 573.08,734.4 573.08,733.05 575.78,733.05 575.78,731.7 577.12,731.7 577.12,733.05 582.53,733.05 582.53,734.4 586.58,734.4 586.58,735.75 598.72,735.75 598.72,737.1 600.08,737.1 600.08,735.75 616.28,735.75 616.28,737.1 621.68,737.1 621.68,738.45 625.72,738.45 625.72,737.1 631.12,737.1 631.12,735.75 635.18,735.75 635.18,734.4 640.58,734.4 640.58,735.75 648.68,735.75 648.68,737.1 652.72,737.1 652.72,735.75 658.12,735.75 658.12,734.4 662.18,734.4 662.18,733.05 668.92,733.05 668.92,731.7 670.28,731.7 670.28,733.05 681.08,733.05 681.08,734.4 693.22,734.4 693.22,733.05 697.28,733.05 697.28,731.7 699.98,731.7 699.98,730.35 704.03,730.35 704.03,729 713.48,729 713.48,727.65 718.88,727.65 718.88,726.3 722.92,726.3 722.92,724.95 724.28,724.95 724.28,723.6 726.98,723.6 726.98,722.25 749.92,722.25 749.92,723.6 752.62,723.6 752.62,724.95 755.32,724.95 755.32,726.3 759.38,726.3 759.38,727.65 760.72,727.65 760.72,726.3 764.78,726.3 764.78,724.95 771.53,724.95 771.53,726.3 774.22,726.3 774.22,727.65 775.58,727.65 775.58,729 782.32,729 782.32,730.35 793.12,730.35 793.12,731.7 795.82,731.7 795.82,730.35 805.28,730.35 805.28,729 807.98,729 807.98,730.35 810.68,730.35 810.68,731.7 812.03,731.7 812.03,733.05 814.72,733.05 814.72,734.4 817.42,734.4 817.42,735.75 818.78,735.75 818.78,737.1 821.48,737.1 821.48,738.45 825.53,738.45 825.53,739.8 829.58,739.8 829.58,741.15 834.98,741.15 834.98,742.5 841.72,742.5 841.72,743.85 843.08,743.85 843.08,745.2 843.75,745.2"/>
<polyline points="156.6,735.75 174.82,735.75 174.82,737.1 182.25,737.1"/>
<polyline points="187.65,735.75 190.35,735.75"/>
<polyline points="194.4,734.4 197.78,734.4 197.78,733.05 200.48,733.05 200.48,731.7 205.2,731.7"/>
<polyline points="213.3,733.05 214.65,733.05"/>
<polyline points="217.35,734.4 223.42,734.4 223.42,735.75 228.82,735.75 228.82,734.4 240.98,734.4 240.98,733.05 246.38,733.05 246.38,731.7 250.42,731.7 250.42,730.35 253.13,730.35 253.13,729 255.82,729 255.82,727.65 258.53,727.65 258.53,726.3 272.03,726.3 272.03,727.65 274.73,727.65 274.73,729 278.78,729 278.78,730.35 282.83,730.35 282.83,731.7 283.5,731.7"/>
<polyline points="301.05,737.1 305.78,737.1 305.78,738.45 307.8,738.45"/>
<polyline points="310.5,739.8 311.18,739.8 311.18,741.15 313.88,741.15 313.88,742.5 316.58,742.5 316.58,741.15 320.62,741.15 320.62,739.8 323.33,739.8 323.33,738.45 324.68,738.45 324.68,737.1 326.03,737.1 326.03,735.75 327.38,735.75 327.38,734.4 328.72,734.4 328.72,733.05 330.08,733.05 330.08,730.35 331.42,730.35 331.42,729 332.78,729 332.78,727.65 334.12,727.65 334.12,724.95 335.48,724.95 335.48,723.6 336.83,723.6 336.83,722.25 338.18,722.25 338.18,720.9 341.55,720.9"/>
<polyline points="348.3,723.6 350.33,723.6 350.33,724.95 355.72,724.95 355.72,723.6 358.42,723.6 358.42,722.25 359.78,722.25 359.78,720.9 361.12,720.9 361.12,718.2 362.48,718.2 362.48,716.85 363.83,716.85 363.83,715.5 365.18,715.5 365.18,714.15 370.58,714.15 370.58,712.8 373.28,712.8 373.28,714.15 374.62,714.15 374.62,715.5 375.98,715.5 375.98,716.85 376.65,716.85"/>
<polyline points="392.85,733.05 395.55,733.05"/>
<polyline points="426.6,739.8 432.68,739.8 432.68,741.15 433.35,741.15"/>
<polyline points="438.75,743.85 439.42,743.85 439.42,745.2 455.63,745.2 455.63,743.85 462.38,743.85 462.38,742.5 467.78,742.5 467.78,741.15 469.13,741.15 469.13,739.8 471.83,739.8 471.83,738.45 488.02,738.45 488.02,739.8 493.42,739.8 493.42,741.15 498.83,741.15 498.83,742.5 505.58,742.5 505.58,741.15 506.92,741.15 506.92,739.8 509.63,739.8 509.63,738.45 513.68,738.45 513.68,739.8 520.43,739.8 520.43,738.45 521.78,738.45 521.78,737.1 523.12,737.1 523.12,735.75 528.53,735.75 528.53,734.4 533.93,734.4 533.93,733.05 537.98,733.05 537.98,734.4 540.68,734.4 540.68,735.75 542.03,735.75 542.03,737.1 547.43,737.1 547.43,735.75 558.22,735.75 558.22,734.4 560.93,734.4 560.93,733.05 563.62,733.05 563.62,731.7 566.33,731.7 566.33,730.35 569.03,730.35 569.03,729 571.72,729 571.72,727.65 573.08,727.65 573.08,729 575.78,729 575.78,730.35 579.83,730.35 579.83,731.7 582.53,731.7 582.53,733.05 604.12,733.05 604.12,731.7 612.22,731.7 612.22,733.05 616.28,733.05 616.28,734.4 624.38,734.4 624.38,733.05 628.43,733.05 628.43,731.7 632.48,731.7 632.48,730.35 637.88,730.35 637.88,731.7 648.68,731.7 648.68,730.35 655.42,730.35 655.42,729 670.28,729 670.28,730.35 677.03,730.35 677.03,731.7 683.78,731.7 683.78,730.35 689.18,730.35 689.18,729 691.88,729 691.88,727.65 694.58,727.65 694.58,726.3 697.28,726.3 697.28,724.95 701.32,724.95 701.32,723.6 716.18,723.6 716.18,722.25 718.88,722.25 718.88,720.9 721.58,720.9 721.58,719.55 724.28,719.55 724.28,718.2 725.62,718.2 725.62,719.55 731.03,719.55 731.03,720.9 735.08,720.9 735.08,719.55 737.78,719.55 737.78,720.9 746.55,720.9"/>
<polyline points="756,724.95 759.38,724.95 759.38,723.6 763.42,723.6 763.42,722.25 766.12,722.25 766.12,723.6 769.5,723.6"/>
<polyline points="772.2,724.95 790.42,724.95 790.42,726.3 791.78,726.3 791.78,724.95 798.53,724.95 798.53,726.3 801.22,726.3 801.22,724.95 803.92,724.95 803.92,726.3 806.62,726.3 806.62,727.65 807.98,727.65 807.98,729 810.68,729 810.68,730.35 814.72,730.35 814.72,731.7 816.08,731.7 816.08,733.05 820.12,733.05 820.12,734.4 822.82,734.4 822.82,735.75 826.88,735.75 826.88,737.1 830.92,737.1 830.92,738.45 834.98,738.45 834.98,739.8 839.03,739.8 839.03,741.15 839.7,741.15"/>
<polyline points="152.55,733.05 169.42,733.05 169.42,734.4 172.8,734.4"/>
<polyline points="175.5,735.75 186.3,735.75"/>
<polyline points="190.35,734.4 192.38,734.4 192.38,733.05 196.42,733.05 196.42,731.7 199.8,731.7"/>
<polyline points="210.6,731.7 232.88,731.7 232.88,730.35 240.98,730.35 240.98,729 245.02,729 245.02,727.65 249.08,727.65 249.08,726.3 251.78,726.3 251.78,724.95 255.82,724.95 255.82,723.6 262.58,723.6 262.58,722.25 265.28,722.25 265.28,723.6 269.33,723.6 269.33,724.95 272.03,724.95 272.03,726.3 274.73,726.3 274.73,727.65 278.78,727.65 278.78,729 279.45,729"/>
<polyline points="291.6,734.4 293.62,734.4 293.62,733.05 296.33,733.05 296.33,731.7 303.08,731.7 303.08,733.05 304.42,733.05 304.42,734.4 305.78,734.4 305.78,735.75 308.48,735.75 308.48,737.1 311.18,737.1 311.18,738.45 312.53,738.45 312.53,737.1 316.58,737.1 316.58,735.75 319.28,735.75 319.28,734.4 321.98,734.4 321.98,733.05 323.33,733.05 323.33,731.7 324.68,731.7 324.68,730.35 326.03,730.35 326.03,729 327.38,729 327.38,727.65 328.72,727.65 328.72,726.3 330.08,726.3 330.08,724.95 331.42,724.95 331.42,723.6 332.78,723.6 332.78,722.25 334.12,722.25 334.12,720.9 336.83,720.9 336.83,719.55 338.85,719.55"/>
<polyline points="342.9,720.9 347.62,720.9 347.62,722.25 351.68,722.25 351.68,720.9 353.02,720.9 353.02,719.55 354.38,719.55 354.38,718.2 355.72,718.2 355.72,716.85 357.08,716.85 357.08,715.5 358.42,715.5 358.42,712.8 359.78,712.8 359.78,711.45 361.12,711.45 361.12,710.1 362.48,710.1 362.48,708.75 369.22,708.75 369.22,710.1 370.58,710.1 370.58,711.45 371.25,711.45"/>
<polyline points="423.9,738.45 427.28,738.45 427.28,737.1 428.62,737.1 428.62,738.45 429.3,738.45"/>
<polyline points="437.4,742.5 440.78,742.5 440.78,741.15 451.58,741.15 451.58,739.8 456.98,739.8 456.98,738.45 461.02,738.45 461.02,737.1 465.08,737.1 465.08,735.75 467.78,735.75 467.78,734.4 473.18,734.4 473.18,735.75 483.98,735.75 483.98,737.1 490.72,737.1 490.72,735.75 494.78,735.75 494.78,737.1 496.13,737.1 496.13,738.45 501.52,738.45 501.52,737.1 504.22,737.1 504.22,735.75 506.92,735.75 506.92,734.4 508.28,734.4 508.28,735.75 512.33,735.75 512.33,737.1 517.72,737.1 517.72,735.75 520.43,735.75 520.43,734.4 525.83,734.4 525.83,733.05 528.53,733.05 528.53,731.7 531.22,731.7 531.22,730.35 535.28,730.35 535.28,731.7 537.98,731.7 537.98,733.05 543.38,733.05 543.38,731.7 544.72,731.7 544.72,730.35 555.53,730.35 555.53,729 558.22,729 558.22,727.65 560.93,727.65 560.93,726.3 564.98,726.3 564.98,724.95 567.68,724.95 567.68,723.6 569.03,723.6 569.03,724.95 573.08,724.95 573.08,726.3 575.78,726.3 575.78,727.65 578.48,727.65 578.48,729 593.33,729 593.33,727.65 609.53,727.65 609.53,729 623.03,729 623.03,727.65 625.72,727.65 625.72,726.3 631.12,726.3 631.12,724.95 644.62,724.95 644.62,723.6 652.72,723.6 652.72,722.25 656.78,722.25 656.78,723.6 662.18,723.6 662.18,724.95 666.22,724.95 666.22,726.3 670.28,726.3 670.28,727.65 679.72,727.65 679.72,726.3 683.78,726.3 683.78,724.95 686.48,724.95 686.48,723.6 689.18,723.6 689.18,722.25 690.53,722.25 690.53,720.9 693.22,720.9 693.22,719.55 694.58,719.55 694.58,718.2 698.62,718.2 698.62,716.85 702.68,716.85 702.68,718.2 706.72,718.2 706.72,719.55 716.18,719.55 716.18,718.2 718.88,718.2 718.88,716.85 722.92,716.85 722.92,718.2 723.6,718.2"/>
<polyline points="731.7,719.55 734.4,719.55"/>
<polyline points="738.45,719.55 742.5,719.55"/>
<polyline points="753.3,723.6 755.32,723.6 755.32,722.25 758.03,722.25 758.03,720.9 767.48,720.9 767.48,722.25 770.18,722.25 770.18,720.9 779.62,720.9 779.62,719.55 793.12,719.55 793.12,720.9 799.88,720.9 799.88,722.25 802.58,722.25 802.58,723.6 805.28,723.6 805.28,724.95 807.98,724.95 807.98,726.3 812.03,726.3 812.03,727.65 814.72,727.65 814.72,729 817.42,729 817.42,730.35 820.12,730.35 820.12,731.7 822.82,731.7 822.82,733.05 826.88,733.05 826.88,734.4 830.92,734.4 830.92,735.75 834.98,735.75 834.98,737.1 836.32,737.1 836.32,738.45 837,738.45"/>
<polyline points="149.85,729 162.68,729 162.68,730.35 166.73,730.35 166.73,731.7 170.78,731.7 170.78,733.05 173.48,733.05 173.48,734.4 184.28,734.4 184.28,733.05 188.32,733.05 188.32,731.7 192.38,731.7 192.38,730.35 199.12,730.35 199.12,729 228.82,729 228.82,727.65 235.58,727.65 235.58,726.3 240.98,726.3 240.98,724.95 245.02,724.95 245.02,723.6 249.08,723.6 249.08,722.25 251.78,722.25 251.78,720.9 258.53,720.9 258.53,719.55 261.23,719.55 261.23,720.9 265.28,720.9 265.28,722.25 267.3,722.25"/>
<polyline points="272.7,724.95 274.73,724.95 274.73,726.3 276.75,726.3"/>
<polyline points="283.5,730.35 289.58,730.35 289.58,729 292.28,729 292.28,727.65 293.62,727.65 293.62,726.3 297.68,726.3 297.68,727.65 300.38,727.65 300.38,729 301.73,729 301.73,730.35 303.08,730.35 303.08,731.7 305.78,731.7 305.78,733.05 311.18,733.05 311.18,731.7 313.88,731.7 313.88,730.35 317.92,730.35 317.92,729 319.28,729 319.28,727.65 321.98,727.65 321.98,726.3 323.33,726.3 323.33,724.95 324.68,724.95 324.68,723.6 327.38,723.6 327.38,722.25 328.72,722.25 328.72,720.9 330.08,720.9 330.08,719.55 332.78,719.55 332.78,718.2 344.92,718.2 344.92,719.55 347.62,719.55 347.62,718.2 350.33,718.2 350.33,716.85 351.68,716.85 351.68,715.5 353.02,715.5 353.02,714.15 354.38,714.15 354.38,712.8 355.72,712.8 355.72,711.45 357.08,711.45 357.08,710.1 358.42,710.1 358.42,708.75 361.8,708.75"/>
<polyline points="423.9,737.1 425.25,737.1"/>
<polyline points="433.35,739.8 436.72,739.8 436.72,738.45 440.78,738.45 440.78,737.1 448.88,737.1 448.88,735.75 451.58,735.75 451.58,734.4 455.63,734.4 455.63,733.05 459.68,733.05 459.68,731.7 462.38,731.7 462.38,730.35 469.13,730.35 469.13,731.7 473.18,731.7 473.18,733.05 479.92,733.05 479.92,734.4 482.63,734.4 482.63,733.05 486.68,733.05 486.68,731.7 489.38,731.7 489.38,730.35 490.72,730.35 490.72,731.7 492.08,731.7 492.08,733.05 496.13,733.05 496.13,734.4 498.83,734.4 498.83,733.05 502.88,733.05 502.88,731.7 505.58,731.7 505.58,733.05 509.63,733.05 509.63,734.4 516.38,734.4 516.38,733.05 521.78,733.05 521.78,731.7 524.48,731.7 524.48,730.35 527.18,730.35 527.18,729 537.98,729 537.98,727.65 539.33,727.65 539.33,726.3 540.68,726.3 540.68,724.95 542.03,724.95 542.03,723.6 554.18,723.6 554.18,722.25 556.88,722.25 556.88,720.9 560.93,720.9 560.93,719.55 567.68,719.55 567.68,720.9 570.38,720.9 570.38,722.25 573.08,722.25 573.08,723.6 578.48,723.6 578.48,724.95 579.83,724.95 579.83,723.6 605.48,723.6 605.48,724.95 616.28,724.95 616.28,723.6 620.33,723.6 620.33,722.25 623.03,722.25 623.03,720.9 627.08,720.9 627.08,719.55 632.48,719.55 632.48,718.2 635.18,718.2 635.18,716.85 654.08,716.85 654.08,718.2 656.78,718.2 656.78,719.55 660.82,719.55 660.82,720.9 664.88,720.9 664.88,722.25 668.92,722.25 668.92,723.6 670.28,723.6 670.28,722.25 677.03,722.25 677.03,720.9 679.72,720.9 679.72,719.55 682.42,719.55 682.42,718.2 685.12,718.2 685.12,716.85 686.48,716.85 686.48,715.5 687.82,715.5 687.82,714.15 689.18,714.15 689.18,712.8 690.53,712.8 690.53,711.45 693.22,711.45 693.22,710.1 694.58,710.1 694.58,708.75 697.28,708.75 697.28,710.1 699.98,710.1 699.98,711.45 701.32,711.45 701.32,712.8 704.03,712.8 704.03,714.15 706.72,714.15 706.72,715.5 710.78,715.5 710.78,716.85 712.12,716.85 712.12,715.5 719.55,715.5"/>
<polyline points="727.65,718.2 730.35,718.2"/>
<polyline points="734.4,718.2 739.8,718.2"/>
<polyline points="747.9,720.9 751.28,720.9 751.28,719.55 755.32,719.55 755.32,718.2 758.03,718.2 758.03,716.85 771.53,716.85 771.53,715.5 775.58,715.5 775.58,714.15 778.28,714.15 778.28,712.8 779.62,712.8 779.62,714.15 789.08,714.15 789.08,715.5 793.12,715.5 793.12,716.85 795.82,716.85 795.82,718.2 798.53,718.2 798.53,719.55 801.22,719.55 801.22,720.9 806.62,720.9 806.62,722.25 809.32,722.25 809.32,723.6 812.03,723.6 812.03,724.95 814.72,724.95 814.72,726.3 817.42,726.3 817.42,727.65 820.12,727.65 820.12,729 822.82,729 822.82,730.35 826.88,730.35 826.88,731.7 829.58,731.7 829.58,733.05 832.28,733.05 832.28,734.4 832.95,734.4"/>
<polyline points="145.8,727.65 151.88,727.65 151.88,726.3 157.28,726.3 157.28,727.65 164.02,727.65 164.02,729 168.08,729 168.08,730.35 172.12,730.35 172.12,731.7 176.18,731.7 176.18,730.35 185.62,730.35 185.62,729 189.68,729 189.68,727.65 218.02,727.65 218.02,726.3 228.82,726.3 228.82,724.95 234.23,724.95 234.23,723.6 239.63,723.6 239.63,722.25 243.68,722.25 243.68,720.9 246.38,720.9 246.38,719.55 250.42,719.55 250.42,718.2 261.23,718.2 261.23,719.55 263.25,719.55"/>
<polyline points="279.45,727.65 281.48,727.65 281.48,726.3 285.53,726.3 285.53,724.95 288.23,724.95 288.23,723.6 289.58,723.6 289.58,722.25 294.98,722.25 294.98,723.6 297.68,723.6 297.68,724.95 299.03,724.95 299.03,726.3 300.38,726.3 300.38,727.65 308.48,727.65 308.48,726.3 311.18,726.3 311.18,724.95 315.23,724.95 315.23,723.6 317.92,723.6 317.92,722.25 320.62,722.25 320.62,720.9 323.33,720.9 323.33,719.55 326.03,719.55 326.03,718.2 327.38,718.2 327.38,716.85 346.28,716.85 346.28,715.5 348.98,715.5 348.98,714.15 351.68,714.15 351.68,712.8 353.02,712.8 353.02,711.45 355.05,711.45"/>
<polyline points="421.2,737.1 422.55,737.1"/>
<polyline points="430.65,737.1 432.68,737.1 432.68,735.75 435.38,735.75 435.38,734.4 438.08,734.4 438.08,733.05 446.18,733.05 446.18,731.7 448.88,731.7 448.88,730.35 451.58,730.35 451.58,729 454.28,729 454.28,727.65 456.98,727.65 456.98,726.3 465.08,726.3 465.08,727.65 469.13,727.65 469.13,729 473.18,729 473.18,730.35 479.92,730.35 479.92,729 482.63,729 482.63,727.65 485.33,727.65 485.33,726.3 489.38,726.3 489.38,727.65 490.72,727.65 490.72,729 494.78,729 494.78,730.35 497.48,730.35 497.48,729 501.52,729 501.52,730.35 506.92,730.35 506.92,731.7 512.33,731.7 512.33,730.35 519.08,730.35 519.08,729 523.12,729 523.12,727.65 528.53,727.65 528.53,726.3 532.58,726.3 532.58,724.95 533.93,724.95 533.93,723.6 535.28,723.6 535.28,722.25 536.62,722.25 536.62,719.55 537.98,719.55 537.98,718.2 539.33,718.2 539.33,716.85 547.43,716.85 547.43,718.2 548.78,718.2 548.78,716.85 551.48,716.85 551.48,715.5 555.53,715.5 555.53,714.15 563.62,714.15 563.62,715.5 566.33,715.5 566.33,716.85 569.03,716.85 569.03,718.2 574.43,718.2 574.43,719.55 577.12,719.55 577.12,718.2 591.98,718.2 591.98,719.55 601.43,719.55 601.43,720.9 610.88,720.9 610.88,719.55 614.93,719.55 614.93,718.2 617.62,718.2 617.62,716.85 621.68,716.85 621.68,715.5 624.38,715.5 624.38,714.15 627.08,714.15 627.08,712.8 629.78,712.8 629.78,711.45 631.12,711.45 631.12,710.1 633.83,710.1 633.83,708.75 636.53,708.75 636.53,710.1 643.28,710.1 643.28,711.45 648.68,711.45 648.68,712.8 651.38,712.8 651.38,714.15 654.08,714.15 654.08,715.5 658.12,715.5 658.12,716.85 663.53,716.85 663.53,718.2 668.92,718.2 668.92,716.85 672.98,716.85 672.98,715.5 677.03,715.5 677.03,714.15 679.72,714.15 679.72,712.8 681.08,712.8 681.08,711.45 682.42,711.45 682.42,710.1 683.78,710.1 683.78,708.75 685.12,708.75 685.12,707.4 686.48,707.4 686.48,706.05 687.82,706.05 687.82,704.7 689.18,704.7 689.18,703.35 690.53,703.35 690.53,702 694.58,702 694.58,703.35 695.92,703.35 695.92,704.7 697.28,704.7 697.28,706.05 698.62,706.05 698.62,707.4 699.98,707.4 699.98,708.75 701.32,708.75 701.32,710.1 704.03,710.1 704.03,711.45 705.38,711.45 705.38,712.8 706.72,712.8 706.72,714.15 715.5,714.15"/>
<polyline points="723.6,716.85 732.38,716.85 732.38,715.5 736.42,715.5 736.42,716.85 743.18,716.85 743.18,718.2 745.88,718.2 745.88,716.85 749.92,716.85 749.92,715.5 752.62,715.5 752.62,714.15 755.32,714.15 755.32,712.8 766.12,712.8 766.12,711.45 772.88,711.45 772.88,710.1 774.22,710.1 774.22,708.75 778.28,708.75 778.28,710.1 787.72,710.1 787.72,711.45 790.42,711.45 790.42,712.8 791.78,712.8 791.78,714.15 794.48,714.15 794.48,715.5 797.18,715.5 797.18,716.85 801.22,716.85 801.22,718.2 805.28,718.2 805.28,719.55 807.98,719.55 807.98,720.9 810.68,720.9 810.68,722.25 813.38,722.25 813.38,723.6 817.42,723.6 817.42,724.95 820.12,724.95 820.12,726.3 822.82,726.3 822.82,727.65 825.53,727.65 825.53,729 828.22,729 828.22,730.35 828.9,730.35"/>
<polyline points="143.1,726.3 145.12,726.3 145.12,724.95 161.33,724.95 161.33,726.3 168.08,726.3 168.08,727.65 172.12,727.65 172.12,726.3 184.28,726.3 184.28,724.95 227.48,724.95 227.48,723.6 231.52,723.6 231.52,722.25 235.58,722.25 235.58,720.9 239.63,720.9 239.63,719.55 242.32,719.55 242.32,718.2 245.02,718.2 245.02,716.85 249.08,716.85 249.08,715.5 255.82,715.5 255.82,716.85 257.85,716.85"/>
<polyline points="267.3,720.9 269.33,720.9 269.33,722.25 273.38,722.25 273.38,723.6 278.78,723.6 278.78,722.25 282.83,722.25 282.83,720.9 285.53,720.9 285.53,719.55 292.28,719.55 292.28,720.9 294.98,720.9 294.98,722.25 295.65,722.25"/>
<polyline points="298.35,723.6 303.08,723.6 303.08,722.25 305.78,722.25 305.78,720.9 311.18,720.9 311.18,719.55 317.92,719.55 317.92,718.2 321.98,718.2 321.98,716.85 324.68,716.85 324.68,715.5 344.92,715.5 344.92,714.15 348.3,714.15"/>
<polyline points="425.25,735.75 427.28,735.75 427.28,734.4 429.98,734.4 429.98,733.05 431.33,733.05 431.33,731.7 434.02,731.7 434.02,730.35 438.08,730.35 438.08,729 443.48,729 443.48,727.65 446.18,727.65 446.18,726.3 447.52,726.3 447.52,724.95 450.22,724.95 450.22,723.6 452.92,723.6 452.92,722.25 458.33,722.25 458.33,720.9 459.68,720.9 459.68,722.25 462.38,722.25 462.38,723.6 465.08,723.6 465.08,724.95 467.78,724.95 467.78,726.3 477.22,726.3 477.22,724.95 478.58,724.95 478.58,723.6 481.28,723.6 481.28,722.25 482.63,722.25 482.63,720.9 483.98,720.9 483.98,722.25 485.33,722.25 485.33,723.6 488.02,723.6 488.02,724.95 490.72,724.95 490.72,726.3 498.83,726.3 498.83,727.65 506.92,727.65 506.92,729 508.28,729 508.28,727.65 516.38,727.65 516.38,726.3 521.78,726.3 521.78,724.95 525.83,724.95 525.83,723.6 528.53,723.6 528.53,722.25 529.88,722.25 529.88,719.55 531.22,719.55 531.22,718.2 532.58,718.2 532.58,715.5 533.93,715.5 533.93,714.15 535.28,714.15 535.28,711.45 546.08,711.45 546.08,710.1 551.48,710.1 551.48,708.75 558.22,708.75 558.22,710.1 560.93,710.1 560.93,711.45 563.62,711.45 563.62,712.8 569.03,712.8 569.03,714.15 586.58,714.15 586.58,715.5 590.62,715.5 590.62,716.85 597.38,716.85 597.38,718.2 606.83,718.2 606.83,716.85 610.88,716.85 610.88,715.5 612.22,715.5 612.22,714.15 614.93,714.15 614.93,712.8 618.98,712.8 618.98,711.45 620.33,711.45 620.33,710.1 621.68,710.1 621.68,708.75 624.38,708.75 624.38,707.4 625.72,707.4 625.72,706.05 628.43,706.05 628.43,704.7 629.78,704.7 629.78,703.35 633.83,703.35 633.83,704.7 636.53,704.7 636.53,706.05 640.58,706.05 640.58,707.4 643.28,707.4 643.28,708.75 645.98,708.75 645.98,710.1 646.65,710.1"/>
<polyline points="652.05,712.8 654.08,712.8 654.08,714.15 659.48,714.15 659.48,715.5 662.18,715.5 662.18,714.15 666.22,714.15 666.22,712.8 671.62,712.8 671.62,711.45 674.32,711.45 674.32,710.1 675.68,710.1 675.68,708.75 677.03,708.75 677.03,707.4 678.38,707.4 678.38,706.05 679.72,706.05 679.72,704.7 681.08,704.7 681.08,703.35 682.42,703.35 682.42,702 685.12,702 685.12,700.65 690.53,700.65 690.53,699.3 691.88,699.3 691.88,700.65 692.55,700.65"/>
<polyline points="707.4,712.8 710.1,712.8"/>
<polyline points="720.9,715.5 728.32,715.5 728.32,714.15 744.53,714.15 744.53,712.8 748.58,712.8 748.58,711.45 749.92,711.45 749.92,710.1 753.98,710.1 753.98,708.75 764.78,708.75 764.78,710.1 766.12,710.1 766.12,708.75 770.18,708.75 770.18,707.4 785.03,707.4 785.03,708.75 787.72,708.75 787.72,710.1 790.42,710.1 790.42,711.45 791.78,711.45 791.78,712.8 794.48,712.8 794.48,714.15 799.88,714.15 799.88,715.5 802.58,715.5 802.58,716.85 806.62,716.85 806.62,718.2 809.32,718.2 809.32,719.55 812.03,719.55 812.03,720.9 816.08,720.9 816.08,722.25 817.42,722.25 817.42,723.6 820.12,723.6 820.12,724.95 824.18,724.95 824.18,726.3 825.53,726.3 825.53,727.65 826.2,727.65"/>
<polyline points="139.05,724.95 141.08,724.95 141.08,723.6 145.12,723.6 145.12,722.25 162.68,722.25 162.68,723.6 165.38,723.6 165.38,722.25 201.82,722.25 201.82,723.6 209.25,723.6"/>
<polyline points="225.45,723.6 226.8,723.6"/>
<polyline points="229.5,722.25 231.52,722.25 231.52,720.9 235.58,720.9 235.58,719.55 236.92,719.55 236.92,718.2 239.63,718.2 239.63,716.85 242.32,716.85 242.32,715.5 246.38,715.5 246.38,714.15 252.45,714.15"/>
<polyline points="259.2,716.85 260.55,716.85"/>
<polyline points="263.25,718.2 267.98,718.2 267.98,719.55 276.08,719.55 276.08,718.2 281.48,718.2 281.48,716.85 288.23,716.85 288.23,718.2 290.25,718.2"/>
<polyline points="292.95,719.55 299.03,719.55 299.03,718.2 301.73,718.2 301.73,716.85 317.92,716.85 317.92,715.5 324,715.5"/>
<polyline points="326.7,714.15 344.25,714.15"/>
<polyline points="418.5,735.75 419.18,735.75 419.18,734.4 423.22,734.4 423.22,733.05 424.58,733.05 424.58,731.7 427.28,731.7 427.28,730.35 428.62,730.35 428.62,729 429.98,729 429.98,727.65 435.38,727.65 435.38,726.3 439.42,726.3 439.42,724.95 442.13,724.95 442.13,723.6 444.83,723.6 444.83,722.25 446.18,722.25 446.18,720.9 448.88,720.9 448.88,719.55 454.28,719.55 454.28,718.2 456.98,718.2 456.98,719.55 459.68,719.55 459.68,720.9 462.38,720.9 462.38,722.25 469.13,722.25 469.13,723.6 471.83,723.6 471.83,722.25 474.52,722.25 474.52,720.9 475.88,720.9 475.88,719.55 478.58,719.55 478.58,718.2 481.28,718.2 481.28,719.55 483.98,719.55 483.98,720.9 485.33,720.9 485.33,722.25 488.02,722.25 488.02,723.6 496.13,723.6 496.13,724.95 513.68,724.95 513.68,723.6 519.08,723.6 519.08,722.25 521.78,722.25 521.78,720.9 524.48,720.9 524.48,719.55 525.83,719.55 525.83,718.2 527.18,718.2 527.18,715.5 528.53,715.5 528.53,714.15 529.88,714.15 529.88,711.45 531.22,711.45 531.22,708.75 532.58,708.75 532.58,707.4 543.38,707.4 543.38,706.05 555.53,706.05 555.53,707.4 559.58,707.4 559.58,708.75 563.62,708.75 563.62,710.1 579.83,710.1 579.83,711.45 582.53,711.45 582.53,712.8 584.55,712.8"/>
<polyline points="587.25,714.15 588.6,714.15"/>
<polyline points="591.3,715.5 594,715.5"/>
<polyline points="598.05,716.85 600.08,716.85 600.08,715.5 604.12,715.5 604.12,714.15 606.83,714.15 606.83,712.8 609.53,712.8 609.53,711.45 612.22,711.45 612.22,710.1 614.93,710.1 614.93,708.75 616.28,708.75 616.28,707.4 618.98,707.4 618.98,706.05 620.33,706.05 620.33,704.7 621.68,704.7 621.68,703.35 623.03,703.35 623.03,702 625.72,702 625.72,700.65 629.78,700.65 629.78,702 631.8,702"/>
<polyline points="660.15,712.8 662.18,712.8 662.18,711.45 666.22,711.45 666.22,710.1 670.28,710.1 670.28,708.75 672.98,708.75 672.98,707.4 674.32,707.4 674.32,706.05 675.68,706.05 675.68,704.7 677.03,704.7 677.03,703.35 679.72,703.35 679.72,702 681.75,702"/>
<polyline points="723.6,714.15 728.32,714.15 728.32,712.8 740.48,712.8 740.48,711.45 744.53,711.45 744.53,710.1 745.88,710.1 745.88,708.75 748.58,708.75 748.58,707.4 751.28,707.4 751.28,706.05 753.98,706.05 753.98,707.4 757.35,707.4"/>
<polyline points="765.45,708.75 766.12,708.75 766.12,707.4 768.82,707.4 768.82,706.05 776.92,706.05 776.92,704.7 780.98,704.7 780.98,706.05 783,706.05"/>
<polyline points="791.1,710.1 791.78,710.1 791.78,711.45 797.18,711.45 797.18,712.8 799.88,712.8 799.88,714.15 802.58,714.15 802.58,715.5 804.6,715.5"/>
<polyline points="810,718.2 813.38,718.2 813.38,719.55 816.08,719.55 816.08,720.9 818.78,720.9 818.78,722.25 821.48,722.25 821.48,723.6 822.15,723.6"/>
<polyline points="135,724.95 135.68,724.95 135.68,723.6 138.38,723.6 138.38,722.25 142.43,722.25 142.43,720.9 157.28,720.9 157.28,719.55 162.68,719.55 162.68,718.2 170.78,718.2 170.78,719.55 193.73,719.55 193.73,720.9 199.8,720.9"/>
<polyline points="202.5,722.25 203.85,722.25"/>
<polyline points="230.85,720.9 231.52,720.9 231.52,719.55 234.23,719.55 234.23,718.2 235.58,718.2 235.58,716.85 238.28,716.85 238.28,715.5 240.98,715.5 240.98,714.15 243.68,714.15 243.68,712.8 251.1,712.8"/>
<polyline points="253.8,714.15 258.53,714.15 258.53,715.5 272.03,715.5 272.03,714.15 284.18,714.15 284.18,715.5 288.23,715.5 288.23,716.85 292.28,716.85 292.28,715.5 294.98,715.5 294.98,714.15 297.68,714.15 297.68,712.8 304.42,712.8 304.42,714.15 309.83,714.15 309.83,715.5 316.58,715.5 316.58,714.15 325.35,714.15"/>
<polyline points="329.4,712.8 335.48,712.8 335.48,711.45 340.88,711.45 340.88,710.1 343.58,710.1 343.58,711.45 346.28,711.45 346.28,712.8 348.3,712.8"/>
<polyline points="414.45,734.4 415.12,734.4 415.12,733.05 419.18,733.05 419.18,731.7 421.88,731.7 421.88,730.35 423.22,730.35 423.22,729 424.58,729 424.58,727.65 427.28,727.65 427.28,726.3 429.98,726.3 429.98,724.95 435.38,724.95 435.38,723.6 438.08,723.6 438.08,722.25 440.78,722.25 440.78,720.9 442.13,720.9 442.13,719.55 444.83,719.55 444.83,718.2 448.88,718.2 448.88,716.85 454.95,716.85"/>
<polyline points="457.65,718.2 459.68,718.2 459.68,719.55 469.13,719.55 469.13,718.2 471.83,718.2 471.83,716.85 474.52,716.85 474.52,715.5 478.58,715.5 478.58,716.85 481.28,716.85 481.28,718.2 483.98,718.2 483.98,719.55 486.68,719.55 486.68,720.9 493.42,720.9 493.42,722.25 513.68,722.25 513.68,720.9 517.72,720.9 517.72,719.55 520.43,719.55 520.43,718.2 521.78,718.2 521.78,716.85 523.12,716.85 523.12,715.5 524.48,715.5 524.48,712.8 525.83,712.8 525.83,711.45 527.18,711.45 527.18,708.75 528.53,708.75 528.53,707.4 531.22,707.4 531.22,706.05 539.33,706.05 539.33,704.7 552.15,704.7"/>
<polyline points="556.2,706.05 559.58,706.05 559.58,707.4 560.93,707.4 560.93,706.05 562.28,706.05 562.28,707.4 571.72,707.4 571.72,708.75 576.45,708.75"/>
<polyline points="589.95,714.15 591.3,714.15"/>
<polyline points="595.35,714.15 600.08,714.15 600.08,712.8 602.78,712.8 602.78,711.45 605.48,711.45 605.48,710.1 606.83,710.1 606.83,708.75 610.88,708.75 610.88,707.4 612.22,707.4 612.22,706.05 614.93,706.05 614.93,704.7 616.28,704.7 616.28,703.35 617.62,703.35 617.62,702 620.33,702 620.33,700.65 621.68,700.65 621.68,699.3 625.05,699.3"/>
<polyline points="654.75,712.8 656.78,712.8 656.78,711.45 658.12,711.45 658.12,710.1 666.22,710.1 666.22,708.75 670.28,708.75 670.28,707.4 672.98,707.4 672.98,706.05 674.32,706.05 674.32,704.7 675,704.7"/>
<polyline points="720.9,714.15 722.25,714.15"/>
<polyline points="735.75,711.45 739.12,711.45 739.12,710.1 741.82,710.1 741.82,708.75 743.18,708.75 743.18,707.4 744.53,707.4 744.53,706.05 747.22,706.05 747.22,704.7 749.92,704.7 749.92,706.05 750.6,706.05"/>
<polyline points="762.75,707.4 764.78,707.4 764.78,706.05 768.82,706.05 768.82,704.7 774.22,704.7 774.22,703.35 778.95,703.35"/>
<polyline points="781.65,704.7 783.68,704.7 783.68,706.05 786.38,706.05 786.38,707.4 789.08,707.4 789.08,708.75 793.12,708.75 793.12,710.1 795.15,710.1"/>
<polyline points="805.95,715.5 809.32,715.5 809.32,716.85 813.38,716.85 813.38,718.2 817.42,718.2 817.42,719.55 818.78,719.55 818.78,720.9 819.45,720.9"/>
<polyline points="132.3,723.6 134.33,723.6 134.33,722.25 137.02,722.25 137.02,720.9 141.08,720.9 141.08,719.55 151.88,719.55 151.88,718.2 154.58,718.2 154.58,716.85 157.28,716.85 157.28,715.5 159.98,715.5 159.98,714.15 164.02,714.15 164.02,715.5 169.42,715.5 169.42,716.85 188.32,716.85 188.32,718.2 193.73,718.2 193.73,719.55 195.75,719.55"/>
<polyline points="224.1,723.6 224.78,723.6 224.78,722.25 226.13,722.25 226.13,720.9 228.82,720.9 228.82,719.55 230.18,719.55 230.18,718.2 232.88,718.2 232.88,716.85 234.23,716.85 234.23,715.5 236.92,715.5 236.92,714.15 239.63,714.15 239.63,712.8 243,712.8"/>
<polyline points="245.7,711.45 267.98,711.45 267.98,710.1 270.68,710.1 270.68,711.45 280.12,711.45 280.12,712.8 284.18,712.8 284.18,714.15 286.88,714.15 286.88,712.8 289.58,712.8 289.58,711.45 292.28,711.45 292.28,710.1 300.38,710.1 300.38,711.45 302.4,711.45"/>
<polyline points="310.5,714.15 316.58,714.15 316.58,712.8 323.33,712.8 323.33,711.45 327.38,711.45 327.38,710.1 331.42,710.1 331.42,708.75 344.92,708.75 344.92,710.1 347.62,710.1 347.62,711.45 350.33,711.45 350.33,712.8 351,712.8"/>
<polyline points="406.35,733.05 411.08,733.05 411.08,731.7 415.12,731.7 415.12,730.35 417.83,730.35 417.83,729 420.52,729 420.52,727.65 421.88,727.65 421.88,726.3 424.58,726.3 424.58,724.95 428.62,724.95 428.62,723.6 431.33,723.6 431.33,722.25 434.02,722.25 434.02,720.9 436.72,720.9 436.72,719.55 439.42,719.55 439.42,718.2 442.13,718.2 442.13,716.85 446.18,716.85 446.18,715.5 452.25,715.5"/>
<polyline points="456.3,716.85 465.08,716.85 465.08,715.5 467.78,715.5 467.78,714.15 470.48,714.15 470.48,712.8 475.88,712.8 475.88,714.15 478.58,714.15 478.58,715.5 481.28,715.5 481.28,716.85 485.33,716.85 485.33,718.2 490.72,718.2 490.72,719.55 497.48,719.55 497.48,720.9 508.28,720.9 508.28,719.55 515.02,719.55 515.02,718.2 517.72,718.2 517.72,716.85 519.08,716.85 519.08,715.5 520.43,715.5 520.43,714.15 521.78,714.15 521.78,712.8 523.12,712.8 523.12,711.45 524.48,711.45 524.48,708.75 527.18,708.75 527.18,707.4 527.85,707.4"/>
<polyline points="553.5,704.7 560.25,704.7"/>
<polyline points="562.95,706.05 568.35,706.05"/>
<polyline points="587.25,712.8 593.33,712.8 593.33,711.45 597.38,711.45 597.38,710.1 600.08,710.1 600.08,708.75 602.78,708.75 602.78,707.4 605.48,707.4 605.48,706.05 608.18,706.05 608.18,704.7 610.88,704.7 610.88,703.35 612.22,703.35 612.22,702 614.93,702 614.93,700.65 617.62,700.65 617.62,699.3 621,699.3"/>
<polyline points="650.7,710.1 651.38,710.1 651.38,708.75 654.08,708.75 654.08,707.4 656.78,707.4 656.78,706.05 660.82,706.05 660.82,707.4 667.58,707.4 667.58,706.05 672.3,706.05"/>
<polyline points="716.85,714.15 719.55,714.15"/>
<polyline points="724.95,712.8 727.65,712.8"/>
<polyline points="731.7,711.45 733.72,711.45 733.72,710.1 736.42,710.1 736.42,708.75 737.78,708.75 737.78,707.4 739.12,707.4 739.12,706.05 740.48,706.05 740.48,704.7 743.18,704.7 743.18,703.35 746.55,703.35"/>
<polyline points="760.05,707.4 760.72,707.4 760.72,706.05 763.42,706.05 763.42,704.7 767.48,704.7 767.48,703.35 770.18,703.35 770.18,702 774.22,702 774.22,700.65 775.58,700.65 775.58,702 782.32,702 782.32,703.35 783.68,703.35 783.68,704.7 787.72,704.7 787.72,706.05 790.42,706.05 790.42,707.4 791.1,707.4"/>
<polyline points="804.6,714.15 807.3,714.15"/>
<polyline points="810,715.5 813.38,715.5 813.38,716.85 815.4,716.85"/>
<polyline points="128.25,724.95 128.93,724.95 128.93,723.6 131.62,723.6 131.62,722.25 132.98,722.25 132.98,720.9 135.68,720.9 135.68,719.55 141.08,719.55 141.08,718.2 147.83,718.2 147.83,716.85 150.52,716.85 150.52,715.5 151.88,715.5 151.88,714.15 153.23,714.15 153.23,712.8 155.93,712.8 155.93,711.45 162.68,711.45 162.68,712.8 165.38,712.8 165.38,714.15 168.08,714.15 168.08,712.8 170.78,712.8 170.78,714.15 184.28,714.15 184.28,715.5 188.32,715.5 188.32,716.85 190.35,716.85"/>
<polyline points="220.05,723.6 220.73,723.6 220.73,722.25 222.08,722.25 222.08,720.9 223.42,720.9 223.42,719.55 226.13,719.55 226.13,718.2 227.48,718.2 227.48,716.85 230.18,716.85 230.18,715.5 231.52,715.5 231.52,714.15 234.23,714.15 234.23,712.8 238.28,712.8 238.28,711.45 243.68,711.45 243.68,710.1 250.42,710.1 250.42,708.75 257.18,708.75 257.18,707.4 263.92,707.4 263.92,706.05 266.62,706.05 266.62,707.4 272.03,707.4 272.03,708.75 276.08,708.75 276.08,710.1 285.53,710.1 285.53,708.75 288.23,708.75 288.23,707.4 294.98,707.4 294.98,708.75 297,708.75"/>
<polyline points="306.45,712.8 313.88,712.8 313.88,711.45 317.92,711.45 317.92,710.1 321.98,710.1 321.98,708.75 323.33,708.75 323.33,707.4 330.08,707.4 330.08,708.75 330.75,708.75"/>
<polyline points="396.9,731.7 401.62,731.7 401.62,730.35 408.38,730.35 408.38,729 412.42,729 412.42,727.65 416.48,727.65 416.48,726.3 419.18,726.3 419.18,724.95 420.52,724.95 420.52,723.6 424.58,723.6 424.58,722.25 427.28,722.25 427.28,720.9 429.98,720.9 429.98,719.55 432.68,719.55 432.68,718.2 435.38,718.2 435.38,716.85 438.08,716.85 438.08,715.5 442.13,715.5 442.13,714.15 459.68,714.15 459.68,712.8 463.72,712.8 463.72,711.45 465.08,711.45 465.08,710.1 473.18,710.1 473.18,711.45 475.88,711.45 475.88,712.8 478.58,712.8 478.58,714.15 482.63,714.15 482.63,715.5 488.02,715.5 488.02,716.85 492.08,716.85 492.08,718.2 512.33,718.2 512.33,716.85 515.02,716.85 515.02,715.5 517.72,715.5 517.72,714.15 519.08,714.15 519.08,712.8 520.43,712.8 520.43,711.45 521.78,711.45 521.78,710.1 523.8,710.1"/>
<polyline points="553.5,703.35 556.2,703.35"/>
<polyline points="561.6,704.7 564.3,704.7"/>
<polyline points="580.5,710.1 590.62,710.1 590.62,708.75 594.68,708.75 594.68,707.4 597.38,707.4 597.38,706.05 600.08,706.05 600.08,704.7 604.12,704.7 604.12,703.35 606.83,703.35 606.83,702 609.53,702 609.53,700.65 612.22,700.65 612.22,699.3 616.95,699.3"/>
<polyline points="643.95,707.4 644.62,707.4 644.62,706.05 647.33,706.05 647.33,704.7 648.68,704.7 648.68,703.35 659.48,703.35 659.48,704.7 672.98,704.7 672.98,703.35 676.35,703.35"/>
<polyline points="711.45,712.8 712.12,712.8 712.12,711.45 725.62,711.45 725.62,710.1 729.68,710.1 729.68,708.75 732.38,708.75 732.38,707.4 735.08,707.4 735.08,706.05 736.42,706.05 736.42,703.35 737.78,703.35 737.78,702 741.82,702 741.82,700.65 743.18,700.65 743.18,702 743.85,702"/>
<polyline points="758.7,706.05 759.38,706.05 759.38,704.7 762.08,704.7 762.08,703.35 764.78,703.35 764.78,702 766.12,702 766.12,700.65 768.82,700.65 768.82,699.3 780.98,699.3 780.98,700.65 783.68,700.65 783.68,702 785.03,702 785.03,703.35 787.72,703.35 787.72,704.7 788.4,704.7"/>
<polyline points="799.2,711.45 803.92,711.45 803.92,712.8 809.32,712.8 809.32,714.15 811.35,714.15"/>
<polyline points="125.55,723.6 127.58,723.6 127.58,722.25 128.93,722.25 128.93,720.9 131.62,720.9 131.62,719.55 135.68,719.55 135.68,718.2 141.08,718.2 141.08,716.85 145.12,716.85 145.12,715.5 146.48,715.5 146.48,714.15 147.83,714.15 147.83,712.8 149.18,712.8 149.18,711.45 150.52,711.45 150.52,710.1 151.88,710.1 151.88,708.75 153.23,708.75 153.23,707.4 154.58,707.4 154.58,708.75 159.98,708.75 159.98,710.1 172.12,710.1 172.12,711.45 180.23,711.45 180.23,712.8 184.28,712.8 184.28,714.15 188.32,714.15 188.32,715.5 191.02,715.5 191.02,716.85 191.7,716.85"/>
<polyline points="213.3,723.6 215.32,723.6 215.32,722.25 216.68,722.25 216.68,720.9 218.02,720.9 218.02,719.55 219.38,719.55 219.38,716.85 222.08,716.85 222.08,715.5 224.78,715.5 224.78,714.15 227.48,714.15 227.48,712.8 231.52,712.8 231.52,711.45 235.58,711.45 235.58,710.1 239.63,710.1 239.63,708.75 245.02,708.75 245.02,707.4 249.08,707.4 249.08,706.05 253.13,706.05 253.13,704.7 257.18,704.7 257.18,703.35 266.62,703.35 266.62,704.7 269.33,704.7 269.33,706.05 273.38,706.05 273.38,707.4 281.48,707.4 281.48,706.05 284.18,706.05 284.18,704.7 290.92,704.7 290.92,706.05 291.6,706.05"/>
<polyline points="303.75,711.45 311.18,711.45 311.18,710.1 313.88,710.1 313.88,708.75 316.58,708.75 316.58,707.4 319.28,707.4 319.28,706.05 325.35,706.05"/>
<polyline points="387.45,729 390.83,729 390.83,727.65 394.88,727.65 394.88,726.3 404.33,726.3 404.33,724.95 409.72,724.95 409.72,723.6 413.78,723.6 413.78,722.25 416.48,722.25 416.48,720.9 420.52,720.9 420.52,719.55 423.22,719.55 423.22,718.2 425.92,718.2 425.92,716.85 429.98,716.85 429.98,715.5 432.68,715.5 432.68,714.15 436.72,714.15 436.72,712.8 442.13,712.8 442.13,711.45 455.63,711.45 455.63,710.1 458.33,710.1 458.33,708.75 461.02,708.75 461.02,707.4 462.38,707.4 462.38,706.05 469.13,706.05 469.13,707.4 471.83,707.4 471.83,708.75 474.52,708.75 474.52,710.1 478.58,710.1 478.58,711.45 481.28,711.45 481.28,712.8 485.33,712.8 485.33,714.15 488.02,714.15 488.02,715.5 494.78,715.5 494.78,716.85 508.28,716.85 508.28,715.5 512.33,715.5 512.33,714.15 516.38,714.15 516.38,712.8 517.72,712.8 517.72,711.45 519.75,711.45"/>
<polyline points="546.75,703.35 550.12,703.35 550.12,702 552.15,702"/>
<polyline points="557.55,703.35 560.25,703.35"/>
<polyline points="573.75,707.4 575.1,707.4"/>
<polyline points="577.8,708.75 581.18,708.75 581.18,707.4 587.93,707.4 587.93,706.05 591.98,706.05 591.98,704.7 594.68,704.7 594.68,703.35 598.72,703.35 598.72,702 602.78,702 602.78,700.65 606.83,700.65 606.83,699.3 611.55,699.3"/>
<polyline points="637.2,704.7 637.88,704.7 637.88,703.35 640.58,703.35 640.58,702 641.93,702 641.93,700.65 643.28,700.65 643.28,702 648,702"/>
<polyline points="670.95,703.35 672.3,703.35"/>
<polyline points="704.7,708.75 708.08,708.75 708.08,707.4 716.18,707.4 716.18,708.75 722.92,708.75 722.92,707.4 726.98,707.4 726.98,706.05 731.03,706.05 731.03,704.7 732.38,704.7 732.38,703.35 733.72,703.35 733.72,702 735.08,702 735.08,700.65 739.8,700.65"/>
<polyline points="754.65,706.05 755.32,706.05 755.32,704.7 758.03,704.7 758.03,703.35 759.38,703.35 759.38,702 760.72,702 760.72,700.65 762.08,700.65 762.08,699.3 763.42,699.3 763.42,697.95 764.78,697.95 764.78,696.6 767.48,696.6 767.48,695.25 771.53,695.25 771.53,693.9 775.58,693.9 775.58,695.25 776.92,695.25 776.92,696.6 779.62,696.6 779.62,697.95 782.32,697.95 782.32,699.3 783.68,699.3 783.68,700.65 785.03,700.65 785.03,702 785.7,702"/>
<polyline points="795.15,708.75 799.88,708.75 799.88,710.1 806.62,710.1 806.62,711.45 808.65,711.45"/>
<polyline points="121.5,724.95 122.18,724.95 122.18,723.6 123.52,723.6 123.52,722.25 126.22,722.25 126.22,720.9 127.58,720.9 127.58,719.55 130.28,719.55 130.28,718.2 134.33,718.2 134.33,716.85 138.38,716.85 138.38,715.5 141.08,715.5 141.08,714.15 142.43,714.15 142.43,712.8 143.78,712.8 143.78,711.45 145.12,711.45 145.12,710.1 146.48,710.1 146.48,708.75 147.83,708.75 147.83,707.4 149.18,707.4 149.18,706.05 157.28,706.05 157.28,707.4 172.12,707.4 172.12,708.75 178.88,708.75 178.88,710.1 182.92,710.1 182.92,711.45 185.62,711.45 185.62,712.8 188.32,712.8 188.32,714.15 191.02,714.15 191.02,715.5 192.38,715.5 192.38,716.85 193.73,716.85 193.73,718.2 196.42,718.2 196.42,719.55 197.1,719.55"/>
<polyline points="205.2,722.25 205.88,722.25 205.88,720.9 208.58,720.9 208.58,719.55 211.28,719.55 211.28,718.2 212.62,718.2 212.62,716.85 213.98,716.85 213.98,715.5 215.32,715.5 215.32,714.15 216.68,714.15 216.68,712.8 220.73,712.8 220.73,711.45 224.78,711.45 224.78,710.1 230.18,710.1 230.18,708.75 235.58,708.75 235.58,707.4 240.98,707.4 240.98,706.05 243.68,706.05 243.68,704.7 246.38,704.7 246.38,703.35 247.73,703.35 247.73,704.7 251.78,704.7 251.78,703.35 255.82,703.35 255.82,702 259.88,702 259.88,700.65 263.92,700.65 263.92,702 267.98,702 267.98,703.35 272.03,703.35 272.03,704.7 277.42,704.7 277.42,703.35 283.5,703.35"/>
<polyline points="301.05,710.1 302.4,710.1"/>
<polyline points="305.1,710.1 308.48,710.1 308.48,708.75 311.18,708.75 311.18,707.4 313.88,707.4 313.88,706.05 318.6,706.05"/>
<polyline points="383.4,723.6 384.08,723.6 384.08,722.25 388.12,722.25 388.12,720.9 390.83,720.9 390.83,719.55 407.02,719.55 407.02,718.2 412.42,718.2 412.42,716.85 416.48,716.85 416.48,715.5 420.52,715.5 420.52,714.15 423.22,714.15 423.22,712.8 427.28,712.8 427.28,711.45 432.68,711.45 432.68,710.1 440.78,710.1 440.78,708.75 451.58,708.75 451.58,707.4 454.28,707.4 454.28,706.05 455.63,706.05 455.63,704.7 458.33,704.7 458.33,703.35 459.68,703.35 459.68,702 463.72,702 463.72,703.35 466.42,703.35 466.42,704.7 470.48,704.7 470.48,706.05 475.88,706.05 475.88,707.4 478.58,707.4 478.58,708.75 481.28,708.75 481.28,710.1 482.63,710.1 482.63,711.45 485.33,711.45 485.33,712.8 490.72,712.8 490.72,714.15 505.58,714.15 505.58,712.8 510.98,712.8 510.98,711.45 517.72,711.45 517.72,710.1 521.1,710.1"/>
<polyline points="537.3,704.7 539.33,704.7 539.33,703.35 543.38,703.35 543.38,702 546.08,702 546.08,700.65 549.45,700.65"/>
<polyline points="553.5,702 557.55,702"/>
<polyline points="569.7,706.05 581.18,706.05 581.18,704.7 586.58,704.7 586.58,703.35 590.62,703.35 590.62,702 596.03,702 596.03,700.65 601.43,700.65 601.43,699.3 606.15,699.3"/>
<polyline points="608.85,697.95 611.55,697.95"/>
<polyline points="633.15,700.65 635.18,700.65 635.18,699.3 637.88,699.3 637.88,700.65 641.25,700.65"/>
<polyline points="699.3,706.05 701.32,706.05 701.32,704.7 705.38,704.7 705.38,703.35 710.78,703.35 710.78,704.7 728.32,704.7 728.32,703.35 729.68,703.35 729.68,702 731.03,702 731.03,700.65 733.72,700.65 733.72,699.3 735.75,699.3"/>
<polyline points="750.6,704.7 751.28,704.7 751.28,703.35 753.98,703.35 753.98,702 755.32,702 755.32,699.3 756.68,699.3 756.68,697.95 758.03,697.95 758.03,696.6 759.38,696.6 759.38,695.25 760.72,695.25 760.72,693.9 762.08,693.9 762.08,692.55 770.18,692.55 770.18,693.9 770.85,693.9"/>
<polyline points="776.25,693.9 776.92,693.9 776.92,695.25 777.6,695.25"/>
<polyline points="788.4,703.35 789.08,703.35 789.08,704.7 791.78,704.7 791.78,706.05 797.18,706.05 797.18,707.4 802.58,707.4 802.58,708.75 804.6,708.75"/>
<polyline points="117.45,724.95 118.13,724.95 118.13,723.6 119.48,723.6 119.48,722.25 120.82,722.25 120.82,720.9 123.52,720.9 123.52,719.55 124.88,719.55 124.88,718.2 128.93,718.2 128.93,716.85 131.62,716.85 131.62,715.5 134.33,715.5 134.33,714.15 137.02,714.15 137.02,712.8 138.38,712.8 138.38,711.45 139.73,711.45 139.73,710.1 141.08,710.1 141.08,708.75 142.43,708.75 142.43,707.4 143.78,707.4 143.78,706.05 145.12,706.05 145.12,704.7 149.18,704.7 149.18,703.35 153.23,703.35 153.23,704.7 170.78,704.7 170.78,706.05 176.18,706.05 176.18,707.4 181.58,707.4 181.58,708.75 185.62,708.75 185.62,710.1 186.98,710.1 186.98,711.45 189.68,711.45 189.68,712.8 192.38,712.8 192.38,714.15 193.73,714.15 193.73,715.5 197.78,715.5 197.78,716.85 200.48,716.85 200.48,715.5 204.52,715.5 204.52,714.15 207.23,714.15 207.23,712.8 209.92,712.8 209.92,711.45 211.28,711.45 211.28,710.1 212.62,710.1 212.62,708.75 220.73,708.75 220.73,707.4 230.18,707.4 230.18,706.05 235.58,706.05 235.58,704.7 238.28,704.7 238.28,703.35 242.32,703.35 242.32,702 243.68,702 243.68,703.35 245.7,703.35"/>
<polyline points="264.6,700.65 267.98,700.65 267.98,702 273.38,702 273.38,703.35 276.75,703.35"/>
<polyline points="303.75,708.75 305.78,708.75 305.78,707.4 309.83,707.4 309.83,706.05 313.2,706.05"/>
<polyline points="378,716.85 378.68,716.85 378.68,715.5 381.38,715.5 381.38,714.15 384.08,714.15 384.08,712.8 386.78,712.8 386.78,711.45 396.22,711.45 396.22,712.8 409.72,712.8 409.72,711.45 415.12,711.45 415.12,710.1 420.52,710.1 420.52,708.75 427.28,708.75 427.28,707.4 435.38,707.4 435.38,706.05 447.52,706.05 447.52,704.7 450.22,704.7 450.22,703.35 451.58,703.35 451.58,702 454.28,702 454.28,700.65 455.63,700.65 455.63,699.3 459.68,699.3 459.68,700.65 461.7,700.65"/>
<polyline points="464.4,702 471.83,702 471.83,700.65 473.18,700.65 473.18,702 474.52,702 474.52,703.35 475.88,703.35 475.88,704.7 477.22,704.7 477.22,706.05 478.58,706.05 478.58,707.4 479.25,707.4"/>
<polyline points="481.95,708.75 482.63,708.75 482.63,710.1 502.88,710.1 502.88,708.75 510.98,708.75 510.98,707.4 525.83,707.4 525.83,706.05 528.53,706.05 528.53,704.7 532.58,704.7 532.58,703.35 535.28,703.35 535.28,702 539.33,702 539.33,700.65 543.38,700.65 543.38,699.3 546.75,699.3"/>
<polyline points="550.8,700.65 554.85,700.65"/>
<polyline points="558.9,702 560.25,702"/>
<polyline points="562.95,703.35 581.18,703.35 581.18,702 587.93,702 587.93,700.65 593.33,700.65 593.33,699.3 601.43,699.3 601.43,697.95 607.5,697.95"/>
<polyline points="612.9,697.95 614.25,697.95"/>
<polyline points="626.4,699.3 629.78,699.3 629.78,697.95 632.48,697.95 632.48,699.3 634.5,699.3"/>
<polyline points="696.6,703.35 697.28,703.35 697.28,702 701.32,702 701.32,700.65 706.72,700.65 706.72,702 714.82,702 714.82,703.35 724.28,703.35 724.28,702 726.98,702 726.98,700.65 729.68,700.65 729.68,699.3 731.7,699.3"/>
<polyline points="746.55,702 748.58,702 748.58,700.65 749.92,700.65 749.92,699.3 751.28,699.3 751.28,697.95 752.62,697.95 752.62,696.6 753.98,696.6 753.98,693.9 755.32,693.9 755.32,692.55 761.4,692.55"/>
<polyline points="785.7,700.65 786.38,700.65 786.38,702 790.42,702 790.42,703.35 795.82,703.35 795.82,704.7 799.88,704.7 799.88,706.05 801.9,706.05"/>
<polyline points="114.75,719.55 115.43,719.55 115.43,718.2 118.13,718.2 118.13,716.85 119.48,716.85 119.48,715.5 122.18,715.5 122.18,714.15 126.22,714.15 126.22,712.8 128.93,712.8 128.93,711.45 131.62,711.45 131.62,710.1 134.33,710.1 134.33,708.75 137.02,708.75 137.02,707.4 138.38,707.4 138.38,706.05 139.73,706.05 139.73,704.7 142.43,704.7 142.43,703.35 145.12,703.35 145.12,702 169.42,702 169.42,703.35 176.18,703.35 176.18,704.7 182.92,704.7 182.92,706.05 185.62,706.05 185.62,707.4 189.68,707.4 189.68,708.75 192.38,708.75 192.38,710.1 199.12,710.1 199.12,708.75 204.52,708.75 204.52,707.4 207.23,707.4 207.23,706.05 219.38,706.05 219.38,704.7 230.18,704.7 230.18,703.35 235.58,703.35 235.58,702 241.65,702"/>
<polyline points="295.65,707.4 303.08,707.4 303.08,706.05 307.12,706.05 307.12,704.7 309.15,704.7"/>
<polyline points="371.25,710.1 373.28,710.1 373.28,708.75 375.98,708.75 375.98,707.4 377.33,707.4 377.33,706.05 381.38,706.05 381.38,704.7 384.08,704.7 384.08,703.35 388.12,703.35 388.12,704.7 394.88,704.7 394.88,706.05 400.28,706.05 400.28,707.4 407.02,707.4 407.02,706.05 416.48,706.05 416.48,704.7 429.98,704.7 429.98,703.35 443.48,703.35 443.48,702 447.52,702 447.52,700.65 450.22,700.65 450.22,699.3 452.92,699.3 452.92,697.95 454.95,697.95"/>
<polyline points="460.35,699.3 466.42,699.3 466.42,697.95 470.48,697.95 470.48,699.3 471.15,699.3"/>
<polyline points="473.85,700.65 474.52,700.65 474.52,702 475.88,702 475.88,703.35 477.22,703.35 477.22,704.7 482.63,704.7 482.63,706.05 486.68,706.05 486.68,704.7 498.83,704.7 498.83,703.35 524.48,703.35 524.48,702 529.88,702 529.88,700.65 533.93,700.65 533.93,699.3 539.33,699.3 539.33,697.95 542.7,697.95"/>
<polyline points="548.1,699.3 552.15,699.3"/>
<polyline points="561.6,702 581.18,702 581.18,700.65 587.25,700.65"/>
<polyline points="591.3,699.3 592.65,699.3"/>
<polyline points="619.65,697.95 627.08,697.95 627.08,696.6 628.43,696.6 628.43,697.95 629.1,697.95"/>
<polyline points="695.25,700.65 700.65,700.65"/>
<polyline points="707.4,700.65 712.8,700.65"/>
<polyline points="715.5,702 722.92,702 722.92,700.65 726.98,700.65 726.98,699.3 729,699.3"/>
<polyline points="743.85,700.65 744.53,700.65 744.53,699.3 747.22,699.3 747.22,697.95 748.58,697.95 748.58,696.6 749.92,696.6 749.92,695.25 751.28,695.25 751.28,693.9 752.62,693.9 752.62,692.55 754.65,692.55"/>
<polyline points="787.05,700.65 790.42,700.65 790.42,702 795.82,702 795.82,703.35 797.85,703.35"/>
<polyline points="110.7,715.5 111.38,715.5 111.38,714.15 114.08,714.15 114.08,712.8 116.78,712.8 116.78,711.45 119.48,711.45 119.48,710.1 123.52,710.1 123.52,708.75 126.22,708.75 126.22,707.4 128.93,707.4 128.93,706.05 131.62,706.05 131.62,704.7 134.33,704.7 134.33,703.35 137.02,703.35 137.02,702 139.73,702 139.73,700.65 142.43,700.65 142.43,699.3 150.52,699.3 150.52,697.95 159.98,697.95 159.98,699.3 166.73,699.3 166.73,700.65 178.88,700.65 178.88,702 181.58,702 181.58,703.35 186.98,703.35 186.98,704.7 215.32,704.7 215.32,703.35 227.48,703.35 227.48,702 234.23,702 234.23,700.65 238.95,700.65"/>
<polyline points="291.6,704.7 303.08,704.7 303.08,703.35 306.45,703.35"/>
<polyline points="310.5,704.7 321.3,704.7"/>
<polyline points="346.95,708.75 353.02,708.75 353.02,707.4 362.48,707.4 362.48,706.05 366.52,706.05 366.52,704.7 369.22,704.7 369.22,703.35 371.92,703.35 371.92,702 374.62,702 374.62,700.65 377.33,700.65 377.33,699.3 385.42,699.3 385.42,700.65 390.83,700.65 390.83,702 397.58,702 397.58,703.35 411.08,703.35 411.08,702 427.28,702 427.28,700.65 440.78,700.65 440.78,699.3 446.18,699.3 446.18,697.95 452.25,697.95"/>
<polyline points="456.3,697.95 461.02,697.95 461.02,696.6 468.45,696.6"/>
<polyline points="471.15,697.95 471.83,697.95 471.83,699.3 475.88,699.3 475.88,700.65 485.33,700.65 485.33,699.3 498.83,699.3 498.83,697.95 501.52,697.95 501.52,699.3 523.12,699.3 523.12,697.95 532.58,697.95 532.58,696.6 546.08,696.6 546.08,697.95 549.45,697.95"/>
<polyline points="553.5,699.3 554.85,699.3"/>
<polyline points="557.55,700.65 560.25,700.65"/>
<polyline points="575.1,700.65 580.5,700.65"/>
<polyline points="584.55,699.3 589.95,699.3"/>
<polyline points="595.35,697.95 599.4,697.95"/>
<polyline points="603.45,696.6 623.03,696.6 623.03,695.25 625.72,695.25 625.72,696.6 626.4,696.6"/>
<polyline points="697.95,699.3 708.75,699.3"/>
<polyline points="714.15,700.65 720.22,700.65 720.22,699.3 726.3,699.3"/>
<polyline points="737.1,699.3 741.82,699.3 741.82,697.95 745.88,697.95 745.88,696.6 748.58,696.6 748.58,695.25 749.25,695.25"/>
<polyline points="785.7,699.3 791.78,699.3 791.78,700.65 793.8,700.65"/>
<polyline points="108,710.1 110.02,710.1 110.02,708.75 114.08,708.75 114.08,707.4 116.78,707.4 116.78,706.05 120.82,706.05 120.82,704.7 124.88,704.7 124.88,703.35 127.58,703.35 127.58,702 131.62,702 131.62,700.65 134.33,700.65 134.33,699.3 137.02,699.3 137.02,697.95 141.08,697.95 141.08,696.6 145.12,696.6 145.12,695.25 158.62,695.25 158.62,696.6 161.33,696.6 161.33,697.95 166.73,697.95 166.73,699.3 168.08,699.3 168.08,697.95 174.82,697.95 174.82,699.3 176.85,699.3"/>
<polyline points="225.45,702 226.8,702"/>
<polyline points="232.2,700.65 233.55,700.65"/>
<polyline points="294.3,703.35 299.03,703.35 299.03,702 313.88,702 313.88,703.35 317.25,703.35"/>
<polyline points="345.6,707.4 352.35,707.4"/>
<polyline points="355.05,706.05 357.08,706.05 357.08,704.7 359.78,704.7 359.78,703.35 362.48,703.35 362.48,702 365.18,702 365.18,700.65 367.88,700.65 367.88,699.3 370.58,699.3 370.58,697.95 373.28,697.95 373.28,696.6 377.33,696.6 377.33,697.95 382.05,697.95"/>
<polyline points="398.25,702 405.68,702 405.68,700.65 420.52,700.65 420.52,699.3 429.98,699.3 429.98,697.95 438.08,697.95 438.08,696.6 447.52,696.6 447.52,695.25 459.68,695.25 459.68,693.9 467.78,693.9 467.78,695.25 524.48,695.25 524.48,693.9 539.33,693.9 539.33,695.25 541.35,695.25"/>
<polyline points="571.05,700.65 573.75,700.65"/>
<polyline points="577.8,699.3 583.2,699.3"/>
<polyline points="585.9,697.95 591.98,697.95 591.98,696.6 597.38,696.6 597.38,695.25 602.78,695.25 602.78,693.9 622.35,693.9"/>
<polyline points="692.55,699.3 696.6,699.3"/>
<polyline points="700.65,697.95 704.7,697.95"/>
<polyline points="710.1,699.3 718.88,699.3 718.88,697.95 736.42,697.95 736.42,696.6 744.53,696.6 744.53,695.25 747.9,695.25"/>
<polyline points="780.3,696.6 787.72,696.6 787.72,697.95 791.1,697.95"/>
<polyline points="103.95,706.05 105.98,706.05 105.98,704.7 110.02,704.7 110.02,703.35 114.08,703.35 114.08,702 119.48,702 119.48,700.65 123.52,700.65 123.52,699.3 127.58,699.3 127.58,697.95 131.62,697.95 131.62,696.6 134.33,696.6 134.33,695.25 138.38,695.25 138.38,693.9 141.08,693.9 141.08,692.55 145.12,692.55 145.12,691.2 146.48,691.2 146.48,692.55 155.93,692.55 155.93,693.9 158.62,693.9 158.62,695.25 161.33,695.25 161.33,696.6 166.73,696.6 166.73,695.25 172.12,695.25 172.12,696.6 172.8,696.6"/>
<polyline points="178.2,699.3 178.88,699.3 178.88,700.65 179.55,700.65"/>
<polyline points="182.25,702 184.95,702"/>
<polyline points="187.65,703.35 214.65,703.35"/>
<polyline points="220.05,702 224.1,702"/>
<polyline points="228.15,700.65 230.85,700.65"/>
<polyline points="234.9,699.3 237.6,699.3"/>
<polyline points="248.4,703.35 251.1,703.35"/>
<polyline points="253.8,702 255.15,702"/>
<polyline points="257.85,700.65 259.2,700.65"/>
<polyline points="261.9,699.3 264.6,699.3"/>
<polyline points="268.65,700.65 270,700.65"/>
<polyline points="274.05,702 279.45,702"/>
<polyline points="284.85,703.35 292.95,703.35"/>
<polyline points="295.65,702 298.35,702"/>
<polyline points="326.7,706.05 328.05,706.05"/>
<polyline points="330.75,707.4 333.45,707.4"/>
<polyline points="338.85,707.4 344.25,707.4"/>
<polyline points="349.65,706.05 354.38,706.05 354.38,704.7 357.08,704.7 357.08,703.35 358.42,703.35 358.42,702 361.12,702 361.12,700.65 362.48,700.65 362.48,699.3 365.18,699.3 365.18,697.95 366.52,697.95 366.52,696.6 369.22,696.6 369.22,695.25 375.3,695.25"/>
<polyline points="378,696.6 380.7,696.6"/>
<polyline points="383.4,697.95 384.75,697.95"/>
<polyline points="387.45,699.3 388.8,699.3"/>
<polyline points="391.5,700.65 392.85,700.65"/>
<polyline points="398.25,700.65 405,700.65"/>
<polyline points="411.75,699.3 420.52,699.3 420.52,697.95 425.92,697.95 425.92,696.6 431.33,696.6 431.33,695.25 436.72,695.25 436.72,693.9 444.83,693.9 444.83,692.55 451.58,692.55 451.58,691.2 461.02,691.2 461.02,689.85 510.98,689.85 510.98,691.2 540.68,691.2 540.68,692.55 542.03,692.55 542.03,693.9 544.72,693.9 544.72,695.25 546.08,695.25 546.08,696.6 548.1,696.6"/>
<polyline points="550.8,697.95 553.5,697.95"/>
<polyline points="556.2,699.3 558.9,699.3"/>
<polyline points="561.6,700.65 564.3,700.65"/>
<polyline points="568.35,700.65 569.7,700.65"/>
<polyline points="573.75,699.3 576.45,699.3"/>
<polyline points="579.15,697.95 583.88,697.95 583.88,696.6 587.93,696.6 587.93,695.25 591.98,695.25 591.98,693.9 594.68,693.9 594.68,692.55 598.72,692.55 598.72,691.2 601.43,691.2 601.43,689.85 616.28,689.85 616.28,691.2 618.98,691.2 618.98,692.55 621,692.55"/>
<polyline points="633.15,697.95 634.5,697.95"/>
<polyline points="638.55,699.3 639.9,699.3"/>
<polyline points="643.95,700.65 645.3,700.65"/>
<polyline points="649.35,702 654.75,702"/>
<polyline points="660.15,703.35 669.6,703.35"/>
<polyline points="673.65,702 677.7,702"/>
<polyline points="681.75,700.65 684.45,700.65"/>
<polyline points="687.15,699.3 689.85,699.3"/>
<polyline points="692.55,697.95 697.28,697.95 697.28,696.6 698.62,696.6 698.62,697.95 699.3,697.95"/>
<polyline points="706.05,697.95 718.88,697.95 718.88,696.6 731.03,696.6 731.03,695.25 737.78,695.25 737.78,693.9 744.53,693.9 744.53,692.55 751.95,692.55"/>
<polyline points="762.75,691.2 765.45,691.2"/>
<polyline points="770.85,692.55 774.9,692.55"/>
<polyline points="777.6,693.9 785.03,693.9 785.03,695.25 787.05,695.25"/>
</g>
<text x="90.5" y="18" font-size="22" font-weight="bold" textLength="270" lengthAdjust="spacingAndGlyphs">95 mmHg&#160;&#160;-&#160;&#160;plane 0 (z=0)</text>
<text x="63.5" y="658.8" font-size="22" font-weight="bold" textLength="234.5" lengthAdjust="spacingAndGlyphs">100 %&#160;&#160;-&#160;&#160;plane 0 (z=0)</text>
<text x="108.3" y="249" font-size="22" font-weight="bold" textLength="14" lengthAdjust="spacingAndGlyphs">P</text>
<text x="90.3" y="454.2" font-size="22" font-weight="bold" textLength="37.2" lengthAdjust="spacingAndGlyphs">672</text>
<text x="188.6" y="523.3" font-size="22" font-weight="bold" textLength="14" lengthAdjust="spacingAndGlyphs">y</text>
<text x="267.3" y="578.6" font-size="22" font-weight="bold" textLength="10.5" lengthAdjust="spacingAndGlyphs">0</text>
<text x="283.7" y="591.4" font-size="22" font-weight="bold" textLength="10.5" lengthAdjust="spacingAndGlyphs">0</text>
<text x="594.7" y="591.8" font-size="22" font-weight="bold" textLength="65.5" lengthAdjust="spacingAndGlyphs">x [µm]</text>
<text x="929.3" y="592" font-size="22" font-weight="bold" textLength="37.2" lengthAdjust="spacingAndGlyphs">710</text>
<text x="81.6" y="891.9" font-size="22" font-weight="bold" textLength="13" lengthAdjust="spacingAndGlyphs">S</text>
<text x="63.4" y="1098.9" font-size="22" font-weight="bold" textLength="37.2" lengthAdjust="spacingAndGlyphs">672</text>
<text x="162.3" y="1169" font-size="22" font-weight="bold" textLength="14" lengthAdjust="spacingAndGlyphs">y</text>
<text x="242.3" y="1223.7" font-size="22" font-weight="bold" textLength="10.5" lengthAdjust="spacingAndGlyphs">0</text>
<text x="258.8" y="1237.3" font-size="22" font-weight="bold" textLength="10.5" lengthAdjust="spacingAndGlyphs">0</text>
<text x="572.2" y="1237.3" font-size="22" font-weight="bold" textLength="65.5" lengthAdjust="spacingAndGlyphs">x [µm]</text>
<text x="909.9" y="1237.4" font-size="22" font-weight="bold" textLength="37.2" lengthAdjust="spacingAndGlyphs">710</text>
<text x="4.6" y="69.4" font-size="48.8" font-weight="bold" textLength="36.5" lengthAdjust="spacingAndGlyphs">A</text>
<text x="3.6" y="603.5" font-size="49" font-weight="bold" textLength="33.5" lengthAdjust="spacingAndGlyphs">B</text>
<text transform="translate(36.2,281) rotate(-90)" font-size="48.5" font-weight="normal"><tspan>PO</tspan><tspan font-size="30" dy="8.5">2</tspan></text>
<text transform="translate(42,1079.6) rotate(-90)" font-size="49" font-weight="normal" textLength="435.5" lengthAdjust="spacingAndGlyphs">Myoglobin saturation</text>
</svg>
</body></html>
